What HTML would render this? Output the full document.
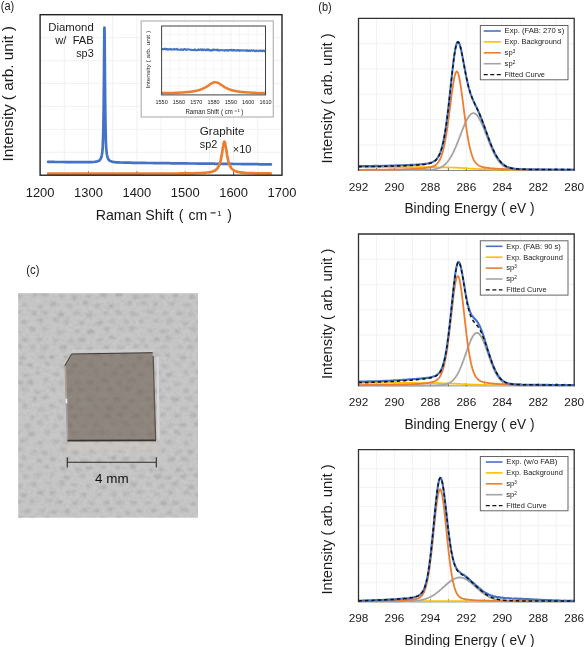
<!DOCTYPE html>
<html><head><meta charset="utf-8"><style>
html,body{margin:0;padding:0;background:#fff;}
svg{display:block;font-family:"Liberation Sans", sans-serif;will-change:transform;}
</style></head><body>
<svg width="584" height="647" viewBox="0 0 584 647">
<rect width="584" height="647" fill="#fff"/>
<defs>
<pattern id="dots" x="18" y="293" width="15" height="18" patternUnits="userSpaceOnUse">
<ellipse cx="4" cy="4" rx="3.2" ry="2.2" fill="#9c9c9c"/>
<ellipse cx="11.5" cy="13" rx="3.2" ry="2.2" fill="#9c9c9c"/>
</pattern>
<filter id="blur1" x="-5%" y="-5%" width="110%" height="110%"><feGaussianBlur stdDeviation="1.1"/></filter>
<filter id="blur2" x="-5%" y="-5%" width="110%" height="110%"><feGaussianBlur stdDeviation="1.25"/></filter>
<filter id="noise" x="0" y="0" width="100%" height="100%"><feTurbulence type="fractalNoise" baseFrequency="0.3" numOctaves="2" seed="7"/><feColorMatrix type="matrix" values="1.6 0 0 0 -0.05  1.6 0 0 0 -0.05  1.6 0 0 0 -0.05  0 0 0 0 1"/><feComposite in2="SourceGraphic" operator="in"/></filter>
<filter id="noise2" x="0" y="0" width="100%" height="100%"><feTurbulence type="fractalNoise" baseFrequency="0.09" numOctaves="2" seed="11"/><feColorMatrix type="matrix" values="0 0 0 0 0.30  0 0 0 0 0.28  0 0 0 0 0.26  3.2 0 0 0 -1.5"/><feComposite in2="SourceGraphic" operator="in"/></filter>
<clipPath id="photoclip"><rect x="18.2" y="293.2" width="179.8" height="224.5"/></clipPath>
</defs>
<rect x="18.2" y="293.2" width="179.8" height="224.5" fill="#c3c3c3"/>
<g clip-path="url(#photoclip)"><g filter="url(#blur2)" opacity="0.45"><ellipse cx="18.6" cy="297.0" rx="3.5" ry="2.3" fill="rgb(160,160,160)"/><ellipse cx="34.6" cy="294.1" rx="3.1" ry="2.3" fill="rgb(160,160,160)"/><ellipse cx="44.8" cy="294.6" rx="2.9" ry="2.3" fill="rgb(152,152,152)"/><ellipse cx="61.7" cy="296.3" rx="2.4" ry="1.7" fill="rgb(148,148,148)"/><ellipse cx="74.4" cy="297.5" rx="2.9" ry="2.2" fill="rgb(142,142,142)"/><ellipse cx="88.7" cy="296.5" rx="2.6" ry="1.5" fill="rgb(140,140,140)"/><ellipse cx="103.5" cy="294.9" rx="3.8" ry="2.3" fill="rgb(149,149,149)"/><ellipse cx="118.6" cy="294.8" rx="3.6" ry="2.1" fill="rgb(145,145,145)"/><ellipse cx="136.2" cy="296.8" rx="3.8" ry="2.3" fill="rgb(149,149,149)"/><ellipse cx="146.1" cy="295.7" rx="3.7" ry="1.7" fill="rgb(150,150,150)"/><ellipse cx="162.0" cy="296.4" rx="2.4" ry="2.1" fill="rgb(150,150,150)"/><ellipse cx="175.3" cy="295.4" rx="2.8" ry="2.1" fill="rgb(145,145,145)"/><ellipse cx="191.9" cy="296.8" rx="2.5" ry="2.4" fill="rgb(140,140,140)"/><ellipse cx="208.7" cy="295.4" rx="3.0" ry="2.0" fill="rgb(153,153,153)"/><ellipse cx="24.5" cy="304.9" rx="2.4" ry="1.5" fill="rgb(145,145,145)"/><ellipse cx="40.3" cy="306.4" rx="2.6" ry="1.7" fill="rgb(154,154,154)"/><ellipse cx="53.4" cy="304.0" rx="3.1" ry="2.2" fill="rgb(143,143,143)"/><ellipse cx="69.1" cy="305.7" rx="2.9" ry="1.8" fill="rgb(153,153,153)"/><ellipse cx="85.4" cy="303.0" rx="2.9" ry="2.0" fill="rgb(144,144,144)"/><ellipse cx="96.9" cy="306.3" rx="3.2" ry="1.8" fill="rgb(150,150,150)"/><ellipse cx="111.2" cy="305.8" rx="3.3" ry="2.1" fill="rgb(149,149,149)"/><ellipse cx="129.2" cy="303.2" rx="2.5" ry="2.4" fill="rgb(157,157,157)"/><ellipse cx="143.3" cy="302.7" rx="3.4" ry="1.8" fill="rgb(148,148,148)"/><ellipse cx="155.5" cy="304.3" rx="2.5" ry="2.3" fill="rgb(141,141,141)"/><ellipse cx="171.7" cy="303.9" rx="2.7" ry="2.4" fill="rgb(158,158,158)"/><ellipse cx="186.9" cy="305.1" rx="3.5" ry="1.6" fill="rgb(153,153,153)"/><ellipse cx="198.6" cy="302.8" rx="3.0" ry="1.6" fill="rgb(159,159,159)"/><ellipse cx="215.5" cy="306.5" rx="3.0" ry="1.9" fill="rgb(150,150,150)"/><ellipse cx="17.9" cy="312.4" rx="3.0" ry="1.6" fill="rgb(152,152,152)"/><ellipse cx="34.1" cy="313.3" rx="2.7" ry="2.3" fill="rgb(150,150,150)"/><ellipse cx="45.4" cy="313.2" rx="3.1" ry="2.0" fill="rgb(156,156,156)"/><ellipse cx="60.8" cy="314.3" rx="3.5" ry="2.1" fill="rgb(141,141,141)"/><ellipse cx="77.3" cy="312.7" rx="3.4" ry="1.8" fill="rgb(155,155,155)"/><ellipse cx="89.3" cy="315.1" rx="3.4" ry="2.4" fill="rgb(150,150,150)"/><ellipse cx="105.7" cy="313.5" rx="2.4" ry="2.0" fill="rgb(148,148,148)"/><ellipse cx="118.6" cy="312.3" rx="2.8" ry="2.0" fill="rgb(151,151,151)"/><ellipse cx="133.2" cy="313.8" rx="3.4" ry="2.2" fill="rgb(151,151,151)"/><ellipse cx="150.6" cy="311.9" rx="3.6" ry="1.9" fill="rgb(151,151,151)"/><ellipse cx="165.3" cy="313.3" rx="3.1" ry="1.6" fill="rgb(151,151,151)"/><ellipse cx="179.7" cy="313.1" rx="3.4" ry="2.1" fill="rgb(153,153,153)"/><ellipse cx="190.4" cy="314.3" rx="3.2" ry="2.1" fill="rgb(153,153,153)"/><ellipse cx="205.5" cy="313.4" rx="3.6" ry="1.7" fill="rgb(140,140,140)"/><ellipse cx="23.7" cy="322.1" rx="3.3" ry="1.7" fill="rgb(145,145,145)"/><ellipse cx="40.4" cy="320.0" rx="3.1" ry="1.7" fill="rgb(141,141,141)"/><ellipse cx="56.2" cy="320.2" rx="3.8" ry="1.9" fill="rgb(157,157,157)"/><ellipse cx="66.4" cy="321.7" rx="2.9" ry="2.1" fill="rgb(158,158,158)"/><ellipse cx="81.7" cy="322.7" rx="2.9" ry="1.8" fill="rgb(148,148,148)"/><ellipse cx="99.5" cy="323.3" rx="3.4" ry="2.0" fill="rgb(141,141,141)"/><ellipse cx="112.4" cy="321.0" rx="2.8" ry="2.0" fill="rgb(158,158,158)"/><ellipse cx="125.7" cy="321.2" rx="2.6" ry="1.9" fill="rgb(158,158,158)"/><ellipse cx="141.9" cy="321.3" rx="2.6" ry="2.0" fill="rgb(158,158,158)"/><ellipse cx="155.6" cy="320.6" rx="2.6" ry="1.6" fill="rgb(140,140,140)"/><ellipse cx="169.6" cy="321.1" rx="3.7" ry="2.0" fill="rgb(150,150,150)"/><ellipse cx="185.3" cy="323.4" rx="2.9" ry="1.9" fill="rgb(147,147,147)"/><ellipse cx="199.2" cy="321.7" rx="3.4" ry="1.8" fill="rgb(145,145,145)"/><ellipse cx="214.2" cy="320.8" rx="3.8" ry="1.9" fill="rgb(153,153,153)"/><ellipse cx="15.6" cy="332.2" rx="2.8" ry="2.3" fill="rgb(144,144,144)"/><ellipse cx="32.4" cy="328.9" rx="3.3" ry="1.9" fill="rgb(149,149,149)"/><ellipse cx="44.7" cy="328.9" rx="2.9" ry="1.9" fill="rgb(157,157,157)"/><ellipse cx="60.4" cy="332.1" rx="3.5" ry="1.7" fill="rgb(148,148,148)"/><ellipse cx="77.7" cy="331.3" rx="2.8" ry="1.9" fill="rgb(155,155,155)"/><ellipse cx="90.6" cy="331.9" rx="3.6" ry="2.3" fill="rgb(140,140,140)"/><ellipse cx="106.3" cy="329.6" rx="3.1" ry="1.8" fill="rgb(149,149,149)"/><ellipse cx="120.7" cy="328.5" rx="2.9" ry="2.1" fill="rgb(158,158,158)"/><ellipse cx="132.2" cy="328.4" rx="3.2" ry="2.1" fill="rgb(143,143,143)"/><ellipse cx="150.4" cy="330.6" rx="2.4" ry="2.2" fill="rgb(153,153,153)"/><ellipse cx="163.5" cy="331.2" rx="3.7" ry="2.1" fill="rgb(152,152,152)"/><ellipse cx="177.4" cy="331.1" rx="3.4" ry="2.3" fill="rgb(154,154,154)"/><ellipse cx="193.7" cy="328.7" rx="3.6" ry="2.1" fill="rgb(153,153,153)"/><ellipse cx="206.9" cy="331.0" rx="3.1" ry="1.8" fill="rgb(145,145,145)"/><ellipse cx="25.1" cy="339.2" rx="3.1" ry="1.8" fill="rgb(144,144,144)"/><ellipse cx="39.3" cy="339.2" rx="2.5" ry="2.2" fill="rgb(148,148,148)"/><ellipse cx="55.8" cy="340.2" rx="3.3" ry="1.5" fill="rgb(153,153,153)"/><ellipse cx="71.1" cy="341.0" rx="3.4" ry="1.5" fill="rgb(143,143,143)"/><ellipse cx="81.8" cy="339.6" rx="3.7" ry="2.1" fill="rgb(144,144,144)"/><ellipse cx="100.2" cy="339.8" rx="3.0" ry="1.7" fill="rgb(145,145,145)"/><ellipse cx="111.8" cy="337.6" rx="3.3" ry="1.5" fill="rgb(143,143,143)"/><ellipse cx="127.5" cy="340.0" rx="2.8" ry="2.0" fill="rgb(143,143,143)"/><ellipse cx="142.4" cy="340.5" rx="2.6" ry="1.9" fill="rgb(150,150,150)"/><ellipse cx="156.6" cy="339.0" rx="2.9" ry="2.1" fill="rgb(141,141,141)"/><ellipse cx="168.4" cy="338.2" rx="3.2" ry="2.1" fill="rgb(149,149,149)"/><ellipse cx="186.8" cy="339.2" rx="3.3" ry="1.7" fill="rgb(157,157,157)"/><ellipse cx="197.9" cy="340.3" rx="2.8" ry="2.4" fill="rgb(147,147,147)"/><ellipse cx="215.5" cy="338.8" rx="2.9" ry="1.6" fill="rgb(140,140,140)"/><ellipse cx="18.8" cy="345.9" rx="3.3" ry="1.6" fill="rgb(143,143,143)"/><ellipse cx="32.5" cy="347.4" rx="2.9" ry="1.9" fill="rgb(150,150,150)"/><ellipse cx="45.0" cy="347.7" rx="3.2" ry="1.8" fill="rgb(144,144,144)"/><ellipse cx="63.7" cy="347.3" rx="3.5" ry="2.2" fill="rgb(142,142,142)"/><ellipse cx="78.4" cy="348.3" rx="3.5" ry="1.6" fill="rgb(159,159,159)"/><ellipse cx="89.9" cy="348.9" rx="2.8" ry="2.3" fill="rgb(151,151,151)"/><ellipse cx="106.5" cy="347.1" rx="3.4" ry="1.8" fill="rgb(149,149,149)"/><ellipse cx="121.0" cy="347.3" rx="3.6" ry="2.0" fill="rgb(158,158,158)"/><ellipse cx="136.5" cy="346.5" rx="2.7" ry="1.6" fill="rgb(141,141,141)"/><ellipse cx="146.2" cy="346.4" rx="2.5" ry="2.3" fill="rgb(155,155,155)"/><ellipse cx="163.8" cy="347.0" rx="3.0" ry="1.8" fill="rgb(159,159,159)"/><ellipse cx="179.6" cy="346.9" rx="3.0" ry="1.7" fill="rgb(160,160,160)"/><ellipse cx="190.3" cy="347.1" rx="2.9" ry="2.3" fill="rgb(144,144,144)"/><ellipse cx="206.8" cy="346.0" rx="3.5" ry="2.2" fill="rgb(147,147,147)"/><ellipse cx="22.9" cy="357.8" rx="2.9" ry="2.2" fill="rgb(150,150,150)"/><ellipse cx="41.9" cy="357.0" rx="3.3" ry="1.9" fill="rgb(144,144,144)"/><ellipse cx="52.3" cy="356.9" rx="2.8" ry="2.1" fill="rgb(145,145,145)"/><ellipse cx="66.4" cy="357.1" rx="3.2" ry="2.1" fill="rgb(159,159,159)"/><ellipse cx="82.7" cy="358.1" rx="2.9" ry="1.8" fill="rgb(154,154,154)"/><ellipse cx="97.0" cy="354.5" rx="3.8" ry="1.9" fill="rgb(147,147,147)"/><ellipse cx="110.6" cy="355.0" rx="2.5" ry="2.0" fill="rgb(148,148,148)"/><ellipse cx="124.2" cy="354.4" rx="3.5" ry="1.9" fill="rgb(141,141,141)"/><ellipse cx="138.9" cy="357.5" rx="3.6" ry="2.0" fill="rgb(143,143,143)"/><ellipse cx="156.8" cy="355.1" rx="3.5" ry="1.6" fill="rgb(155,155,155)"/><ellipse cx="168.0" cy="355.2" rx="2.5" ry="1.9" fill="rgb(141,141,141)"/><ellipse cx="182.4" cy="357.5" rx="3.0" ry="2.1" fill="rgb(141,141,141)"/><ellipse cx="201.5" cy="355.0" rx="3.4" ry="2.1" fill="rgb(146,146,146)"/><ellipse cx="213.9" cy="354.5" rx="2.8" ry="1.6" fill="rgb(157,157,157)"/><ellipse cx="20.4" cy="363.4" rx="2.5" ry="2.2" fill="rgb(159,159,159)"/><ellipse cx="30.1" cy="365.0" rx="3.1" ry="2.0" fill="rgb(152,152,152)"/><ellipse cx="47.1" cy="363.3" rx="2.4" ry="2.2" fill="rgb(154,154,154)"/><ellipse cx="63.5" cy="366.8" rx="3.2" ry="1.6" fill="rgb(155,155,155)"/><ellipse cx="73.9" cy="365.9" rx="3.5" ry="1.8" fill="rgb(144,144,144)"/><ellipse cx="90.7" cy="364.7" rx="3.4" ry="2.2" fill="rgb(158,158,158)"/><ellipse cx="105.8" cy="363.9" rx="3.1" ry="1.7" fill="rgb(146,146,146)"/><ellipse cx="121.0" cy="366.3" rx="3.6" ry="1.6" fill="rgb(150,150,150)"/><ellipse cx="133.4" cy="365.9" rx="2.4" ry="1.8" fill="rgb(144,144,144)"/><ellipse cx="148.9" cy="364.6" rx="3.5" ry="2.1" fill="rgb(140,140,140)"/><ellipse cx="164.1" cy="365.6" rx="2.8" ry="2.2" fill="rgb(152,152,152)"/><ellipse cx="177.8" cy="364.1" rx="2.8" ry="1.6" fill="rgb(155,155,155)"/><ellipse cx="192.9" cy="363.9" rx="2.5" ry="2.2" fill="rgb(157,157,157)"/><ellipse cx="204.1" cy="363.3" rx="3.8" ry="2.2" fill="rgb(153,153,153)"/><ellipse cx="27.0" cy="375.2" rx="3.3" ry="1.7" fill="rgb(153,153,153)"/><ellipse cx="37.8" cy="372.2" rx="2.9" ry="1.6" fill="rgb(159,159,159)"/><ellipse cx="55.8" cy="374.3" rx="2.5" ry="2.0" fill="rgb(145,145,145)"/><ellipse cx="69.4" cy="372.0" rx="3.5" ry="1.9" fill="rgb(153,153,153)"/><ellipse cx="81.3" cy="372.7" rx="3.7" ry="1.9" fill="rgb(153,153,153)"/><ellipse cx="96.1" cy="371.6" rx="3.3" ry="1.6" fill="rgb(155,155,155)"/><ellipse cx="114.5" cy="373.8" rx="2.5" ry="2.2" fill="rgb(153,153,153)"/><ellipse cx="127.6" cy="372.2" rx="2.4" ry="2.3" fill="rgb(147,147,147)"/><ellipse cx="141.1" cy="374.9" rx="2.9" ry="1.7" fill="rgb(148,148,148)"/><ellipse cx="157.3" cy="372.6" rx="3.1" ry="2.2" fill="rgb(147,147,147)"/><ellipse cx="169.5" cy="374.6" rx="3.5" ry="2.1" fill="rgb(141,141,141)"/><ellipse cx="185.3" cy="373.0" rx="2.6" ry="2.2" fill="rgb(155,155,155)"/><ellipse cx="198.6" cy="371.8" rx="3.0" ry="2.2" fill="rgb(149,149,149)"/><ellipse cx="215.7" cy="372.2" rx="3.5" ry="1.8" fill="rgb(155,155,155)"/><ellipse cx="19.8" cy="382.5" rx="3.5" ry="1.8" fill="rgb(140,140,140)"/><ellipse cx="30.5" cy="382.4" rx="3.3" ry="2.2" fill="rgb(140,140,140)"/><ellipse cx="46.1" cy="380.1" rx="2.8" ry="1.8" fill="rgb(155,155,155)"/><ellipse cx="61.7" cy="382.8" rx="3.0" ry="2.2" fill="rgb(158,158,158)"/><ellipse cx="78.1" cy="382.8" rx="3.3" ry="2.0" fill="rgb(153,153,153)"/><ellipse cx="89.8" cy="382.4" rx="3.4" ry="2.0" fill="rgb(149,149,149)"/><ellipse cx="103.9" cy="380.1" rx="3.5" ry="2.0" fill="rgb(153,153,153)"/><ellipse cx="118.5" cy="383.7" rx="2.8" ry="2.1" fill="rgb(142,142,142)"/><ellipse cx="131.7" cy="380.4" rx="3.7" ry="1.8" fill="rgb(151,151,151)"/><ellipse cx="149.4" cy="383.4" rx="3.4" ry="2.0" fill="rgb(146,146,146)"/><ellipse cx="162.9" cy="380.4" rx="2.6" ry="1.8" fill="rgb(157,157,157)"/><ellipse cx="177.1" cy="383.9" rx="3.3" ry="1.8" fill="rgb(160,160,160)"/><ellipse cx="192.1" cy="380.8" rx="3.3" ry="1.8" fill="rgb(150,150,150)"/><ellipse cx="204.5" cy="382.8" rx="3.2" ry="2.1" fill="rgb(151,151,151)"/><ellipse cx="23.9" cy="389.0" rx="2.8" ry="2.2" fill="rgb(159,159,159)"/><ellipse cx="37.6" cy="392.4" rx="2.5" ry="1.9" fill="rgb(145,145,145)"/><ellipse cx="52.8" cy="388.9" rx="3.2" ry="2.2" fill="rgb(157,157,157)"/><ellipse cx="69.8" cy="390.3" rx="3.0" ry="2.0" fill="rgb(147,147,147)"/><ellipse cx="82.2" cy="389.7" rx="3.2" ry="2.4" fill="rgb(145,145,145)"/><ellipse cx="97.3" cy="389.2" rx="2.8" ry="2.0" fill="rgb(158,158,158)"/><ellipse cx="110.6" cy="389.4" rx="3.2" ry="2.1" fill="rgb(150,150,150)"/><ellipse cx="127.8" cy="388.8" rx="3.1" ry="2.3" fill="rgb(142,142,142)"/><ellipse cx="140.3" cy="392.0" rx="3.3" ry="2.3" fill="rgb(147,147,147)"/><ellipse cx="157.7" cy="391.1" rx="3.5" ry="2.3" fill="rgb(140,140,140)"/><ellipse cx="168.7" cy="389.2" rx="2.5" ry="1.6" fill="rgb(159,159,159)"/><ellipse cx="186.0" cy="390.9" rx="3.0" ry="1.8" fill="rgb(145,145,145)"/><ellipse cx="200.3" cy="392.3" rx="3.7" ry="2.1" fill="rgb(143,143,143)"/><ellipse cx="213.0" cy="391.9" rx="2.7" ry="1.8" fill="rgb(145,145,145)"/><ellipse cx="17.8" cy="399.9" rx="3.4" ry="1.6" fill="rgb(152,152,152)"/><ellipse cx="34.7" cy="399.1" rx="2.4" ry="2.4" fill="rgb(151,151,151)"/><ellipse cx="45.2" cy="397.2" rx="2.9" ry="1.8" fill="rgb(142,142,142)"/><ellipse cx="61.5" cy="401.0" rx="3.4" ry="1.5" fill="rgb(155,155,155)"/><ellipse cx="78.5" cy="400.2" rx="2.7" ry="1.8" fill="rgb(144,144,144)"/><ellipse cx="89.5" cy="399.2" rx="3.4" ry="2.2" fill="rgb(158,158,158)"/><ellipse cx="103.0" cy="398.8" rx="3.7" ry="1.6" fill="rgb(153,153,153)"/><ellipse cx="117.3" cy="398.9" rx="2.7" ry="2.1" fill="rgb(142,142,142)"/><ellipse cx="132.2" cy="401.1" rx="3.2" ry="1.9" fill="rgb(145,145,145)"/><ellipse cx="148.7" cy="398.7" rx="3.7" ry="1.6" fill="rgb(151,151,151)"/><ellipse cx="161.1" cy="397.5" rx="3.5" ry="1.6" fill="rgb(140,140,140)"/><ellipse cx="175.1" cy="399.4" rx="3.7" ry="2.3" fill="rgb(142,142,142)"/><ellipse cx="189.8" cy="398.1" rx="3.8" ry="1.9" fill="rgb(155,155,155)"/><ellipse cx="206.6" cy="401.0" rx="3.2" ry="2.3" fill="rgb(155,155,155)"/><ellipse cx="25.2" cy="406.0" rx="2.9" ry="2.2" fill="rgb(153,153,153)"/><ellipse cx="41.5" cy="409.6" rx="3.3" ry="2.1" fill="rgb(158,158,158)"/><ellipse cx="51.9" cy="405.9" rx="3.5" ry="1.9" fill="rgb(153,153,153)"/><ellipse cx="70.8" cy="407.3" rx="3.8" ry="2.2" fill="rgb(150,150,150)"/><ellipse cx="81.4" cy="408.9" rx="3.0" ry="2.4" fill="rgb(151,151,151)"/><ellipse cx="96.3" cy="407.5" rx="2.8" ry="1.9" fill="rgb(149,149,149)"/><ellipse cx="109.7" cy="408.3" rx="3.5" ry="2.2" fill="rgb(142,142,142)"/><ellipse cx="124.6" cy="407.3" rx="3.7" ry="2.3" fill="rgb(146,146,146)"/><ellipse cx="141.9" cy="408.8" rx="3.1" ry="1.8" fill="rgb(154,154,154)"/><ellipse cx="153.9" cy="406.7" rx="3.7" ry="2.3" fill="rgb(140,140,140)"/><ellipse cx="167.8" cy="409.0" rx="2.5" ry="1.6" fill="rgb(160,160,160)"/><ellipse cx="184.1" cy="408.9" rx="2.6" ry="2.0" fill="rgb(157,157,157)"/><ellipse cx="197.2" cy="406.2" rx="3.3" ry="1.8" fill="rgb(151,151,151)"/><ellipse cx="215.7" cy="408.0" rx="3.0" ry="2.3" fill="rgb(158,158,158)"/><ellipse cx="16.2" cy="414.5" rx="2.4" ry="1.8" fill="rgb(147,147,147)"/><ellipse cx="32.4" cy="417.2" rx="2.4" ry="2.2" fill="rgb(153,153,153)"/><ellipse cx="45.7" cy="417.3" rx="2.7" ry="1.8" fill="rgb(156,156,156)"/><ellipse cx="60.2" cy="417.2" rx="3.6" ry="2.2" fill="rgb(157,157,157)"/><ellipse cx="75.0" cy="416.2" rx="3.3" ry="2.3" fill="rgb(151,151,151)"/><ellipse cx="90.8" cy="415.5" rx="3.2" ry="2.0" fill="rgb(152,152,152)"/><ellipse cx="107.4" cy="415.6" rx="2.6" ry="2.3" fill="rgb(142,142,142)"/><ellipse cx="120.2" cy="414.6" rx="2.7" ry="2.1" fill="rgb(143,143,143)"/><ellipse cx="136.1" cy="415.6" rx="3.2" ry="2.2" fill="rgb(144,144,144)"/><ellipse cx="148.3" cy="414.7" rx="2.4" ry="2.0" fill="rgb(158,158,158)"/><ellipse cx="162.8" cy="414.6" rx="2.5" ry="1.8" fill="rgb(144,144,144)"/><ellipse cx="176.9" cy="415.8" rx="3.5" ry="1.9" fill="rgb(144,144,144)"/><ellipse cx="193.2" cy="415.4" rx="3.6" ry="2.1" fill="rgb(152,152,152)"/><ellipse cx="204.8" cy="417.6" rx="3.4" ry="2.0" fill="rgb(154,154,154)"/><ellipse cx="27.3" cy="426.3" rx="3.2" ry="2.0" fill="rgb(151,151,151)"/><ellipse cx="40.0" cy="423.0" rx="2.5" ry="2.2" fill="rgb(155,155,155)"/><ellipse cx="55.1" cy="425.6" rx="2.4" ry="1.9" fill="rgb(153,153,153)"/><ellipse cx="69.8" cy="425.4" rx="3.3" ry="1.7" fill="rgb(143,143,143)"/><ellipse cx="84.2" cy="425.9" rx="3.2" ry="1.5" fill="rgb(154,154,154)"/><ellipse cx="96.7" cy="425.1" rx="3.2" ry="2.3" fill="rgb(160,160,160)"/><ellipse cx="113.1" cy="424.1" rx="3.0" ry="1.8" fill="rgb(154,154,154)"/><ellipse cx="125.7" cy="423.0" rx="3.5" ry="2.0" fill="rgb(155,155,155)"/><ellipse cx="141.0" cy="423.6" rx="2.7" ry="1.7" fill="rgb(159,159,159)"/><ellipse cx="154.2" cy="423.4" rx="2.9" ry="1.6" fill="rgb(153,153,153)"/><ellipse cx="169.9" cy="425.1" rx="3.0" ry="1.7" fill="rgb(155,155,155)"/><ellipse cx="183.0" cy="425.0" rx="3.7" ry="1.8" fill="rgb(140,140,140)"/><ellipse cx="197.4" cy="424.1" rx="3.1" ry="2.0" fill="rgb(146,146,146)"/><ellipse cx="214.0" cy="425.6" rx="3.0" ry="2.2" fill="rgb(150,150,150)"/><ellipse cx="17.0" cy="432.0" rx="2.8" ry="1.8" fill="rgb(156,156,156)"/><ellipse cx="31.3" cy="434.1" rx="3.3" ry="2.4" fill="rgb(143,143,143)"/><ellipse cx="47.9" cy="432.0" rx="2.5" ry="2.3" fill="rgb(149,149,149)"/><ellipse cx="63.2" cy="433.9" rx="2.5" ry="2.4" fill="rgb(152,152,152)"/><ellipse cx="74.4" cy="432.9" rx="3.5" ry="1.6" fill="rgb(150,150,150)"/><ellipse cx="92.4" cy="432.8" rx="2.8" ry="1.8" fill="rgb(153,153,153)"/><ellipse cx="102.8" cy="432.8" rx="2.7" ry="2.3" fill="rgb(156,156,156)"/><ellipse cx="119.0" cy="433.4" rx="2.5" ry="1.9" fill="rgb(158,158,158)"/><ellipse cx="134.2" cy="434.2" rx="3.4" ry="1.8" fill="rgb(151,151,151)"/><ellipse cx="150.7" cy="433.5" rx="2.5" ry="2.2" fill="rgb(143,143,143)"/><ellipse cx="163.6" cy="432.0" rx="3.3" ry="2.1" fill="rgb(152,152,152)"/><ellipse cx="177.2" cy="432.7" rx="3.2" ry="2.4" fill="rgb(153,153,153)"/><ellipse cx="189.7" cy="435.1" rx="3.8" ry="1.6" fill="rgb(160,160,160)"/><ellipse cx="204.9" cy="432.4" rx="3.6" ry="2.1" fill="rgb(142,142,142)"/><ellipse cx="23.4" cy="440.4" rx="3.7" ry="1.9" fill="rgb(154,154,154)"/><ellipse cx="40.0" cy="443.4" rx="3.3" ry="1.7" fill="rgb(145,145,145)"/><ellipse cx="55.4" cy="441.2" rx="3.1" ry="2.2" fill="rgb(159,159,159)"/><ellipse cx="66.7" cy="442.6" rx="3.0" ry="2.4" fill="rgb(143,143,143)"/><ellipse cx="82.9" cy="441.1" rx="2.7" ry="2.1" fill="rgb(154,154,154)"/><ellipse cx="96.5" cy="442.1" rx="3.3" ry="2.2" fill="rgb(155,155,155)"/><ellipse cx="110.2" cy="442.5" rx="2.8" ry="1.8" fill="rgb(141,141,141)"/><ellipse cx="126.9" cy="442.4" rx="2.7" ry="1.5" fill="rgb(158,158,158)"/><ellipse cx="141.7" cy="442.8" rx="3.1" ry="2.3" fill="rgb(159,159,159)"/><ellipse cx="154.6" cy="441.5" rx="3.6" ry="1.6" fill="rgb(153,153,153)"/><ellipse cx="169.2" cy="441.7" rx="3.5" ry="1.8" fill="rgb(146,146,146)"/><ellipse cx="186.0" cy="443.1" rx="2.4" ry="2.3" fill="rgb(149,149,149)"/><ellipse cx="201.5" cy="441.9" rx="2.8" ry="2.2" fill="rgb(158,158,158)"/><ellipse cx="214.6" cy="441.6" rx="3.4" ry="2.0" fill="rgb(159,159,159)"/><ellipse cx="19.4" cy="448.9" rx="3.2" ry="2.1" fill="rgb(157,157,157)"/><ellipse cx="34.0" cy="451.9" rx="3.6" ry="1.5" fill="rgb(157,157,157)"/><ellipse cx="44.5" cy="452.7" rx="3.4" ry="1.7" fill="rgb(145,145,145)"/><ellipse cx="63.3" cy="449.8" rx="3.6" ry="2.1" fill="rgb(152,152,152)"/><ellipse cx="75.6" cy="452.3" rx="3.3" ry="2.3" fill="rgb(146,146,146)"/><ellipse cx="91.3" cy="451.1" rx="3.4" ry="2.0" fill="rgb(153,153,153)"/><ellipse cx="105.4" cy="449.7" rx="2.5" ry="2.0" fill="rgb(157,157,157)"/><ellipse cx="120.8" cy="450.6" rx="3.4" ry="1.6" fill="rgb(148,148,148)"/><ellipse cx="134.2" cy="448.8" rx="3.0" ry="1.9" fill="rgb(146,146,146)"/><ellipse cx="149.8" cy="449.2" rx="3.0" ry="1.9" fill="rgb(155,155,155)"/><ellipse cx="162.9" cy="450.9" rx="2.4" ry="2.2" fill="rgb(159,159,159)"/><ellipse cx="178.1" cy="452.1" rx="3.3" ry="2.1" fill="rgb(159,159,159)"/><ellipse cx="190.5" cy="451.4" rx="3.0" ry="2.0" fill="rgb(142,142,142)"/><ellipse cx="207.5" cy="449.6" rx="3.1" ry="2.3" fill="rgb(145,145,145)"/><ellipse cx="23.8" cy="457.4" rx="3.0" ry="1.8" fill="rgb(152,152,152)"/><ellipse cx="39.2" cy="460.5" rx="2.6" ry="1.8" fill="rgb(146,146,146)"/><ellipse cx="52.8" cy="459.0" rx="3.0" ry="1.9" fill="rgb(140,140,140)"/><ellipse cx="67.6" cy="459.5" rx="2.7" ry="2.1" fill="rgb(148,148,148)"/><ellipse cx="84.5" cy="460.9" rx="3.7" ry="2.2" fill="rgb(153,153,153)"/><ellipse cx="99.3" cy="461.0" rx="3.2" ry="2.2" fill="rgb(154,154,154)"/><ellipse cx="113.4" cy="458.2" rx="3.2" ry="2.1" fill="rgb(141,141,141)"/><ellipse cx="125.2" cy="459.5" rx="3.6" ry="1.8" fill="rgb(143,143,143)"/><ellipse cx="142.2" cy="459.1" rx="3.5" ry="2.1" fill="rgb(145,145,145)"/><ellipse cx="153.2" cy="458.0" rx="3.0" ry="1.6" fill="rgb(140,140,140)"/><ellipse cx="171.2" cy="459.3" rx="3.6" ry="2.3" fill="rgb(142,142,142)"/><ellipse cx="184.6" cy="458.9" rx="3.8" ry="2.2" fill="rgb(151,151,151)"/><ellipse cx="200.5" cy="459.3" rx="3.5" ry="1.9" fill="rgb(150,150,150)"/><ellipse cx="214.2" cy="459.5" rx="2.6" ry="1.9" fill="rgb(154,154,154)"/><ellipse cx="20.4" cy="466.1" rx="3.1" ry="1.6" fill="rgb(156,156,156)"/><ellipse cx="30.4" cy="468.1" rx="2.7" ry="2.1" fill="rgb(159,159,159)"/><ellipse cx="46.1" cy="466.3" rx="2.9" ry="1.7" fill="rgb(151,151,151)"/><ellipse cx="63.3" cy="469.1" rx="2.8" ry="2.1" fill="rgb(143,143,143)"/><ellipse cx="78.1" cy="469.6" rx="3.5" ry="2.3" fill="rgb(160,160,160)"/><ellipse cx="88.4" cy="467.9" rx="3.6" ry="1.7" fill="rgb(149,149,149)"/><ellipse cx="103.3" cy="467.1" rx="3.0" ry="1.6" fill="rgb(156,156,156)"/><ellipse cx="118.2" cy="467.2" rx="2.5" ry="1.8" fill="rgb(152,152,152)"/><ellipse cx="133.0" cy="466.4" rx="2.9" ry="2.4" fill="rgb(142,142,142)"/><ellipse cx="150.9" cy="469.5" rx="2.9" ry="1.6" fill="rgb(150,150,150)"/><ellipse cx="161.0" cy="469.4" rx="2.9" ry="2.1" fill="rgb(154,154,154)"/><ellipse cx="178.5" cy="469.7" rx="3.2" ry="2.3" fill="rgb(149,149,149)"/><ellipse cx="190.8" cy="469.3" rx="3.1" ry="1.8" fill="rgb(156,156,156)"/><ellipse cx="204.5" cy="468.0" rx="3.6" ry="1.9" fill="rgb(146,146,146)"/><ellipse cx="25.8" cy="476.2" rx="3.0" ry="1.6" fill="rgb(154,154,154)"/><ellipse cx="38.8" cy="474.8" rx="3.5" ry="1.9" fill="rgb(158,158,158)"/><ellipse cx="52.2" cy="474.6" rx="2.6" ry="1.8" fill="rgb(158,158,158)"/><ellipse cx="66.7" cy="477.6" rx="3.7" ry="1.6" fill="rgb(142,142,142)"/><ellipse cx="82.2" cy="475.8" rx="3.0" ry="1.7" fill="rgb(153,153,153)"/><ellipse cx="97.5" cy="475.2" rx="2.9" ry="2.1" fill="rgb(156,156,156)"/><ellipse cx="112.5" cy="476.2" rx="3.1" ry="1.9" fill="rgb(141,141,141)"/><ellipse cx="125.1" cy="476.5" rx="2.8" ry="2.1" fill="rgb(143,143,143)"/><ellipse cx="140.9" cy="475.7" rx="3.7" ry="1.8" fill="rgb(160,160,160)"/><ellipse cx="157.9" cy="476.2" rx="3.6" ry="2.4" fill="rgb(144,144,144)"/><ellipse cx="168.4" cy="477.8" rx="3.2" ry="1.8" fill="rgb(145,145,145)"/><ellipse cx="183.1" cy="476.2" rx="3.7" ry="1.9" fill="rgb(148,148,148)"/><ellipse cx="197.7" cy="475.2" rx="3.7" ry="2.0" fill="rgb(143,143,143)"/><ellipse cx="212.6" cy="474.7" rx="3.5" ry="2.1" fill="rgb(147,147,147)"/><ellipse cx="19.0" cy="486.7" rx="3.3" ry="1.5" fill="rgb(143,143,143)"/><ellipse cx="33.9" cy="484.4" rx="2.9" ry="2.1" fill="rgb(145,145,145)"/><ellipse cx="48.7" cy="483.3" rx="2.7" ry="1.5" fill="rgb(155,155,155)"/><ellipse cx="61.6" cy="483.4" rx="2.7" ry="2.4" fill="rgb(150,150,150)"/><ellipse cx="74.6" cy="485.0" rx="2.4" ry="1.6" fill="rgb(146,146,146)"/><ellipse cx="88.5" cy="486.0" rx="2.6" ry="2.3" fill="rgb(160,160,160)"/><ellipse cx="103.0" cy="487.2" rx="3.4" ry="2.3" fill="rgb(151,151,151)"/><ellipse cx="120.9" cy="484.2" rx="2.6" ry="1.7" fill="rgb(142,142,142)"/><ellipse cx="133.5" cy="484.2" rx="3.7" ry="2.3" fill="rgb(149,149,149)"/><ellipse cx="148.3" cy="484.1" rx="2.5" ry="2.2" fill="rgb(157,157,157)"/><ellipse cx="161.6" cy="485.9" rx="2.5" ry="1.9" fill="rgb(148,148,148)"/><ellipse cx="175.0" cy="483.8" rx="3.4" ry="2.3" fill="rgb(150,150,150)"/><ellipse cx="191.3" cy="487.0" rx="3.1" ry="2.3" fill="rgb(140,140,140)"/><ellipse cx="207.0" cy="484.5" rx="2.9" ry="1.8" fill="rgb(160,160,160)"/><ellipse cx="23.8" cy="495.2" rx="3.2" ry="1.9" fill="rgb(140,140,140)"/><ellipse cx="40.2" cy="492.6" rx="3.7" ry="2.0" fill="rgb(142,142,142)"/><ellipse cx="52.8" cy="492.6" rx="3.3" ry="2.0" fill="rgb(149,149,149)"/><ellipse cx="70.4" cy="492.4" rx="3.5" ry="1.7" fill="rgb(159,159,159)"/><ellipse cx="83.7" cy="494.6" rx="3.4" ry="1.9" fill="rgb(154,154,154)"/><ellipse cx="98.3" cy="494.6" rx="2.5" ry="1.7" fill="rgb(154,154,154)"/><ellipse cx="113.7" cy="494.4" rx="3.3" ry="2.1" fill="rgb(158,158,158)"/><ellipse cx="126.6" cy="493.9" rx="3.6" ry="1.8" fill="rgb(157,157,157)"/><ellipse cx="139.5" cy="492.4" rx="3.5" ry="1.8" fill="rgb(155,155,155)"/><ellipse cx="157.5" cy="494.2" rx="2.9" ry="1.7" fill="rgb(157,157,157)"/><ellipse cx="170.5" cy="492.6" rx="2.5" ry="2.3" fill="rgb(140,140,140)"/><ellipse cx="186.8" cy="492.5" rx="3.2" ry="1.7" fill="rgb(145,145,145)"/><ellipse cx="198.1" cy="495.1" rx="2.8" ry="2.1" fill="rgb(149,149,149)"/><ellipse cx="214.7" cy="494.3" rx="2.4" ry="1.7" fill="rgb(148,148,148)"/><ellipse cx="19.5" cy="501.9" rx="3.5" ry="1.6" fill="rgb(152,152,152)"/><ellipse cx="32.4" cy="501.0" rx="3.3" ry="2.1" fill="rgb(155,155,155)"/><ellipse cx="49.2" cy="500.6" rx="3.8" ry="1.9" fill="rgb(159,159,159)"/><ellipse cx="59.2" cy="502.4" rx="3.3" ry="1.8" fill="rgb(145,145,145)"/><ellipse cx="75.3" cy="502.9" rx="3.3" ry="2.1" fill="rgb(152,152,152)"/><ellipse cx="91.5" cy="503.2" rx="3.4" ry="1.7" fill="rgb(159,159,159)"/><ellipse cx="106.4" cy="503.0" rx="2.8" ry="2.4" fill="rgb(153,153,153)"/><ellipse cx="119.5" cy="502.5" rx="3.4" ry="2.2" fill="rgb(154,154,154)"/><ellipse cx="133.9" cy="502.4" rx="3.3" ry="1.7" fill="rgb(147,147,147)"/><ellipse cx="147.6" cy="503.3" rx="3.7" ry="1.6" fill="rgb(154,154,154)"/><ellipse cx="163.8" cy="502.6" rx="3.5" ry="2.3" fill="rgb(144,144,144)"/><ellipse cx="175.1" cy="503.2" rx="3.4" ry="1.6" fill="rgb(143,143,143)"/><ellipse cx="193.5" cy="503.7" rx="2.5" ry="1.9" fill="rgb(145,145,145)"/><ellipse cx="208.7" cy="503.4" rx="2.9" ry="2.2" fill="rgb(157,157,157)"/><ellipse cx="27.6" cy="511.1" rx="3.5" ry="1.8" fill="rgb(147,147,147)"/><ellipse cx="42.1" cy="511.0" rx="3.1" ry="2.1" fill="rgb(157,157,157)"/><ellipse cx="53.3" cy="512.1" rx="3.2" ry="1.5" fill="rgb(141,141,141)"/><ellipse cx="67.2" cy="511.2" rx="2.8" ry="2.4" fill="rgb(147,147,147)"/><ellipse cx="84.8" cy="510.0" rx="3.3" ry="2.0" fill="rgb(155,155,155)"/><ellipse cx="96.4" cy="510.7" rx="2.7" ry="1.9" fill="rgb(150,150,150)"/><ellipse cx="110.3" cy="509.6" rx="2.8" ry="2.2" fill="rgb(151,151,151)"/><ellipse cx="128.0" cy="513.0" rx="2.5" ry="2.0" fill="rgb(148,148,148)"/><ellipse cx="139.3" cy="511.1" rx="2.8" ry="1.6" fill="rgb(143,143,143)"/><ellipse cx="153.7" cy="510.2" rx="2.6" ry="2.3" fill="rgb(147,147,147)"/><ellipse cx="169.3" cy="512.8" rx="2.5" ry="2.3" fill="rgb(153,153,153)"/><ellipse cx="184.1" cy="509.5" rx="3.6" ry="2.0" fill="rgb(152,152,152)"/><ellipse cx="200.4" cy="512.2" rx="2.4" ry="1.8" fill="rgb(154,154,154)"/><ellipse cx="211.9" cy="511.9" rx="3.3" ry="1.8" fill="rgb(157,157,157)"/><ellipse cx="19.8" cy="518.7" rx="3.0" ry="2.4" fill="rgb(140,140,140)"/><ellipse cx="32.3" cy="518.8" rx="3.7" ry="1.9" fill="rgb(149,149,149)"/><ellipse cx="47.1" cy="517.9" rx="3.8" ry="1.6" fill="rgb(158,158,158)"/><ellipse cx="60.2" cy="521.6" rx="3.3" ry="2.0" fill="rgb(155,155,155)"/><ellipse cx="76.1" cy="519.1" rx="2.6" ry="1.5" fill="rgb(143,143,143)"/><ellipse cx="91.1" cy="519.3" rx="3.7" ry="1.9" fill="rgb(157,157,157)"/><ellipse cx="103.7" cy="518.9" rx="3.1" ry="1.7" fill="rgb(155,155,155)"/><ellipse cx="119.4" cy="517.9" rx="2.5" ry="2.3" fill="rgb(158,158,158)"/><ellipse cx="134.2" cy="521.6" rx="3.0" ry="2.1" fill="rgb(154,154,154)"/><ellipse cx="150.7" cy="520.3" rx="2.5" ry="1.9" fill="rgb(158,158,158)"/><ellipse cx="161.3" cy="519.0" rx="3.4" ry="2.2" fill="rgb(153,153,153)"/><ellipse cx="175.9" cy="519.4" rx="3.7" ry="2.3" fill="rgb(155,155,155)"/><ellipse cx="192.4" cy="521.1" rx="3.0" ry="1.6" fill="rgb(151,151,151)"/><ellipse cx="206.4" cy="521.1" rx="2.8" ry="2.4" fill="rgb(150,150,150)"/></g></g>
<rect x="18.2" y="293.2" width="179.8" height="224.5" fill="#000" filter="url(#noise)" opacity="0.09"/>
<rect x="66" y="442" width="91" height="9" fill="#cfc8c2" opacity="0.55" filter="url(#blur1)"/>
<rect x="72" y="349.5" width="81" height="3" fill="#d8d8d8" opacity="0.45"/>
<path d="M64.8,365.7 L71.6,354 L152.7,352.7 L155.8,440.6 L67.5,441.1 Z" fill="rgb(92,78,62)" fill-opacity="0.53"/>
<clipPath id="chipclip"><path d="M64.8,365.7 L71.6,354 L152.7,352.7 L155.8,440.6 L67.5,441.1 Z"/></clipPath>
<rect x="64" y="352" width="94" height="90" fill="#000" filter="url(#noise2)" opacity="0.25" clip-path="url(#chipclip)"/>
<path d="M65.3,366 L67.6,440.5" stroke="#a8a098" stroke-width="1.6" fill="none"/>
<path d="M64.8,365.7 L71.6,354 L152.7,352.7" stroke="#3e3934" stroke-width="1.0" fill="none"/>
<path d="M67.5,440.6 L156,440.3" stroke="#3a3430" stroke-width="1.8" fill="none"/>
<path d="M153.2,356 L155.6,440" stroke="#5a534c" stroke-width="1.3" fill="none"/>
<path d="M157.6,356.5 L158.6,439.5" stroke="#d6d6d6" stroke-width="2.2" fill="none"/>
<path d="M66.4,398.8 L66.5,403.2" stroke="#f2f2f2" stroke-width="1.6" fill="none"/>
<path d="M67.3,462.3 H156.3 M67.3,457.2 V467.5 M156.3,457.2 V467.5" stroke="#2a2a2a" stroke-width="1.1" fill="none"/>
<text x="0.80" y="10.40" font-size="12" text-anchor="start" fill="#1a1a1a" textLength="13.40" lengthAdjust="spacingAndGlyphs" >(a)</text>
<line x1="40.10" y1="37.63" x2="282.00" y2="37.63" stroke="#ededed" stroke-width="0.8" />
<line x1="40.10" y1="60.56" x2="282.00" y2="60.56" stroke="#ededed" stroke-width="0.8" />
<line x1="40.10" y1="83.49" x2="282.00" y2="83.49" stroke="#ededed" stroke-width="0.8" />
<line x1="40.10" y1="106.41" x2="282.00" y2="106.41" stroke="#ededed" stroke-width="0.8" />
<line x1="40.10" y1="129.34" x2="282.00" y2="129.34" stroke="#ededed" stroke-width="0.8" />
<line x1="40.10" y1="152.27" x2="282.00" y2="152.27" stroke="#ededed" stroke-width="0.8" />
<line x1="64.29" y1="14.70" x2="64.29" y2="175.20" stroke="#ededed" stroke-width="0.8" />
<line x1="88.48" y1="14.70" x2="88.48" y2="175.20" stroke="#ededed" stroke-width="0.8" />
<line x1="112.67" y1="14.70" x2="112.67" y2="175.20" stroke="#ededed" stroke-width="0.8" />
<line x1="136.86" y1="14.70" x2="136.86" y2="175.20" stroke="#ededed" stroke-width="0.8" />
<line x1="161.05" y1="14.70" x2="161.05" y2="175.20" stroke="#ededed" stroke-width="0.8" />
<line x1="185.24" y1="14.70" x2="185.24" y2="175.20" stroke="#ededed" stroke-width="0.8" />
<line x1="209.43" y1="14.70" x2="209.43" y2="175.20" stroke="#ededed" stroke-width="0.8" />
<line x1="233.62" y1="14.70" x2="233.62" y2="175.20" stroke="#ededed" stroke-width="0.8" />
<line x1="257.81" y1="14.70" x2="257.81" y2="175.20" stroke="#ededed" stroke-width="0.8" />
<line x1="88.48" y1="171.40" x2="88.48" y2="175.20" stroke="#444" stroke-width="0.9" />
<line x1="136.86" y1="171.40" x2="136.86" y2="175.20" stroke="#444" stroke-width="0.9" />
<line x1="185.24" y1="171.40" x2="185.24" y2="175.20" stroke="#444" stroke-width="0.9" />
<line x1="233.62" y1="171.40" x2="233.62" y2="175.20" stroke="#444" stroke-width="0.9" />
<path d="M48.1,161.9 49.5,161.9 51.0,161.9 52.4,161.9 53.9,161.9 55.3,162.0 56.8,162.0 58.2,162.0 59.7,162.0 61.1,162.0 62.6,162.0 64.0,162.0 65.5,162.1 67.0,162.1 68.4,162.1 69.9,162.1 71.3,162.1 72.8,162.1 74.2,162.1 75.7,162.1 77.1,162.1 78.6,162.2 80.0,162.2 81.5,162.2 82.9,162.2 84.4,162.2 85.8,162.2 87.3,162.1 88.7,162.1 90.2,162.1 91.6,162.1 93.1,162.0 94.5,161.9 96.0,161.7 97.4,161.4 98.9,160.7 99.0,160.7 99.1,160.6 99.2,160.6 99.3,160.5 99.4,160.4 99.5,160.3 99.6,160.3 99.7,160.2 99.8,160.1 99.8,160.0 99.9,159.9 100.0,159.8 100.1,159.6 100.2,159.5 100.3,159.4 100.4,159.2 100.5,159.1 100.6,158.9 100.7,158.7 100.8,158.5 100.9,158.3 101.0,158.1 101.1,157.8 101.2,157.6 101.3,157.3 101.4,157.0 101.5,156.6 101.6,156.2 101.7,155.8 101.8,155.3 101.9,154.8 102.0,154.2 102.1,153.6 102.2,152.9 102.3,152.1 102.4,151.1 102.5,150.1 102.6,148.9 102.7,147.6 102.8,146.1 102.8,144.3 102.9,142.2 103.0,139.8 103.1,137.0 103.2,133.6 103.3,129.7 103.4,124.9 103.5,119.3 103.6,112.5 103.7,104.4 103.8,94.7 103.9,83.5 104.0,70.9 104.1,57.4 104.2,44.4 104.3,33.8 104.4,27.7 104.5,27.7 104.6,33.8 104.7,44.4 104.8,57.4 104.9,70.9 105.0,83.5 105.1,94.7 105.2,104.4 105.3,112.5 105.4,119.3 105.5,125.0 105.6,129.7 105.7,133.7 105.8,137.0 105.8,139.8 105.9,142.3 106.0,144.3 106.1,146.1 106.2,147.6 106.3,149.0 106.4,150.2 106.5,151.2 106.6,152.1 106.7,152.9 106.8,153.6 106.9,154.3 107.0,154.9 107.1,155.4 107.2,155.8 107.3,156.3 107.4,156.7 107.5,157.0 107.6,157.3 107.7,157.6 107.8,157.9 107.9,158.2 108.0,158.4 108.1,158.6 108.2,158.8 108.3,159.0 108.4,159.2 108.5,159.3 108.6,159.5 108.7,159.6 108.8,159.7 108.8,159.9 108.9,160.0 109.0,160.1 109.1,160.2 109.2,160.3 109.3,160.4 109.4,160.5 109.5,160.5 109.6,160.6 109.7,160.7 109.8,160.7 109.9,160.8 110.0,160.9 110.1,160.9 110.2,161.0 110.3,161.0 111.8,161.6 113.2,161.9 114.7,162.1 116.1,162.3 117.6,162.4 119.0,162.4 120.5,162.5 121.9,162.5 123.4,162.6 124.8,162.6 126.3,162.7 127.7,162.7 129.2,162.7 130.6,162.7 132.1,162.8 133.5,162.8 135.0,162.8 136.4,162.8 137.9,162.8 139.3,162.9 140.8,162.9 142.2,162.9 143.7,162.9 145.1,162.9 146.6,163.0 148.0,163.0 149.5,163.0 150.9,163.0 152.4,163.0 153.8,163.1 155.3,163.1 156.7,163.1 158.2,163.1 159.6,163.1 161.1,163.1 162.5,163.2 164.0,163.2 165.5,163.2 166.9,163.2 168.4,163.2 169.8,163.2 171.3,163.3 172.7,163.3 174.2,163.3 175.6,163.3 177.1,163.3 178.5,163.3 180.0,163.4 181.4,163.4 182.9,163.4 184.3,163.4 185.8,163.4 187.2,163.4 188.7,163.5 190.1,163.5 191.6,163.5 193.0,163.5 194.5,163.5 195.9,163.5 197.4,163.6 198.8,163.6 200.3,163.6 201.7,163.6 203.2,163.6 204.6,163.6 206.1,163.7 207.5,163.7 209.0,163.7 210.4,163.7 210.7,163.7 210.9,163.7 211.2,163.7 211.4,163.7 211.7,163.7 211.9,163.7 212.1,163.7 212.4,163.7 212.6,163.7 212.9,163.7 213.1,163.7 213.3,163.7 213.6,163.7 213.8,163.7 214.1,163.7 214.3,163.7 214.6,163.7 214.8,163.8 215.0,163.8 215.3,163.8 215.5,163.8 215.8,163.8 216.0,163.8 216.3,163.8 216.5,163.8 216.7,163.8 217.0,163.8 217.2,163.8 217.5,163.8 217.7,163.8 217.9,163.8 218.2,163.8 218.4,163.8 218.7,163.8 218.9,163.8 219.2,163.8 219.4,163.8 219.6,163.8 219.9,163.8 220.1,163.8 220.4,163.8 220.6,163.8 220.8,163.8 221.1,163.8 221.3,163.8 221.6,163.8 221.8,163.8 222.1,163.8 222.3,163.8 222.5,163.8 222.8,163.8 223.0,163.8 223.3,163.8 223.5,163.9 223.8,163.9 224.0,163.9 224.2,163.9 224.5,163.9 224.7,163.9 225.0,163.9 225.2,163.9 225.4,163.9 225.7,163.9 225.9,163.9 226.2,163.9 226.4,163.9 226.7,163.9 226.9,163.9 227.1,163.9 227.4,163.9 227.6,163.9 227.9,163.9 228.1,163.9 228.3,163.9 228.6,163.9 228.8,163.9 229.1,163.9 229.3,163.9 229.6,163.9 229.8,163.9 230.0,163.9 230.3,163.9 230.5,163.9 230.8,163.9 231.0,163.9 231.2,163.9 231.5,163.9 231.7,163.9 232.0,163.9 232.2,163.9 232.5,164.0 232.7,164.0 232.9,164.0 233.2,164.0 233.4,164.0 233.7,164.0 233.9,164.0 234.2,164.0 234.4,164.0 234.6,164.0 234.9,164.0 235.1,164.0 235.4,164.0 235.6,164.0 235.8,164.0 236.1,164.0 236.3,164.0 236.6,164.0 236.8,164.0 237.1,164.0 237.3,164.0 237.5,164.0 237.8,164.0 238.0,164.0 238.3,164.0 238.5,164.0 238.7,164.0 239.0,164.0 240.4,164.0 241.9,164.1 243.3,164.1 244.8,164.1 246.2,164.1 247.7,164.1 249.1,164.1 250.6,164.2 252.1,164.2 253.5,164.2 255.0,164.2 256.4,164.2 257.9,164.2 259.3,164.3 260.8,164.3 262.2,164.3 263.7,164.3 265.1,164.3 266.6,164.3 268.0,164.3 269.5,164.4 270.9,164.4" fill="none" stroke="#4472C4" stroke-width="2.7" stroke-linejoin="round" stroke-linecap="round"/>
<path d="M48.1,173.6 49.5,173.6 51.0,173.6 52.4,173.6 53.9,173.6 55.3,173.6 56.8,173.6 58.2,173.6 59.7,173.6 61.1,173.6 62.6,173.6 64.0,173.6 65.5,173.6 67.0,173.6 68.4,173.6 69.9,173.6 71.3,173.6 72.8,173.6 74.2,173.6 75.7,173.6 77.1,173.6 78.6,173.6 80.0,173.6 81.5,173.6 82.9,173.6 84.4,173.6 85.8,173.6 87.3,173.6 88.7,173.6 90.2,173.6 91.6,173.6 93.1,173.6 94.5,173.6 96.0,173.6 97.4,173.6 98.9,173.6 99.0,173.6 99.1,173.6 99.2,173.6 99.3,173.6 99.4,173.6 99.5,173.6 99.6,173.6 99.7,173.6 99.8,173.6 99.8,173.6 99.9,173.6 100.0,173.6 100.1,173.6 100.2,173.6 100.3,173.6 100.4,173.6 100.5,173.6 100.6,173.6 100.7,173.6 100.8,173.6 100.9,173.6 101.0,173.6 101.1,173.6 101.2,173.6 101.3,173.6 101.4,173.6 101.5,173.6 101.6,173.6 101.7,173.6 101.8,173.6 101.9,173.6 102.0,173.6 102.1,173.6 102.2,173.6 102.3,173.6 102.4,173.6 102.5,173.6 102.6,173.6 102.7,173.6 102.8,173.6 102.8,173.6 102.9,173.6 103.0,173.6 103.1,173.6 103.2,173.6 103.3,173.6 103.4,173.6 103.5,173.6 103.6,173.6 103.7,173.6 103.8,173.6 103.9,173.6 104.0,173.6 104.1,173.6 104.2,173.6 104.3,173.6 104.4,173.6 104.5,173.6 104.6,173.6 104.7,173.6 104.8,173.6 104.9,173.6 105.0,173.6 105.1,173.6 105.2,173.6 105.3,173.6 105.4,173.6 105.5,173.6 105.6,173.6 105.7,173.6 105.8,173.6 105.8,173.6 105.9,173.6 106.0,173.6 106.1,173.6 106.2,173.6 106.3,173.6 106.4,173.6 106.5,173.6 106.6,173.6 106.7,173.6 106.8,173.6 106.9,173.6 107.0,173.6 107.1,173.6 107.2,173.6 107.3,173.6 107.4,173.6 107.5,173.6 107.6,173.6 107.7,173.6 107.8,173.6 107.9,173.6 108.0,173.6 108.1,173.6 108.2,173.6 108.3,173.6 108.4,173.6 108.5,173.6 108.6,173.6 108.7,173.6 108.8,173.6 108.8,173.6 108.9,173.6 109.0,173.6 109.1,173.6 109.2,173.6 109.3,173.6 109.4,173.6 109.5,173.6 109.6,173.6 109.7,173.6 109.8,173.6 109.9,173.6 110.0,173.6 110.1,173.6 110.2,173.6 110.3,173.6 111.8,173.6 113.2,173.6 114.7,173.6 116.1,173.6 117.6,173.6 119.0,173.6 120.5,173.6 121.9,173.6 123.4,173.6 124.8,173.6 126.3,173.6 127.7,173.6 129.2,173.6 130.6,173.6 132.1,173.6 133.5,173.6 135.0,173.6 136.4,173.6 137.9,173.6 139.3,173.6 140.8,173.6 142.2,173.6 143.7,173.6 145.1,173.5 146.6,173.5 148.0,173.5 149.5,173.5 150.9,173.5 152.4,173.5 153.8,173.5 155.3,173.5 156.7,173.5 158.2,173.5 159.6,173.5 161.1,173.5 162.5,173.5 164.0,173.5 165.5,173.5 166.9,173.5 168.4,173.5 169.8,173.5 171.3,173.5 172.7,173.5 174.2,173.5 175.6,173.5 177.1,173.5 178.5,173.5 180.0,173.4 181.4,173.4 182.9,173.4 184.3,173.4 185.8,173.4 187.2,173.4 188.7,173.4 190.1,173.3 191.6,173.3 193.0,173.3 194.5,173.3 195.9,173.2 197.4,173.2 198.8,173.1 200.3,173.1 201.7,173.0 203.2,172.9 204.6,172.8 206.1,172.7 207.5,172.5 209.0,172.3 210.4,172.1 210.7,172.0 210.9,172.0 211.2,171.9 211.4,171.8 211.7,171.8 211.9,171.7 212.1,171.6 212.4,171.6 212.6,171.5 212.9,171.4 213.1,171.3 213.3,171.2 213.6,171.1 213.8,171.0 214.1,170.9 214.3,170.8 214.6,170.7 214.8,170.5 215.0,170.4 215.3,170.2 215.5,170.1 215.8,169.9 216.0,169.7 216.3,169.5 216.5,169.3 216.7,169.0 217.0,168.8 217.2,168.5 217.5,168.2 217.7,167.9 217.9,167.5 218.2,167.1 218.4,166.7 218.7,166.3 218.9,165.8 219.2,165.2 219.4,164.6 219.6,164.0 219.9,163.3 220.1,162.5 220.4,161.7 220.6,160.7 220.8,159.7 221.1,158.6 221.3,157.4 221.6,156.1 221.8,154.7 222.1,153.3 222.3,151.7 222.5,150.1 222.8,148.6 223.0,147.0 223.3,145.5 223.5,144.2 223.8,143.1 224.0,142.3 224.2,141.8 224.5,141.7 224.7,142.0 225.0,142.6 225.2,143.5 225.4,144.7 225.7,146.1 225.9,147.6 226.2,149.2 226.4,150.8 226.7,152.3 226.9,153.9 227.1,155.3 227.4,156.6 227.6,157.9 227.9,159.1 228.1,160.1 228.3,161.1 228.6,162.0 228.8,162.8 229.1,163.6 229.3,164.3 229.6,164.9 229.8,165.5 230.0,166.0 230.3,166.5 230.5,166.9 230.8,167.3 231.0,167.7 231.2,168.0 231.5,168.3 231.7,168.6 232.0,168.9 232.2,169.1 232.5,169.4 232.7,169.6 232.9,169.8 233.2,170.0 233.4,170.1 233.7,170.3 233.9,170.4 234.2,170.6 234.4,170.7 234.6,170.8 234.9,171.0 235.1,171.1 235.4,171.2 235.6,171.3 235.8,171.4 236.1,171.4 236.3,171.5 236.6,171.6 236.8,171.7 237.1,171.7 237.3,171.8 237.5,171.9 237.8,171.9 238.0,172.0 238.3,172.0 238.5,172.1 238.7,172.1 239.0,172.2 240.4,172.4 241.9,172.6 243.3,172.7 244.8,172.9 246.2,173.0 247.7,173.0 249.1,173.1 250.6,173.1 252.1,173.2 253.5,173.2 255.0,173.3 256.4,173.3 257.9,173.3 259.3,173.3 260.8,173.4 262.2,173.4 263.7,173.4 265.1,173.4 266.6,173.4 268.0,173.4 269.5,173.4 270.9,173.5" fill="none" stroke="#ED7D31" stroke-width="2.7" stroke-linejoin="round" stroke-linecap="round"/>
<rect x="40.1" y="14.7" width="241.9" height="160.5" fill="none" stroke="#1c1c1c" stroke-width="1.35"/>
<text x="40.10" y="196.90" font-size="12.6" text-anchor="middle" fill="#1a1a1a" textLength="28.80" lengthAdjust="spacingAndGlyphs" >1200</text>
<text x="88.48" y="196.90" font-size="12.6" text-anchor="middle" fill="#1a1a1a" textLength="28.80" lengthAdjust="spacingAndGlyphs" >1300</text>
<text x="136.86" y="196.90" font-size="12.6" text-anchor="middle" fill="#1a1a1a" textLength="28.80" lengthAdjust="spacingAndGlyphs" >1400</text>
<text x="185.24" y="196.90" font-size="12.6" text-anchor="middle" fill="#1a1a1a" textLength="28.80" lengthAdjust="spacingAndGlyphs" >1500</text>
<text x="233.62" y="196.90" font-size="12.6" text-anchor="middle" fill="#1a1a1a" textLength="28.80" lengthAdjust="spacingAndGlyphs" >1600</text>
<text x="282.00" y="196.90" font-size="12.6" text-anchor="middle" fill="#1a1a1a" textLength="28.80" lengthAdjust="spacingAndGlyphs" >1700</text>
<text x="95.70" y="219.90" font-size="14.5" text-anchor="start" fill="#1a1a1a" textLength="78.00" lengthAdjust="spacingAndGlyphs" >Raman Shift</text>
<text x="178.70" y="219.90" font-size="14" text-anchor="start" fill="#1a1a1a" >(</text>
<text x="188.50" y="219.90" font-size="14.5" text-anchor="start" fill="#1a1a1a" textLength="18.70" lengthAdjust="spacingAndGlyphs" >cm</text>
<line x1="210.60" y1="212.90" x2="215.60" y2="212.90" stroke="#1a1a1a" stroke-width="1.1" />
<text x="217.30" y="215.90" font-size="7.8" text-anchor="start" fill="#1a1a1a" >1</text>
<text x="227.20" y="219.90" font-size="14" text-anchor="start" fill="#1a1a1a" >)</text>
<text transform="translate(12.7,161.5) rotate(-90)" x="0" y="0" font-size="14.8" fill="#1a1a1a" textLength="135.4" lengthAdjust="spacingAndGlyphs">Intensity ( arb. unit )</text>
<text x="93.70" y="31.00" font-size="10.2" text-anchor="end" fill="#1a1a1a" textLength="45.40" lengthAdjust="spacingAndGlyphs" >Diamond</text>
<text x="93.70" y="43.70" font-size="10.2" text-anchor="end" fill="#1a1a1a" textLength="38.40" lengthAdjust="spacingAndGlyphs" xml:space="preserve">w/  FAB</text>
<text x="93.70" y="56.50" font-size="10.2" text-anchor="end" fill="#1a1a1a" textLength="17.50" lengthAdjust="spacingAndGlyphs" >sp3</text>
<text x="199.80" y="134.60" font-size="10.2" text-anchor="start" fill="#1a1a1a" textLength="44.70" lengthAdjust="spacingAndGlyphs" >Graphite</text>
<text x="199.80" y="147.50" font-size="10.2" text-anchor="start" fill="#1a1a1a" textLength="17.60" lengthAdjust="spacingAndGlyphs" >sp2</text>
<text x="232.80" y="152.80" font-size="10.8" text-anchor="start" fill="#1a1a1a" textLength="18.60" lengthAdjust="spacingAndGlyphs" >×10</text>
<rect x="141.2" y="21" width="132.1" height="96" fill="#fff" stroke="#b4b4b4" stroke-width="1.2"/>
<line x1="170.26" y1="26.00" x2="170.26" y2="94.90" stroke="#efefef" stroke-width="0.6" />
<line x1="178.92" y1="26.00" x2="178.92" y2="94.90" stroke="#efefef" stroke-width="0.6" />
<line x1="187.57" y1="26.00" x2="187.57" y2="94.90" stroke="#efefef" stroke-width="0.6" />
<line x1="196.23" y1="26.00" x2="196.23" y2="94.90" stroke="#efefef" stroke-width="0.6" />
<line x1="204.89" y1="26.00" x2="204.89" y2="94.90" stroke="#efefef" stroke-width="0.6" />
<line x1="213.55" y1="26.00" x2="213.55" y2="94.90" stroke="#efefef" stroke-width="0.6" />
<line x1="222.21" y1="26.00" x2="222.21" y2="94.90" stroke="#efefef" stroke-width="0.6" />
<line x1="230.87" y1="26.00" x2="230.87" y2="94.90" stroke="#efefef" stroke-width="0.6" />
<line x1="239.52" y1="26.00" x2="239.52" y2="94.90" stroke="#efefef" stroke-width="0.6" />
<line x1="248.18" y1="26.00" x2="248.18" y2="94.90" stroke="#efefef" stroke-width="0.6" />
<line x1="256.84" y1="26.00" x2="256.84" y2="94.90" stroke="#efefef" stroke-width="0.6" />
<line x1="161.60" y1="34.61" x2="265.50" y2="34.61" stroke="#efefef" stroke-width="0.6" />
<line x1="161.60" y1="43.23" x2="265.50" y2="43.23" stroke="#efefef" stroke-width="0.6" />
<line x1="161.60" y1="51.84" x2="265.50" y2="51.84" stroke="#efefef" stroke-width="0.6" />
<line x1="161.60" y1="60.45" x2="265.50" y2="60.45" stroke="#efefef" stroke-width="0.6" />
<line x1="161.60" y1="69.06" x2="265.50" y2="69.06" stroke="#efefef" stroke-width="0.6" />
<line x1="161.60" y1="77.68" x2="265.50" y2="77.68" stroke="#efefef" stroke-width="0.6" />
<line x1="161.60" y1="86.29" x2="265.50" y2="86.29" stroke="#efefef" stroke-width="0.6" />
<path d="M161.6,93.2 162.2,93.1 162.8,93.1 163.4,93.1 164.0,93.1 164.6,93.1 165.2,93.1 165.8,93.1 166.4,93.1 167.1,93.1 167.7,93.0 168.3,93.0 168.9,93.0 169.5,93.0 170.1,93.0 170.7,93.0 171.3,92.9 171.9,92.9 172.5,92.9 173.1,92.9 173.7,92.9 174.3,92.9 174.9,92.8 175.5,92.8 176.1,92.8 176.8,92.8 177.4,92.7 178.0,92.7 178.6,92.7 179.2,92.7 179.8,92.6 180.4,92.6 181.0,92.6 181.6,92.5 182.2,92.5 182.8,92.5 183.4,92.4 184.0,92.4 184.6,92.3 185.2,92.3 185.8,92.2 186.4,92.2 187.1,92.1 187.7,92.1 188.3,92.0 188.9,92.0 189.5,91.9 190.1,91.8 190.7,91.7 191.3,91.7 191.9,91.6 192.5,91.5 193.1,91.4 193.7,91.3 194.3,91.2 194.9,91.1 195.5,91.0 196.1,90.8 196.8,90.7 197.4,90.6 198.0,90.4 198.6,90.2 199.2,90.1 199.8,89.9 200.4,89.7 201.0,89.4 201.6,89.2 202.2,89.0 202.8,88.7 203.4,88.4 204.0,88.1 204.6,87.8 205.2,87.5 205.8,87.1 206.5,86.8 207.1,86.4 207.7,86.0 208.3,85.6 208.9,85.2 209.5,84.7 210.1,84.3 210.7,83.9 211.3,83.6 211.9,83.2 212.5,82.9 213.1,82.6 213.7,82.4 214.3,82.3 214.9,82.2 215.5,82.2 216.1,82.3 216.8,82.4 217.4,82.6 218.0,82.9 218.6,83.2 219.2,83.5 219.8,83.9 220.4,84.3 221.0,84.7 221.6,85.1 222.2,85.5 222.8,85.9 223.4,86.3 224.0,86.7 224.6,87.1 225.2,87.4 225.8,87.8 226.5,88.1 227.1,88.4 227.7,88.7 228.3,88.9 228.9,89.2 229.5,89.4 230.1,89.6 230.7,89.8 231.3,90.0 231.9,90.2 232.5,90.4 233.1,90.5 233.7,90.7 234.3,90.8 234.9,90.9 235.5,91.1 236.1,91.2 236.8,91.3 237.4,91.4 238.0,91.5 238.6,91.6 239.2,91.7 239.8,91.7 240.4,91.8 241.0,91.9 241.6,92.0 242.2,92.0 242.8,92.1 243.4,92.1 244.0,92.2 244.6,92.2 245.2,92.3 245.8,92.3 246.5,92.4 247.1,92.4 247.7,92.5 248.3,92.5 248.9,92.5 249.5,92.6 250.1,92.6 250.7,92.6 251.3,92.7 251.9,92.7 252.5,92.7 253.1,92.7 253.7,92.8 254.3,92.8 254.9,92.8 255.5,92.8 256.1,92.9 256.8,92.9 257.4,92.9 258.0,92.9 258.6,92.9 259.2,92.9 259.8,93.0 260.4,93.0 261.0,93.0 261.6,93.0 262.2,93.0 262.8,93.0 263.4,93.1 264.0,93.1 264.6,93.1 265.2,93.1" fill="none" stroke="#ED7D31" stroke-width="2.5" stroke-linejoin="round" />
<path d="M161.6,48.8 162.2,49.2 162.8,49.0 163.4,49.2 164.0,49.3 164.6,48.7 165.2,48.6 165.8,49.5 166.4,48.9 167.1,48.9 167.7,49.8 168.3,49.2 168.9,49.6 169.5,49.2 170.1,49.4 170.7,48.9 171.3,49.4 171.9,49.7 172.5,49.3 173.1,49.6 173.7,49.5 174.3,48.8 174.9,49.6 175.5,49.4 176.1,49.1 176.8,48.8 177.4,49.8 178.0,49.4 178.6,49.6 179.2,49.8 179.8,49.7 180.4,49.9 181.0,49.3 181.6,49.8 182.2,49.4 182.8,49.9 183.4,49.9 184.0,49.0 184.6,49.1 185.2,49.2 185.8,50.0 186.4,49.5 187.1,49.7 187.7,49.3 188.3,49.6 188.9,49.4 189.5,49.4 190.1,49.7 190.7,49.7 191.3,50.1 191.9,49.8 192.5,50.1 193.1,50.0 193.7,50.2 194.3,49.9 194.9,49.3 195.5,50.1 196.1,50.2 196.8,50.2 197.4,49.8 198.0,50.0 198.6,49.4 199.2,50.1 199.8,49.8 200.4,49.5 201.0,49.3 201.6,50.2 202.2,50.3 202.8,49.4 203.4,50.2 204.0,49.7 204.6,49.5 205.2,49.6 205.8,50.2 206.5,50.3 207.1,49.4 207.7,50.0 208.3,49.4 208.9,50.2 209.5,49.7 210.1,50.4 210.7,50.5 211.3,50.0 211.9,50.5 212.5,49.8 213.1,49.5 213.7,50.1 214.3,49.5 214.9,49.7 215.5,49.9 216.1,50.2 216.8,49.7 217.4,49.6 218.0,50.5 218.6,49.9 219.2,50.6 219.8,50.5 220.4,50.0 221.0,50.1 221.6,50.2 222.2,50.3 222.8,50.3 223.4,50.2 224.0,50.3 224.6,50.7 225.2,50.2 225.8,50.1 226.5,50.5 227.1,49.9 227.7,50.0 228.3,50.8 228.9,50.3 229.5,50.3 230.1,49.7 230.7,50.2 231.3,50.4 231.9,49.8 232.5,50.5 233.1,50.5 233.7,49.9 234.3,50.5 234.9,50.3 235.5,50.6 236.1,50.2 236.8,50.6 237.4,50.7 238.0,49.9 238.6,50.0 239.2,50.6 239.8,51.0 240.4,50.2 241.0,50.4 241.6,50.6 242.2,50.3 242.8,50.4 243.4,50.3 244.0,50.4 244.6,50.6 245.2,50.3 245.8,50.4 246.5,50.9 247.1,50.1 247.7,50.7 248.3,50.9 248.9,50.4 249.5,50.3 250.1,51.0 250.7,50.4 251.3,50.3 251.9,50.6 252.5,50.9 253.1,50.2 253.7,50.5 254.3,50.5 254.9,51.1 255.5,50.7 256.1,51.1 256.8,50.4 257.4,50.6 258.0,50.9 258.6,51.2 259.2,50.7 259.8,50.5 260.4,50.4 261.0,50.9 261.6,50.5 262.2,51.2 262.8,51.2 263.4,50.5 264.0,50.6 264.6,51.2 265.2,51.1" fill="none" stroke="#4472C4" stroke-width="2.0" stroke-linejoin="round" />
<rect x="161.6" y="26" width="103.9" height="68.9" fill="none" stroke="#404040" stroke-width="1"/>
<text x="161.60" y="103.80" font-size="5.6" text-anchor="middle" fill="#1a1a1a" textLength="12.20" lengthAdjust="spacingAndGlyphs" >1550</text>
<text x="178.92" y="103.80" font-size="5.6" text-anchor="middle" fill="#1a1a1a" textLength="12.20" lengthAdjust="spacingAndGlyphs" >1560</text>
<text x="196.23" y="103.80" font-size="5.6" text-anchor="middle" fill="#1a1a1a" textLength="12.20" lengthAdjust="spacingAndGlyphs" >1570</text>
<text x="213.55" y="103.80" font-size="5.6" text-anchor="middle" fill="#1a1a1a" textLength="12.20" lengthAdjust="spacingAndGlyphs" >1580</text>
<text x="230.87" y="103.80" font-size="5.6" text-anchor="middle" fill="#1a1a1a" textLength="12.20" lengthAdjust="spacingAndGlyphs" >1590</text>
<text x="248.18" y="103.80" font-size="5.6" text-anchor="middle" fill="#1a1a1a" textLength="12.20" lengthAdjust="spacingAndGlyphs" >1600</text>
<text x="265.50" y="103.80" font-size="5.6" text-anchor="middle" fill="#1a1a1a" textLength="12.20" lengthAdjust="spacingAndGlyphs" >1610</text>
<text x="185.40" y="114.00" font-size="6.3" text-anchor="start" fill="#1a1a1a" textLength="33.60" lengthAdjust="spacingAndGlyphs" >Raman Shift</text>
<text x="221.00" y="114.00" font-size="6.3" text-anchor="start" fill="#1a1a1a" >(</text>
<text x="224.80" y="114.00" font-size="6.3" text-anchor="start" fill="#1a1a1a" textLength="8.00" lengthAdjust="spacingAndGlyphs" >cm</text>
<line x1="234.60" y1="111.00" x2="236.90" y2="111.00" stroke="#1a1a1a" stroke-width="0.6" />
<text x="237.60" y="112.20" font-size="4.4" text-anchor="start" fill="#1a1a1a" >1</text>
<text x="241.30" y="114.00" font-size="6.3" text-anchor="start" fill="#1a1a1a" >)</text>
<text transform="translate(150.4,88.5) rotate(-90)" font-size="6.2" fill="#1a1a1a" textLength="57.6" lengthAdjust="spacingAndGlyphs">Intensity ( arb. unit )</text>
<text x="318.30" y="11.00" font-size="12" text-anchor="start" fill="#1a1a1a" textLength="13.40" lengthAdjust="spacingAndGlyphs" >(b)</text>
<line x1="376.48" y1="18.40" x2="376.48" y2="170.30" stroke="#ededed" stroke-width="0.7" />
<line x1="394.45" y1="18.40" x2="394.45" y2="170.30" stroke="#ededed" stroke-width="0.7" />
<line x1="412.43" y1="18.40" x2="412.43" y2="170.30" stroke="#ededed" stroke-width="0.7" />
<line x1="430.40" y1="18.40" x2="430.40" y2="170.30" stroke="#ededed" stroke-width="0.7" />
<line x1="448.38" y1="18.40" x2="448.38" y2="170.30" stroke="#ededed" stroke-width="0.7" />
<line x1="466.35" y1="18.40" x2="466.35" y2="170.30" stroke="#ededed" stroke-width="0.7" />
<line x1="484.33" y1="18.40" x2="484.33" y2="170.30" stroke="#ededed" stroke-width="0.7" />
<line x1="502.30" y1="18.40" x2="502.30" y2="170.30" stroke="#ededed" stroke-width="0.7" />
<line x1="520.28" y1="18.40" x2="520.28" y2="170.30" stroke="#ededed" stroke-width="0.7" />
<line x1="538.25" y1="18.40" x2="538.25" y2="170.30" stroke="#ededed" stroke-width="0.7" />
<line x1="556.23" y1="18.40" x2="556.23" y2="170.30" stroke="#ededed" stroke-width="0.7" />
<line x1="358.50" y1="43.72" x2="574.20" y2="43.72" stroke="#ededed" stroke-width="0.7" />
<line x1="358.50" y1="69.03" x2="574.20" y2="69.03" stroke="#ededed" stroke-width="0.7" />
<line x1="358.50" y1="94.35" x2="574.20" y2="94.35" stroke="#ededed" stroke-width="0.7" />
<line x1="358.50" y1="119.67" x2="574.20" y2="119.67" stroke="#ededed" stroke-width="0.7" />
<line x1="358.50" y1="144.98" x2="574.20" y2="144.98" stroke="#ededed" stroke-width="0.7" />
<line x1="358.50" y1="170.50" x2="574.20" y2="170.50" stroke="#8a8a8a" stroke-width="1" />
<line x1="376.48" y1="167.90" x2="376.48" y2="170.80" stroke="#555" stroke-width="0.9" />
<line x1="394.45" y1="167.90" x2="394.45" y2="170.80" stroke="#555" stroke-width="0.9" />
<line x1="412.43" y1="167.90" x2="412.43" y2="170.80" stroke="#555" stroke-width="0.9" />
<line x1="430.40" y1="167.90" x2="430.40" y2="170.80" stroke="#555" stroke-width="0.9" />
<line x1="448.38" y1="167.90" x2="448.38" y2="170.80" stroke="#555" stroke-width="0.9" />
<line x1="466.35" y1="167.90" x2="466.35" y2="170.80" stroke="#555" stroke-width="0.9" />
<line x1="484.33" y1="167.90" x2="484.33" y2="170.80" stroke="#555" stroke-width="0.9" />
<line x1="502.30" y1="167.90" x2="502.30" y2="170.80" stroke="#555" stroke-width="0.9" />
<line x1="520.28" y1="167.90" x2="520.28" y2="170.80" stroke="#555" stroke-width="0.9" />
<line x1="538.25" y1="167.90" x2="538.25" y2="170.80" stroke="#555" stroke-width="0.9" />
<line x1="556.23" y1="167.90" x2="556.23" y2="170.80" stroke="#555" stroke-width="0.9" />
<path d="M358.5,167.0 359.1,167.0 359.7,167.0 360.3,167.0 360.9,167.0 361.5,167.0 362.1,167.0 362.7,167.0 363.3,167.0 363.9,167.0 364.5,167.0 365.1,167.0 365.7,167.0 366.3,167.0 366.9,167.0 367.5,167.0 368.1,167.0 368.7,167.0 369.3,167.0 369.9,167.0 370.5,167.0 371.1,167.0 371.7,167.1 372.3,167.1 372.9,167.1 373.5,167.1 374.1,167.1 374.7,167.1 375.3,167.1 375.9,167.1 376.5,167.1 377.1,167.1 377.7,167.1 378.3,167.1 378.9,167.1 379.5,167.1 380.1,167.1 380.7,167.1 381.3,167.1 381.9,167.1 382.5,167.1 383.1,167.1 383.7,167.1 384.3,167.1 384.9,167.1 385.5,167.1 386.1,167.1 386.7,167.1 387.3,167.1 387.9,167.1 388.5,167.1 389.1,167.1 389.7,167.1 390.3,167.1 390.9,167.1 391.5,167.1 392.1,167.1 392.7,167.1 393.3,167.1 393.9,167.1 394.5,167.1 395.1,167.1 395.7,167.1 396.3,167.1 396.9,167.1 397.5,167.1 398.1,167.1 398.7,167.1 399.3,167.1 399.9,167.1 400.5,167.1 401.1,167.1 401.7,167.1 402.3,167.1 402.9,167.1 403.5,167.1 404.1,167.1 404.7,167.1 405.3,167.1 405.9,167.1 406.5,167.1 407.1,167.1 407.7,167.1 408.3,167.1 408.9,167.1 409.5,167.1 410.1,167.1 410.7,167.1 411.3,167.1 411.9,167.1 412.5,167.1 413.1,167.1 413.7,167.1 414.3,167.1 414.9,167.1 415.5,167.1 416.1,167.1 416.7,167.1 417.3,167.2 417.9,167.2 418.5,167.2 419.1,167.2 419.7,167.2 420.3,167.2 420.9,167.2 421.5,167.2 422.1,167.2 422.7,167.2 423.3,167.2 423.9,167.2 424.5,167.2 425.1,167.2 425.7,167.2 426.3,167.2 426.9,167.2 427.5,167.2 428.1,167.2 428.7,167.2 429.3,167.2 429.9,167.2 430.5,167.2 431.1,167.2 431.7,167.2 432.3,167.2 432.9,167.2 433.5,167.2 434.1,167.2 434.7,167.2 435.3,167.2 435.9,167.2 436.5,167.2 437.1,167.3 437.7,167.3 438.3,167.3 438.9,167.3 439.5,167.3 440.1,167.3 440.7,167.3 441.3,167.3 441.9,167.3 442.5,167.3 443.1,167.3 443.7,167.3 444.3,167.3 444.9,167.4 445.5,167.4 446.1,167.4 446.7,167.4 447.3,167.4 447.9,167.4 448.5,167.4 449.1,167.4 449.7,167.5 450.3,167.5 450.9,167.5 451.5,167.5 452.1,167.5 452.7,167.5 453.3,167.6 453.9,167.6 454.5,167.6 455.1,167.6 455.7,167.7 456.3,167.7 456.9,167.7 457.5,167.7 458.1,167.8 458.7,167.8 459.3,167.8 459.9,167.9 460.5,167.9 461.1,167.9 461.7,168.0 462.3,168.0 462.9,168.0 463.5,168.1 464.1,168.1 464.7,168.1 465.3,168.2 465.9,168.2 466.5,168.3 467.1,168.3 467.7,168.3 468.3,168.4 468.9,168.4 469.5,168.5 470.1,168.5 470.7,168.6 471.3,168.6 471.9,168.6 472.5,168.7 473.1,168.7 473.7,168.8 474.3,168.8 474.9,168.8 475.5,168.9 476.1,168.9 476.7,169.0 477.3,169.0 477.9,169.0 478.5,169.1 479.1,169.1 479.7,169.1 480.3,169.2 480.9,169.2 481.5,169.2 482.1,169.2 482.7,169.3 483.3,169.3 483.9,169.3 484.5,169.4 485.1,169.4 485.7,169.4 486.3,169.4 486.9,169.4 487.5,169.5 488.1,169.5 488.7,169.5 489.3,169.5 489.9,169.5 490.5,169.5 491.1,169.6 491.7,169.6 492.3,169.6 492.9,169.6 493.5,169.6 494.1,169.6 494.7,169.6 495.3,169.6 495.9,169.6 496.5,169.7 497.1,169.7 497.7,169.7 498.3,169.7 498.9,169.7 499.5,169.7 500.1,169.7 500.7,169.7 501.3,169.7 501.9,169.7 502.5,169.7 503.1,169.7 503.7,169.7 504.3,169.7 504.9,169.7 505.5,169.7 506.1,169.7 506.7,169.7 507.3,169.7 507.9,169.7 508.5,169.8 509.1,169.8 509.7,169.8 510.3,169.8 510.9,169.8 511.5,169.8 512.1,169.8 512.7,169.8 513.3,169.8 513.9,169.8 514.5,169.8 515.1,169.8 515.7,169.8 516.3,169.8 516.9,169.8 517.5,169.8 518.1,169.8 518.7,169.8 519.3,169.8 519.9,169.8 520.5,169.8 521.1,169.8 521.7,169.8 522.3,169.8 522.9,169.8 523.5,169.8 524.1,169.8 524.7,169.8 525.3,169.8 525.9,169.8 526.5,169.8 527.1,169.8 527.7,169.8 528.3,169.8 528.9,169.8 529.5,169.8 530.1,169.8 530.7,169.8 531.3,169.8 531.9,169.8 532.5,169.8 533.1,169.8 533.7,169.8 534.3,169.8 534.9,169.8 535.5,169.8 536.1,169.8 536.7,169.8 537.3,169.8 537.9,169.8 538.5,169.8 539.1,169.8 539.7,169.8 540.3,169.8 540.9,169.8 541.5,169.8 542.1,169.8 542.7,169.8 543.3,169.8 543.9,169.8 544.5,169.8 545.1,169.8 545.7,169.8 546.3,169.8 546.9,169.8 547.5,169.8 548.1,169.8 548.7,169.8 549.3,169.8 549.9,169.8 550.5,169.8 551.1,169.8 551.7,169.8 552.3,169.8 552.9,169.8 553.5,169.8 554.1,169.8 554.7,169.8 555.3,169.8 555.9,169.8 556.5,169.8 557.1,169.8 557.7,169.8 558.3,169.8 558.9,169.8 559.5,169.8 560.1,169.8 560.7,169.8 561.3,169.8 561.9,169.8 562.5,169.8 563.1,169.8 563.7,169.8 564.3,169.8 564.9,169.8 565.5,169.8 566.1,169.8 566.7,169.8 567.3,169.8 567.9,169.8 568.5,169.8 569.1,169.8 569.7,169.8 570.3,169.8 570.9,169.8 571.5,169.8 572.1,169.8 572.7,169.8 573.3,169.8 573.9,169.8 574.2,169.8" fill="none" stroke="#FFC000" stroke-width="1.7" stroke-linejoin="round" />
<path d="M358.5,170.0 359.1,170.0 359.7,170.0 360.3,170.0 360.9,170.0 361.5,170.0 362.1,170.0 362.7,170.0 363.3,170.0 363.9,170.0 364.5,170.0 365.1,170.0 365.7,170.0 366.3,170.0 366.9,170.0 367.5,170.0 368.1,170.0 368.7,170.0 369.3,170.0 369.9,170.0 370.5,170.0 371.1,170.0 371.7,170.0 372.3,170.0 372.9,170.0 373.5,170.0 374.1,170.0 374.7,170.0 375.3,170.0 375.9,170.0 376.5,170.0 377.1,170.0 377.7,170.0 378.3,170.0 378.9,170.0 379.5,170.0 380.1,170.0 380.7,170.0 381.3,170.0 381.9,170.0 382.5,170.0 383.1,170.0 383.7,170.0 384.3,170.0 384.9,170.0 385.5,170.0 386.1,170.0 386.7,170.0 387.3,170.0 387.9,170.0 388.5,170.0 389.1,170.0 389.7,170.0 390.3,170.0 390.9,170.0 391.5,170.0 392.1,170.0 392.7,170.0 393.3,170.0 393.9,170.0 394.5,170.0 395.1,170.0 395.7,170.0 396.3,170.0 396.9,170.0 397.5,170.0 398.1,170.0 398.7,170.0 399.3,170.0 399.9,170.0 400.5,170.0 401.1,170.0 401.7,170.0 402.3,170.0 402.9,170.0 403.5,170.0 404.1,170.0 404.7,170.0 405.3,170.0 405.9,170.0 406.5,170.0 407.1,170.0 407.7,170.0 408.3,170.0 408.9,170.0 409.5,170.0 410.1,170.0 410.7,170.0 411.3,170.0 411.9,170.0 412.5,170.0 413.1,170.0 413.7,170.0 414.3,170.0 414.9,170.0 415.5,170.0 416.1,170.0 416.7,170.0 417.3,170.0 417.9,170.0 418.5,170.0 419.1,170.0 419.7,170.0 420.3,170.0 420.9,170.0 421.5,170.0 422.1,170.0 422.7,170.0 423.3,170.0 423.9,170.0 424.5,169.9 425.1,169.9 425.7,169.9 426.3,169.9 426.9,169.9 427.5,169.9 428.1,169.8 428.7,169.8 429.3,169.8 429.9,169.8 430.5,169.7 431.1,169.7 431.7,169.6 432.3,169.6 432.9,169.5 433.5,169.4 434.1,169.3 434.7,169.2 435.3,169.1 435.9,169.0 436.5,168.9 437.1,168.7 437.7,168.6 438.3,168.4 438.9,168.2 439.5,167.9 440.1,167.7 440.7,167.4 441.3,167.1 441.9,166.8 442.5,166.4 443.1,166.0 443.7,165.5 444.3,165.1 444.9,164.5 445.5,164.0 446.1,163.4 446.7,162.7 447.3,162.0 447.9,161.3 448.5,160.5 449.1,159.7 449.7,158.8 450.3,157.8 450.9,156.8 451.5,155.8 452.1,154.7 452.7,153.5 453.3,152.3 453.9,151.0 454.5,149.7 455.1,148.4 455.7,147.0 456.3,145.6 456.9,144.1 457.5,142.6 458.1,141.1 458.7,139.5 459.3,138.0 459.9,136.4 460.5,134.9 461.1,133.3 461.7,131.7 462.3,130.2 462.9,128.7 463.5,127.2 464.1,125.7 464.7,124.3 465.3,123.0 465.9,121.7 466.5,120.5 467.1,119.3 467.7,118.3 468.3,117.3 468.9,116.4 469.5,115.6 470.1,115.0 470.7,114.4 471.3,113.9 471.9,113.6 472.5,113.3 473.1,113.2 473.7,113.2 474.3,113.3 474.9,113.6 475.5,113.9 476.1,114.4 476.7,115.0 477.3,115.6 477.9,116.4 478.5,117.3 479.1,118.3 479.7,119.3 480.3,120.5 480.9,121.7 481.5,123.0 482.1,124.3 482.7,125.7 483.3,127.2 483.9,128.7 484.5,130.2 485.1,131.7 485.7,133.3 486.3,134.9 486.9,136.4 487.5,138.0 488.1,139.5 488.7,141.1 489.3,142.6 489.9,144.1 490.5,145.6 491.1,147.0 491.7,148.4 492.3,149.7 492.9,151.0 493.5,152.3 494.1,153.5 494.7,154.7 495.3,155.8 495.9,156.8 496.5,157.8 497.1,158.8 497.7,159.7 498.3,160.5 498.9,161.3 499.5,162.0 500.1,162.7 500.7,163.4 501.3,164.0 501.9,164.5 502.5,165.1 503.1,165.5 503.7,166.0 504.3,166.4 504.9,166.8 505.5,167.1 506.1,167.4 506.7,167.7 507.3,167.9 507.9,168.2 508.5,168.4 509.1,168.6 509.7,168.7 510.3,168.9 510.9,169.0 511.5,169.1 512.1,169.2 512.7,169.3 513.3,169.4 513.9,169.5 514.5,169.6 515.1,169.6 515.7,169.7 516.3,169.7 516.9,169.8 517.5,169.8 518.1,169.8 518.7,169.8 519.3,169.9 519.9,169.9 520.5,169.9 521.1,169.9 521.7,169.9 522.3,169.9 522.9,170.0 523.5,170.0 524.1,170.0 524.7,170.0 525.3,170.0 525.9,170.0 526.5,170.0 527.1,170.0 527.7,170.0 528.3,170.0 528.9,170.0 529.5,170.0 530.1,170.0 530.7,170.0 531.3,170.0 531.9,170.0 532.5,170.0 533.1,170.0 533.7,170.0 534.3,170.0 534.9,170.0 535.5,170.0 536.1,170.0 536.7,170.0 537.3,170.0 537.9,170.0 538.5,170.0 539.1,170.0 539.7,170.0 540.3,170.0 540.9,170.0 541.5,170.0 542.1,170.0 542.7,170.0 543.3,170.0 543.9,170.0 544.5,170.0 545.1,170.0 545.7,170.0 546.3,170.0 546.9,170.0 547.5,170.0 548.1,170.0 548.7,170.0 549.3,170.0 549.9,170.0 550.5,170.0 551.1,170.0 551.7,170.0 552.3,170.0 552.9,170.0 553.5,170.0 554.1,170.0 554.7,170.0 555.3,170.0 555.9,170.0 556.5,170.0 557.1,170.0 557.7,170.0 558.3,170.0 558.9,170.0 559.5,170.0 560.1,170.0 560.7,170.0 561.3,170.0 561.9,170.0 562.5,170.0 563.1,170.0 563.7,170.0 564.3,170.0 564.9,170.0 565.5,170.0 566.1,170.0 566.7,170.0 567.3,170.0 567.9,170.0 568.5,170.0 569.1,170.0 569.7,170.0 570.3,170.0 570.9,170.0 571.5,170.0 572.1,170.0 572.7,170.0 573.3,170.0 573.9,170.0 574.2,170.0" fill="none" stroke="#A5A5A5" stroke-width="1.8" stroke-linejoin="round" />
<path d="M358.5,169.8 359.1,169.8 359.7,169.8 360.3,169.8 360.9,169.8 361.5,169.8 362.1,169.8 362.7,169.8 363.3,169.8 363.9,169.8 364.5,169.8 365.1,169.7 365.7,169.7 366.3,169.7 366.9,169.7 367.5,169.7 368.1,169.7 368.7,169.7 369.3,169.7 369.9,169.7 370.5,169.7 371.1,169.7 371.7,169.7 372.3,169.7 372.9,169.7 373.5,169.7 374.1,169.7 374.7,169.7 375.3,169.7 375.9,169.7 376.5,169.7 377.1,169.7 377.7,169.7 378.3,169.7 378.9,169.7 379.5,169.6 380.1,169.6 380.7,169.6 381.3,169.6 381.9,169.6 382.5,169.6 383.1,169.6 383.7,169.6 384.3,169.6 384.9,169.6 385.5,169.6 386.1,169.6 386.7,169.6 387.3,169.6 387.9,169.6 388.5,169.5 389.1,169.5 389.7,169.5 390.3,169.5 390.9,169.5 391.5,169.5 392.1,169.5 392.7,169.5 393.3,169.5 393.9,169.5 394.5,169.5 395.1,169.4 395.7,169.4 396.3,169.4 396.9,169.4 397.5,169.4 398.1,169.4 398.7,169.4 399.3,169.4 399.9,169.4 400.5,169.3 401.1,169.3 401.7,169.3 402.3,169.3 402.9,169.3 403.5,169.3 404.1,169.2 404.7,169.2 405.3,169.2 405.9,169.2 406.5,169.2 407.1,169.2 407.7,169.1 408.3,169.1 408.9,169.1 409.5,169.1 410.1,169.1 410.7,169.0 411.3,169.0 411.9,169.0 412.5,168.9 413.1,168.9 413.7,168.9 414.3,168.9 414.9,168.8 415.5,168.8 416.1,168.8 416.7,168.7 417.3,168.7 417.9,168.7 418.5,168.6 419.1,168.6 419.7,168.5 420.3,168.5 420.9,168.4 421.5,168.4 422.1,168.3 422.7,168.3 423.3,168.2 423.9,168.1 424.5,168.1 425.1,168.0 425.7,167.9 426.3,167.9 426.9,167.8 427.5,167.7 428.1,167.6 428.7,167.5 429.3,167.4 429.9,167.2 430.5,167.1 431.1,167.0 431.7,166.8 432.3,166.6 432.9,166.4 433.5,166.1 434.1,165.9 434.7,165.6 435.3,165.2 435.9,164.8 436.5,164.3 437.1,163.7 437.7,163.0 438.3,162.3 438.9,161.4 439.5,160.3 440.1,159.2 440.7,157.8 441.3,156.3 441.9,154.5 442.5,152.6 443.1,150.4 443.7,147.9 444.3,145.2 444.9,142.3 445.5,139.0 446.1,135.5 446.7,131.8 447.3,127.8 447.9,123.6 448.5,119.2 449.1,114.7 449.7,110.0 450.3,105.3 450.9,100.6 451.5,96.0 452.1,91.5 452.7,87.3 453.3,83.3 453.9,79.8 454.5,76.8 455.1,74.4 455.7,72.7 456.3,71.7 456.9,71.4 457.5,71.9 458.1,73.2 458.7,75.2 459.3,77.8 459.9,81.0 460.5,84.6 461.1,88.6 461.7,93.0 462.3,97.5 462.9,102.2 463.5,106.9 464.1,111.6 464.7,116.2 465.3,120.7 465.9,125.0 466.5,129.2 467.1,133.1 467.7,136.7 468.3,140.1 468.9,143.3 469.5,146.2 470.1,148.8 470.7,151.1 471.3,153.3 471.9,155.1 472.5,156.8 473.1,158.3 473.7,159.6 474.3,160.7 474.9,161.7 475.5,162.5 476.1,163.3 476.7,163.9 477.3,164.4 477.9,164.9 478.5,165.3 479.1,165.7 479.7,166.0 480.3,166.2 480.9,166.5 481.5,166.7 482.1,166.9 482.7,167.0 483.3,167.2 483.9,167.3 484.5,167.4 485.1,167.5 485.7,167.6 486.3,167.7 486.9,167.8 487.5,167.9 488.1,168.0 488.7,168.0 489.3,168.1 489.9,168.2 490.5,168.2 491.1,168.3 491.7,168.3 492.3,168.4 492.9,168.4 493.5,168.5 494.1,168.5 494.7,168.6 495.3,168.6 495.9,168.7 496.5,168.7 497.1,168.7 497.7,168.8 498.3,168.8 498.9,168.8 499.5,168.9 500.1,168.9 500.7,168.9 501.3,169.0 501.9,169.0 502.5,169.0 503.1,169.0 503.7,169.1 504.3,169.1 504.9,169.1 505.5,169.1 506.1,169.1 506.7,169.2 507.3,169.2 507.9,169.2 508.5,169.2 509.1,169.2 509.7,169.3 510.3,169.3 510.9,169.3 511.5,169.3 512.1,169.3 512.7,169.3 513.3,169.3 513.9,169.4 514.5,169.4 515.1,169.4 515.7,169.4 516.3,169.4 516.9,169.4 517.5,169.4 518.1,169.4 518.7,169.5 519.3,169.5 519.9,169.5 520.5,169.5 521.1,169.5 521.7,169.5 522.3,169.5 522.9,169.5 523.5,169.5 524.1,169.5 524.7,169.5 525.3,169.6 525.9,169.6 526.5,169.6 527.1,169.6 527.7,169.6 528.3,169.6 528.9,169.6 529.5,169.6 530.1,169.6 530.7,169.6 531.3,169.6 531.9,169.6 532.5,169.6 533.1,169.6 533.7,169.6 534.3,169.6 534.9,169.7 535.5,169.7 536.1,169.7 536.7,169.7 537.3,169.7 537.9,169.7 538.5,169.7 539.1,169.7 539.7,169.7 540.3,169.7 540.9,169.7 541.5,169.7 542.1,169.7 542.7,169.7 543.3,169.7 543.9,169.7 544.5,169.7 545.1,169.7 545.7,169.7 546.3,169.7 546.9,169.7 547.5,169.7 548.1,169.7 548.7,169.7 549.3,169.8 549.9,169.8 550.5,169.8 551.1,169.8 551.7,169.8 552.3,169.8 552.9,169.8 553.5,169.8 554.1,169.8 554.7,169.8 555.3,169.8 555.9,169.8 556.5,169.8 557.1,169.8 557.7,169.8 558.3,169.8 558.9,169.8 559.5,169.8 560.1,169.8 560.7,169.8 561.3,169.8 561.9,169.8 562.5,169.8 563.1,169.8 563.7,169.8 564.3,169.8 564.9,169.8 565.5,169.8 566.1,169.8 566.7,169.8 567.3,169.8 567.9,169.8 568.5,169.8 569.1,169.8 569.7,169.8 570.3,169.8 570.9,169.8 571.5,169.8 572.1,169.8 572.7,169.8 573.3,169.8 573.9,169.8 574.2,169.8" fill="none" stroke="#ED7D31" stroke-width="1.8" stroke-linejoin="round" />
<path d="M358.5,166.2 359.1,166.1 359.7,166.1 360.3,166.1 360.9,166.2 361.5,166.1 362.1,166.1 362.7,166.1 363.3,166.1 363.9,166.1 364.5,166.2 365.1,166.0 365.7,166.0 366.3,166.2 366.9,166.2 367.5,166.2 368.1,166.0 368.7,166.1 369.3,166.1 369.9,166.0 370.5,166.1 371.1,166.1 371.7,166.0 372.3,166.0 372.9,166.0 373.5,166.0 374.1,165.9 374.7,165.9 375.3,166.0 375.9,165.9 376.5,166.0 377.1,165.8 377.7,166.0 378.3,165.9 378.9,166.0 379.5,166.0 380.1,166.0 380.7,165.9 381.3,165.8 381.9,165.9 382.5,165.8 383.1,165.8 383.7,165.8 384.3,165.8 384.9,165.8 385.5,165.9 386.1,165.8 386.7,165.7 387.3,165.7 387.9,165.8 388.5,165.7 389.1,165.7 389.7,165.6 390.3,165.6 390.9,165.6 391.5,165.7 392.1,165.5 392.7,165.7 393.3,165.7 393.9,165.6 394.5,165.6 395.1,165.4 395.7,165.5 396.3,165.6 396.9,165.4 397.5,165.4 398.1,165.4 398.7,165.4 399.3,165.4 399.9,165.4 400.5,165.4 401.1,165.3 401.7,165.2 402.3,165.2 402.9,165.2 403.5,165.2 404.1,165.3 404.7,165.3 405.3,165.1 405.9,165.2 406.5,165.1 407.1,165.1 407.7,165.1 408.3,165.1 408.9,165.1 409.5,165.0 410.1,164.9 410.7,164.9 411.3,164.9 411.9,164.9 412.5,164.9 413.1,164.8 413.7,164.7 414.3,164.7 414.9,164.7 415.5,164.7 416.1,164.7 416.7,164.6 417.3,164.7 417.9,164.6 418.5,164.5 419.1,164.4 419.7,164.4 420.3,164.4 420.9,164.3 421.5,164.3 422.1,164.2 422.7,164.1 423.3,164.1 423.9,164.1 424.5,163.9 425.1,163.9 425.7,163.8 426.3,163.8 426.9,163.7 427.5,163.5 428.1,163.5 428.7,163.3 429.3,163.1 429.9,163.0 430.5,162.7 431.1,162.7 431.7,162.4 432.3,162.2 432.9,161.9 433.5,161.6 434.1,161.3 434.7,160.8 435.3,160.3 435.9,159.8 436.5,159.1 437.1,158.4 437.7,157.7 438.3,156.6 438.9,155.6 439.5,154.3 440.1,153.1 440.7,151.3 441.3,149.5 441.9,147.6 442.5,145.1 443.1,142.7 443.7,139.9 444.3,136.8 444.9,133.4 445.5,129.6 446.1,125.6 446.7,121.1 447.3,116.6 447.9,111.7 448.5,106.6 449.1,101.2 449.7,95.8 450.3,90.2 450.9,84.4 451.5,78.9 452.1,73.4 452.7,68.1 453.3,62.9 453.9,58.2 454.5,53.9 455.1,50.3 455.7,47.2 456.3,44.7 456.9,43.1 457.5,42.1 458.1,41.9 458.7,42.4 459.3,43.4 459.9,45.2 460.5,47.4 461.1,49.8 461.7,52.7 462.3,55.6 462.9,58.9 463.5,62.1 464.1,65.4 464.7,68.6 465.3,71.8 465.9,75.0 466.5,78.0 467.1,80.6 467.7,83.2 468.3,85.9 468.9,88.2 469.5,90.2 470.1,92.2 470.7,94.1 471.3,95.7 471.9,97.3 472.5,98.7 473.1,100.2 473.7,101.5 474.3,102.8 474.9,104.1 475.5,105.4 476.1,106.5 476.7,107.8 477.3,109.0 477.9,110.4 478.5,111.7 479.1,113.0 479.7,114.4 480.3,115.8 480.9,117.4 481.5,118.9 482.1,120.4 482.7,122.0 483.3,123.6 483.9,125.3 484.5,126.9 485.1,128.7 485.7,130.3 486.3,132.0 486.9,133.7 487.5,135.4 488.1,137.0 488.7,138.6 489.3,140.2 489.9,141.8 490.5,143.4 491.1,144.8 491.7,146.3 492.3,147.8 492.9,149.1 493.5,150.3 494.1,151.6 494.7,152.9 495.3,154.1 495.9,155.2 496.5,156.2 497.1,157.1 497.7,158.0 498.3,158.9 498.9,159.8 499.5,160.6 500.1,161.4 500.7,162.1 501.3,162.6 501.9,163.3 502.5,163.8 503.1,164.3 503.7,164.8 504.3,165.1 504.9,165.5 505.5,166.0 506.1,166.2 506.7,166.6 507.3,166.9 507.9,167.2 508.5,167.2 509.1,167.5 509.7,167.7 510.3,167.9 510.9,168.0 511.5,168.2 512.1,168.4 512.7,168.4 513.3,168.5 513.9,168.6 514.5,168.7 515.1,168.8 515.7,168.8 516.3,169.0 516.9,169.0 517.5,168.9 518.1,169.1 518.7,169.1 519.3,169.2 519.9,169.2 520.5,169.1 521.1,169.2 521.7,169.2 522.3,169.3 522.9,169.2 523.5,169.3 524.1,169.4 524.7,169.3 525.3,169.3 525.9,169.2 526.5,169.3 527.1,169.3 527.7,169.4 528.3,169.4 528.9,169.4 529.5,169.3 530.1,169.4 530.7,169.4 531.3,169.3 531.9,169.5 532.5,169.5 533.1,169.4 533.7,169.5 534.3,169.4 534.9,169.4 535.5,169.5 536.1,169.5 536.7,169.5 537.3,169.5 537.9,169.5 538.5,169.4 539.1,169.4 539.7,169.4 540.3,169.5 540.9,169.5 541.5,169.5 542.1,169.6 542.7,169.5 543.3,169.5 543.9,169.5 544.5,169.6 545.1,169.4 545.7,169.5 546.3,169.5 546.9,169.6 547.5,169.5 548.1,169.5 548.7,169.5 549.3,169.6 549.9,169.6 550.5,169.5 551.1,169.6 551.7,169.5 552.3,169.5 552.9,169.5 553.5,169.5 554.1,169.6 554.7,169.6 555.3,169.5 555.9,169.5 556.5,169.6 557.1,169.6 557.7,169.7 558.3,169.6 558.9,169.6 559.5,169.5 560.1,169.6 560.7,169.5 561.3,169.6 561.9,169.6 562.5,169.5 563.1,169.6 563.7,169.7 564.3,169.5 564.9,169.7 565.5,169.7 566.1,169.7 566.7,169.6 567.3,169.6 567.9,169.6 568.5,169.7 569.1,169.7 569.7,169.7 570.3,169.6 570.9,169.7 571.5,169.6 572.1,169.7 572.7,169.7 573.3,169.5 573.9,169.7 574.2,169.7" fill="none" stroke="#4472C4" stroke-width="2.1" stroke-linejoin="round" />
<path d="M358.5,166.7 359.1,166.7 359.7,166.7 360.3,166.7 360.9,166.6 361.5,166.6 362.1,166.6 362.7,166.6 363.3,166.6 363.9,166.6 364.5,166.6 365.1,166.6 365.7,166.6 366.3,166.6 366.9,166.6 367.5,166.6 368.1,166.6 368.7,166.6 369.3,166.5 369.9,166.5 370.5,166.5 371.1,166.5 371.7,166.5 372.3,166.5 372.9,166.5 373.5,166.5 374.1,166.5 374.7,166.5 375.3,166.5 375.9,166.4 376.5,166.4 377.1,166.4 377.7,166.4 378.3,166.4 378.9,166.4 379.5,166.4 380.1,166.4 380.7,166.4 381.3,166.3 381.9,166.3 382.5,166.3 383.1,166.3 383.7,166.3 384.3,166.3 384.9,166.3 385.5,166.3 386.1,166.3 386.7,166.2 387.3,166.2 387.9,166.2 388.5,166.2 389.1,166.2 389.7,166.2 390.3,166.2 390.9,166.1 391.5,166.1 392.1,166.1 392.7,166.1 393.3,166.1 393.9,166.1 394.5,166.0 395.1,166.0 395.7,166.0 396.3,166.0 396.9,166.0 397.5,166.0 398.1,165.9 398.7,165.9 399.3,165.9 399.9,165.9 400.5,165.9 401.1,165.8 401.7,165.8 402.3,165.8 402.9,165.8 403.5,165.8 404.1,165.7 404.7,165.7 405.3,165.7 405.9,165.7 406.5,165.6 407.1,165.6 407.7,165.6 408.3,165.6 408.9,165.5 409.5,165.5 410.1,165.5 410.7,165.4 411.3,165.4 411.9,165.4 412.5,165.4 413.1,165.3 413.7,165.3 414.3,165.3 414.9,165.2 415.5,165.2 416.1,165.1 416.7,165.1 417.3,165.1 417.9,165.0 418.5,165.0 419.1,164.9 419.7,164.9 420.3,164.8 420.9,164.8 421.5,164.7 422.1,164.6 422.7,164.6 423.3,164.5 423.9,164.4 424.5,164.4 425.1,164.3 425.7,164.2 426.3,164.1 426.9,164.0 427.5,163.9 428.1,163.8 428.7,163.6 429.3,163.5 429.9,163.3 430.5,163.2 431.1,163.0 431.7,162.7 432.3,162.5 432.9,162.2 433.5,161.9 434.1,161.5 434.7,161.1 435.3,160.7 435.9,160.1 436.5,159.5 437.1,158.8 437.7,158.0 438.3,157.0 438.9,155.9 439.5,154.7 440.1,153.2 440.7,151.6 441.3,149.8 441.9,147.7 442.5,145.4 443.1,142.9 443.7,140.0 444.3,136.9 444.9,133.5 445.5,129.7 446.1,125.7 446.7,121.3 447.3,116.7 447.9,111.8 448.5,106.7 449.1,101.4 449.7,95.9 450.3,90.3 450.9,84.6 451.5,79.0 452.1,73.5 452.7,68.1 453.3,63.0 453.9,58.3 454.5,54.1 455.1,50.3 455.7,47.3 456.3,44.9 456.9,43.2 457.5,42.2 458.1,42.0 458.7,42.5 459.3,43.6 459.9,45.2 460.5,47.3 461.1,49.8 461.7,52.7 462.3,55.7 462.9,58.9 463.5,62.1 464.1,65.4 464.7,68.7 465.3,71.9 465.9,75.0 466.5,77.9 467.1,80.7 467.7,83.4 468.3,85.8 468.9,88.1 469.5,90.3 470.1,92.2 470.7,94.1 471.3,95.8 471.9,97.3 472.5,98.8 473.1,100.2 473.7,101.5 474.3,102.8 474.9,104.1 475.5,105.3 476.1,106.6 476.7,107.8 477.3,109.1 477.9,110.4 478.5,111.7 479.1,113.0 479.7,114.4 480.3,115.9 480.9,117.4 481.5,118.9 482.1,120.4 482.7,122.0 483.3,123.7 483.9,125.3 484.5,127.0 485.1,128.6 485.7,130.3 486.3,132.0 486.9,133.7 487.5,135.3 488.1,137.0 488.7,138.6 489.3,140.2 489.9,141.8 490.5,143.3 491.1,144.8 491.7,146.3 492.3,147.7 492.9,149.1 493.5,150.4 494.1,151.7 494.7,152.9 495.3,154.0 495.9,155.1 496.5,156.2 497.1,157.2 497.7,158.1 498.3,159.0 498.9,159.8 499.5,160.6 500.1,161.3 500.7,162.0 501.3,162.7 501.9,163.2 502.5,163.8 503.1,164.3 503.7,164.8 504.3,165.2 504.9,165.6 505.5,166.0 506.1,166.3 506.7,166.6 507.3,166.9 507.9,167.1 508.5,167.3 509.1,167.6 509.7,167.7 510.3,167.9 510.9,168.1 511.5,168.2 512.1,168.3 512.7,168.4 513.3,168.5 513.9,168.6 514.5,168.7 515.1,168.8 515.7,168.8 516.3,168.9 516.9,169.0 517.5,169.0 518.1,169.0 518.7,169.1 519.3,169.1 519.9,169.1 520.5,169.2 521.1,169.2 521.7,169.2 522.3,169.2 522.9,169.3 523.5,169.3 524.1,169.3 524.7,169.3 525.3,169.3 525.9,169.3 526.5,169.3 527.1,169.3 527.7,169.4 528.3,169.4 528.9,169.4 529.5,169.4 530.1,169.4 530.7,169.4 531.3,169.4 531.9,169.4 532.5,169.4 533.1,169.4 533.7,169.4 534.3,169.4 534.9,169.4 535.5,169.5 536.1,169.5 536.7,169.5 537.3,169.5 537.9,169.5 538.5,169.5 539.1,169.5 539.7,169.5 540.3,169.5 540.9,169.5 541.5,169.5 542.1,169.5 542.7,169.5 543.3,169.5 543.9,169.5 544.5,169.5 545.1,169.5 545.7,169.5 546.3,169.5 546.9,169.5 547.5,169.5 548.1,169.5 548.7,169.5 549.3,169.5 549.9,169.6 550.5,169.6 551.1,169.6 551.7,169.6 552.3,169.6 552.9,169.6 553.5,169.6 554.1,169.6 554.7,169.6 555.3,169.6 555.9,169.6 556.5,169.6 557.1,169.6 557.7,169.6 558.3,169.6 558.9,169.6 559.5,169.6 560.1,169.6 560.7,169.6 561.3,169.6 561.9,169.6 562.5,169.6 563.1,169.6 563.7,169.6 564.3,169.6 564.9,169.6 565.5,169.6 566.1,169.6 566.7,169.6 567.3,169.6 567.9,169.6 568.5,169.6 569.1,169.6 569.7,169.6 570.3,169.6 570.9,169.6 571.5,169.6 572.1,169.6 572.7,169.6 573.3,169.6 573.9,169.6 574.2,169.6" fill="none" stroke="#111" stroke-width="1.5" stroke-linejoin="round" stroke-dasharray="3.5,2.9"/>
<path d="M358.5,170.8 L358.5,18.4 L574.2,18.4 L574.2,170.8" fill="none" stroke="#303030" stroke-width="1.3"/>
<rect x="480.3" y="25.50" width="87.7" height="54.30" fill="#fff" stroke="#555" stroke-width="0.9"/>
<line x1="483.70" y1="31.00" x2="500.80" y2="31.00" stroke="#4472C4" stroke-width="1.6" />
<line x1="483.70" y1="41.90" x2="500.80" y2="41.90" stroke="#FFC000" stroke-width="1.6" />
<line x1="483.70" y1="52.80" x2="500.80" y2="52.80" stroke="#ED7D31" stroke-width="1.6" />
<line x1="483.70" y1="63.70" x2="500.80" y2="63.70" stroke="#A5A5A5" stroke-width="1.6" />
<line x1="483.70" y1="74.60" x2="500.80" y2="74.60" stroke="#111" stroke-width="1.4" stroke-dasharray="4,2.55"/>
<text x="504.6" y="33.30" font-size="7.6" fill="#1a1a1a" textLength="59.6" lengthAdjust="spacingAndGlyphs">Exp. (FAB: 270 s)</text>
<text x="504.6" y="44.20" font-size="7.6" fill="#1a1a1a" textLength="56.5" lengthAdjust="spacingAndGlyphs">Exp. Background</text>
<text x="504.6" y="55.10" font-size="7.6" fill="#1a1a1a">sp<tspan font-size="4.6" dy="-2.4">3</tspan></text>
<text x="504.6" y="66.00" font-size="7.6" fill="#1a1a1a">sp<tspan font-size="4.6" dy="-2.4">2</tspan></text>
<text x="504.6" y="76.90" font-size="7.6" fill="#1a1a1a" textLength="40.4" lengthAdjust="spacingAndGlyphs">Fitted Curve</text>
<text x="358.50" y="190.90" font-size="11.8" text-anchor="middle" fill="#1a1a1a" textLength="19.70" lengthAdjust="spacingAndGlyphs" >292</text>
<text x="394.45" y="190.90" font-size="11.8" text-anchor="middle" fill="#1a1a1a" textLength="19.70" lengthAdjust="spacingAndGlyphs" >290</text>
<text x="430.40" y="190.90" font-size="11.8" text-anchor="middle" fill="#1a1a1a" textLength="19.70" lengthAdjust="spacingAndGlyphs" >288</text>
<text x="466.35" y="190.90" font-size="11.8" text-anchor="middle" fill="#1a1a1a" textLength="19.70" lengthAdjust="spacingAndGlyphs" >286</text>
<text x="502.30" y="190.90" font-size="11.8" text-anchor="middle" fill="#1a1a1a" textLength="19.70" lengthAdjust="spacingAndGlyphs" >284</text>
<text x="538.25" y="190.90" font-size="11.8" text-anchor="middle" fill="#1a1a1a" textLength="19.70" lengthAdjust="spacingAndGlyphs" >282</text>
<text x="574.20" y="190.90" font-size="11.8" text-anchor="middle" fill="#1a1a1a" textLength="19.70" lengthAdjust="spacingAndGlyphs" >280</text>
<text x="404.50" y="213.10" font-size="14.0" text-anchor="start" fill="#1a1a1a" textLength="130.00" lengthAdjust="spacingAndGlyphs" >Binding Energy ( eV )</text>
<text transform="translate(331.8,163.39999999999998) rotate(-90)" font-size="13.9" fill="#1a1a1a" textLength="130.1" lengthAdjust="spacingAndGlyphs">Intensity ( arb. unit )</text>
<line x1="376.48" y1="234.00" x2="376.48" y2="385.70" stroke="#ededed" stroke-width="0.7" />
<line x1="394.45" y1="234.00" x2="394.45" y2="385.70" stroke="#ededed" stroke-width="0.7" />
<line x1="412.43" y1="234.00" x2="412.43" y2="385.70" stroke="#ededed" stroke-width="0.7" />
<line x1="430.40" y1="234.00" x2="430.40" y2="385.70" stroke="#ededed" stroke-width="0.7" />
<line x1="448.38" y1="234.00" x2="448.38" y2="385.70" stroke="#ededed" stroke-width="0.7" />
<line x1="466.35" y1="234.00" x2="466.35" y2="385.70" stroke="#ededed" stroke-width="0.7" />
<line x1="484.33" y1="234.00" x2="484.33" y2="385.70" stroke="#ededed" stroke-width="0.7" />
<line x1="502.30" y1="234.00" x2="502.30" y2="385.70" stroke="#ededed" stroke-width="0.7" />
<line x1="520.28" y1="234.00" x2="520.28" y2="385.70" stroke="#ededed" stroke-width="0.7" />
<line x1="538.25" y1="234.00" x2="538.25" y2="385.70" stroke="#ededed" stroke-width="0.7" />
<line x1="556.23" y1="234.00" x2="556.23" y2="385.70" stroke="#ededed" stroke-width="0.7" />
<line x1="358.50" y1="259.28" x2="574.20" y2="259.28" stroke="#ededed" stroke-width="0.7" />
<line x1="358.50" y1="284.57" x2="574.20" y2="284.57" stroke="#ededed" stroke-width="0.7" />
<line x1="358.50" y1="309.85" x2="574.20" y2="309.85" stroke="#ededed" stroke-width="0.7" />
<line x1="358.50" y1="335.13" x2="574.20" y2="335.13" stroke="#ededed" stroke-width="0.7" />
<line x1="358.50" y1="360.42" x2="574.20" y2="360.42" stroke="#ededed" stroke-width="0.7" />
<line x1="358.50" y1="385.90" x2="574.20" y2="385.90" stroke="#8a8a8a" stroke-width="1" />
<line x1="376.48" y1="383.30" x2="376.48" y2="386.20" stroke="#555" stroke-width="0.9" />
<line x1="394.45" y1="383.30" x2="394.45" y2="386.20" stroke="#555" stroke-width="0.9" />
<line x1="412.43" y1="383.30" x2="412.43" y2="386.20" stroke="#555" stroke-width="0.9" />
<line x1="430.40" y1="383.30" x2="430.40" y2="386.20" stroke="#555" stroke-width="0.9" />
<line x1="448.38" y1="383.30" x2="448.38" y2="386.20" stroke="#555" stroke-width="0.9" />
<line x1="466.35" y1="383.30" x2="466.35" y2="386.20" stroke="#555" stroke-width="0.9" />
<line x1="484.33" y1="383.30" x2="484.33" y2="386.20" stroke="#555" stroke-width="0.9" />
<line x1="502.30" y1="383.30" x2="502.30" y2="386.20" stroke="#555" stroke-width="0.9" />
<line x1="520.28" y1="383.30" x2="520.28" y2="386.20" stroke="#555" stroke-width="0.9" />
<line x1="538.25" y1="383.30" x2="538.25" y2="386.20" stroke="#555" stroke-width="0.9" />
<line x1="556.23" y1="383.30" x2="556.23" y2="386.20" stroke="#555" stroke-width="0.9" />
<path d="M358.5,382.9 359.1,382.9 359.7,382.9 360.3,382.9 360.9,382.9 361.5,382.9 362.1,382.9 362.7,382.9 363.3,382.9 363.9,382.9 364.5,382.9 365.1,382.9 365.7,382.9 366.3,382.9 366.9,382.9 367.5,382.9 368.1,382.9 368.7,382.9 369.3,382.9 369.9,382.9 370.5,382.9 371.1,382.9 371.7,382.9 372.3,382.9 372.9,382.9 373.5,382.9 374.1,382.9 374.7,382.9 375.3,382.9 375.9,382.9 376.5,382.9 377.1,382.9 377.7,382.9 378.3,382.9 378.9,382.9 379.5,382.9 380.1,382.9 380.7,382.9 381.3,382.9 381.9,382.9 382.5,382.9 383.1,382.9 383.7,382.9 384.3,382.9 384.9,382.9 385.5,382.9 386.1,382.9 386.7,382.9 387.3,382.9 387.9,382.9 388.5,382.9 389.1,382.9 389.7,382.9 390.3,382.9 390.9,382.9 391.5,382.9 392.1,382.9 392.7,382.9 393.3,382.9 393.9,382.9 394.5,382.9 395.1,382.9 395.7,382.9 396.3,382.9 396.9,382.9 397.5,382.9 398.1,382.9 398.7,382.9 399.3,382.9 399.9,382.9 400.5,382.9 401.1,382.9 401.7,382.9 402.3,382.9 402.9,382.9 403.5,382.9 404.1,382.9 404.7,382.9 405.3,382.9 405.9,382.9 406.5,382.9 407.1,382.9 407.7,382.9 408.3,382.9 408.9,382.9 409.5,382.9 410.1,382.9 410.7,382.9 411.3,382.9 411.9,382.9 412.5,382.9 413.1,382.9 413.7,382.9 414.3,382.9 414.9,382.9 415.5,382.9 416.1,382.9 416.7,383.0 417.3,383.0 417.9,383.0 418.5,383.0 419.1,383.0 419.7,383.0 420.3,383.0 420.9,383.0 421.5,383.0 422.1,383.0 422.7,383.0 423.3,383.0 423.9,383.0 424.5,383.0 425.1,383.0 425.7,383.0 426.3,383.0 426.9,383.0 427.5,383.0 428.1,383.0 428.7,383.0 429.3,383.0 429.9,383.0 430.5,383.1 431.1,383.1 431.7,383.1 432.3,383.1 432.9,383.1 433.5,383.1 434.1,383.1 434.7,383.1 435.3,383.1 435.9,383.1 436.5,383.1 437.1,383.2 437.7,383.2 438.3,383.2 438.9,383.2 439.5,383.2 440.1,383.2 440.7,383.2 441.3,383.2 441.9,383.3 442.5,383.3 443.1,383.3 443.7,383.3 444.3,383.3 444.9,383.3 445.5,383.4 446.1,383.4 446.7,383.4 447.3,383.4 447.9,383.4 448.5,383.5 449.1,383.5 449.7,383.5 450.3,383.5 450.9,383.6 451.5,383.6 452.1,383.6 452.7,383.6 453.3,383.7 453.9,383.7 454.5,383.7 455.1,383.7 455.7,383.8 456.3,383.8 456.9,383.8 457.5,383.8 458.1,383.9 458.7,383.9 459.3,383.9 459.9,383.9 460.5,384.0 461.1,384.0 461.7,384.0 462.3,384.1 462.9,384.1 463.5,384.1 464.1,384.2 464.7,384.2 465.3,384.2 465.9,384.2 466.5,384.3 467.1,384.3 467.7,384.3 468.3,384.3 468.9,384.4 469.5,384.4 470.1,384.4 470.7,384.4 471.3,384.5 471.9,384.5 472.5,384.5 473.1,384.5 473.7,384.6 474.3,384.6 474.9,384.6 475.5,384.6 476.1,384.7 476.7,384.7 477.3,384.7 477.9,384.7 478.5,384.7 479.1,384.8 479.7,384.8 480.3,384.8 480.9,384.8 481.5,384.8 482.1,384.8 482.7,384.9 483.3,384.9 483.9,384.9 484.5,384.9 485.1,384.9 485.7,384.9 486.3,384.9 486.9,384.9 487.5,385.0 488.1,385.0 488.7,385.0 489.3,385.0 489.9,385.0 490.5,385.0 491.1,385.0 491.7,385.0 492.3,385.0 492.9,385.0 493.5,385.0 494.1,385.1 494.7,385.1 495.3,385.1 495.9,385.1 496.5,385.1 497.1,385.1 497.7,385.1 498.3,385.1 498.9,385.1 499.5,385.1 500.1,385.1 500.7,385.1 501.3,385.1 501.9,385.1 502.5,385.1 503.1,385.1 503.7,385.1 504.3,385.1 504.9,385.1 505.5,385.1 506.1,385.1 506.7,385.1 507.3,385.1 507.9,385.2 508.5,385.2 509.1,385.2 509.7,385.2 510.3,385.2 510.9,385.2 511.5,385.2 512.1,385.2 512.7,385.2 513.3,385.2 513.9,385.2 514.5,385.2 515.1,385.2 515.7,385.2 516.3,385.2 516.9,385.2 517.5,385.2 518.1,385.2 518.7,385.2 519.3,385.2 519.9,385.2 520.5,385.2 521.1,385.2 521.7,385.2 522.3,385.2 522.9,385.2 523.5,385.2 524.1,385.2 524.7,385.2 525.3,385.2 525.9,385.2 526.5,385.2 527.1,385.2 527.7,385.2 528.3,385.2 528.9,385.2 529.5,385.2 530.1,385.2 530.7,385.2 531.3,385.2 531.9,385.2 532.5,385.2 533.1,385.2 533.7,385.2 534.3,385.2 534.9,385.2 535.5,385.2 536.1,385.2 536.7,385.2 537.3,385.2 537.9,385.2 538.5,385.2 539.1,385.2 539.7,385.2 540.3,385.2 540.9,385.2 541.5,385.2 542.1,385.2 542.7,385.2 543.3,385.2 543.9,385.2 544.5,385.2 545.1,385.2 545.7,385.2 546.3,385.2 546.9,385.2 547.5,385.2 548.1,385.2 548.7,385.2 549.3,385.2 549.9,385.2 550.5,385.2 551.1,385.2 551.7,385.2 552.3,385.2 552.9,385.2 553.5,385.2 554.1,385.2 554.7,385.2 555.3,385.2 555.9,385.2 556.5,385.2 557.1,385.2 557.7,385.2 558.3,385.2 558.9,385.2 559.5,385.2 560.1,385.2 560.7,385.2 561.3,385.2 561.9,385.2 562.5,385.2 563.1,385.2 563.7,385.2 564.3,385.2 564.9,385.2 565.5,385.2 566.1,385.2 566.7,385.2 567.3,385.2 567.9,385.2 568.5,385.2 569.1,385.2 569.7,385.2 570.3,385.2 570.9,385.2 571.5,385.2 572.1,385.2 572.7,385.2 573.3,385.2 573.9,385.2 574.2,385.2" fill="none" stroke="#FFC000" stroke-width="1.7" stroke-linejoin="round" />
<path d="M358.5,385.3 359.1,385.3 359.7,385.3 360.3,385.3 360.9,385.3 361.5,385.3 362.1,385.3 362.7,385.3 363.3,385.3 363.9,385.3 364.5,385.3 365.1,385.3 365.7,385.3 366.3,385.3 366.9,385.3 367.5,385.3 368.1,385.3 368.7,385.3 369.3,385.3 369.9,385.3 370.5,385.3 371.1,385.3 371.7,385.3 372.3,385.3 372.9,385.3 373.5,385.3 374.1,385.3 374.7,385.3 375.3,385.3 375.9,385.3 376.5,385.3 377.1,385.3 377.7,385.3 378.3,385.3 378.9,385.3 379.5,385.3 380.1,385.3 380.7,385.3 381.3,385.3 381.9,385.3 382.5,385.3 383.1,385.3 383.7,385.3 384.3,385.3 384.9,385.3 385.5,385.3 386.1,385.3 386.7,385.3 387.3,385.3 387.9,385.3 388.5,385.3 389.1,385.3 389.7,385.3 390.3,385.3 390.9,385.3 391.5,385.3 392.1,385.3 392.7,385.3 393.3,385.3 393.9,385.3 394.5,385.3 395.1,385.3 395.7,385.3 396.3,385.3 396.9,385.3 397.5,385.3 398.1,385.3 398.7,385.3 399.3,385.3 399.9,385.3 400.5,385.3 401.1,385.3 401.7,385.3 402.3,385.3 402.9,385.3 403.5,385.3 404.1,385.3 404.7,385.3 405.3,385.3 405.9,385.3 406.5,385.3 407.1,385.3 407.7,385.3 408.3,385.3 408.9,385.3 409.5,385.3 410.1,385.3 410.7,385.3 411.3,385.3 411.9,385.3 412.5,385.3 413.1,385.3 413.7,385.3 414.3,385.3 414.9,385.3 415.5,385.3 416.1,385.3 416.7,385.3 417.3,385.3 417.9,385.3 418.5,385.3 419.1,385.3 419.7,385.3 420.3,385.3 420.9,385.3 421.5,385.3 422.1,385.3 422.7,385.3 423.3,385.3 423.9,385.3 424.5,385.3 425.1,385.3 425.7,385.3 426.3,385.3 426.9,385.3 427.5,385.3 428.1,385.3 428.7,385.3 429.3,385.3 429.9,385.3 430.5,385.3 431.1,385.3 431.7,385.3 432.3,385.3 432.9,385.3 433.5,385.3 434.1,385.3 434.7,385.3 435.3,385.3 435.9,385.2 436.5,385.2 437.1,385.2 437.7,385.2 438.3,385.2 438.9,385.2 439.5,385.1 440.1,385.1 440.7,385.1 441.3,385.0 441.9,385.0 442.5,384.9 443.1,384.8 443.7,384.7 444.3,384.6 444.9,384.5 445.5,384.4 446.1,384.2 446.7,384.1 447.3,383.9 447.9,383.6 448.5,383.4 449.1,383.1 449.7,382.8 450.3,382.4 450.9,382.0 451.5,381.6 452.1,381.1 452.7,380.6 453.3,380.0 453.9,379.3 454.5,378.6 455.1,377.8 455.7,377.0 456.3,376.1 456.9,375.1 457.5,374.1 458.1,373.0 458.7,371.8 459.3,370.6 459.9,369.3 460.5,367.9 461.1,366.5 461.7,365.0 462.3,363.4 462.9,361.8 463.5,360.2 464.1,358.5 464.7,356.8 465.3,355.1 465.9,353.4 466.5,351.7 467.1,350.0 467.7,348.3 468.3,346.6 468.9,345.0 469.5,343.4 470.1,342.0 470.7,340.5 471.3,339.2 471.9,338.0 472.5,336.9 473.1,335.9 473.7,335.1 474.3,334.3 474.9,333.8 475.5,333.3 476.1,333.0 476.7,332.9 477.3,332.9 477.9,333.1 478.5,333.4 479.1,333.9 479.7,334.6 480.3,335.3 480.9,336.2 481.5,337.3 482.1,338.4 482.7,339.7 483.3,341.0 483.9,342.4 484.5,344.0 485.1,345.5 485.7,347.2 486.3,348.8 486.9,350.5 487.5,352.2 488.1,354.0 488.7,355.7 489.3,357.4 489.9,359.1 490.5,360.8 491.1,362.4 491.7,364.0 492.3,365.5 492.9,367.0 493.5,368.4 494.1,369.7 494.7,371.0 495.3,372.2 495.9,373.4 496.5,374.5 497.1,375.5 497.7,376.4 498.3,377.3 498.9,378.1 499.5,378.9 500.1,379.5 500.7,380.2 501.3,380.7 501.9,381.3 502.5,381.7 503.1,382.2 503.7,382.5 504.3,382.9 504.9,383.2 505.5,383.5 506.1,383.7 506.7,383.9 507.3,384.1 507.9,384.3 508.5,384.4 509.1,384.6 509.7,384.7 510.3,384.8 510.9,384.8 511.5,384.9 512.1,385.0 512.7,385.0 513.3,385.1 513.9,385.1 514.5,385.1 515.1,385.2 515.7,385.2 516.3,385.2 516.9,385.2 517.5,385.2 518.1,385.3 518.7,385.3 519.3,385.3 519.9,385.3 520.5,385.3 521.1,385.3 521.7,385.3 522.3,385.3 522.9,385.3 523.5,385.3 524.1,385.3 524.7,385.3 525.3,385.3 525.9,385.3 526.5,385.3 527.1,385.3 527.7,385.3 528.3,385.3 528.9,385.3 529.5,385.3 530.1,385.3 530.7,385.3 531.3,385.3 531.9,385.3 532.5,385.3 533.1,385.3 533.7,385.3 534.3,385.3 534.9,385.3 535.5,385.3 536.1,385.3 536.7,385.3 537.3,385.3 537.9,385.3 538.5,385.3 539.1,385.3 539.7,385.3 540.3,385.3 540.9,385.3 541.5,385.3 542.1,385.3 542.7,385.3 543.3,385.3 543.9,385.3 544.5,385.3 545.1,385.3 545.7,385.3 546.3,385.3 546.9,385.3 547.5,385.3 548.1,385.3 548.7,385.3 549.3,385.3 549.9,385.3 550.5,385.3 551.1,385.3 551.7,385.3 552.3,385.3 552.9,385.3 553.5,385.3 554.1,385.3 554.7,385.3 555.3,385.3 555.9,385.3 556.5,385.3 557.1,385.3 557.7,385.3 558.3,385.3 558.9,385.3 559.5,385.3 560.1,385.3 560.7,385.3 561.3,385.3 561.9,385.3 562.5,385.3 563.1,385.3 563.7,385.3 564.3,385.3 564.9,385.3 565.5,385.3 566.1,385.3 566.7,385.3 567.3,385.3 567.9,385.3 568.5,385.3 569.1,385.3 569.7,385.3 570.3,385.3 570.9,385.3 571.5,385.3 572.1,385.3 572.7,385.3 573.3,385.3 573.9,385.3 574.2,385.3" fill="none" stroke="#A5A5A5" stroke-width="1.8" stroke-linejoin="round" />
<path d="M358.5,385.1 359.1,385.1 359.7,385.1 360.3,385.1 360.9,385.1 361.5,385.1 362.1,385.1 362.7,385.1 363.3,385.1 363.9,385.0 364.5,385.0 365.1,385.0 365.7,385.0 366.3,385.0 366.9,385.0 367.5,385.0 368.1,385.0 368.7,385.0 369.3,385.0 369.9,385.0 370.5,385.0 371.1,385.0 371.7,385.0 372.3,385.0 372.9,385.0 373.5,385.0 374.1,385.0 374.7,385.0 375.3,385.0 375.9,385.0 376.5,385.0 377.1,385.0 377.7,385.0 378.3,385.0 378.9,384.9 379.5,384.9 380.1,384.9 380.7,384.9 381.3,384.9 381.9,384.9 382.5,384.9 383.1,384.9 383.7,384.9 384.3,384.9 384.9,384.9 385.5,384.9 386.1,384.9 386.7,384.9 387.3,384.9 387.9,384.8 388.5,384.8 389.1,384.8 389.7,384.8 390.3,384.8 390.9,384.8 391.5,384.8 392.1,384.8 392.7,384.8 393.3,384.8 393.9,384.8 394.5,384.8 395.1,384.7 395.7,384.7 396.3,384.7 396.9,384.7 397.5,384.7 398.1,384.7 398.7,384.7 399.3,384.7 399.9,384.6 400.5,384.6 401.1,384.6 401.7,384.6 402.3,384.6 402.9,384.6 403.5,384.6 404.1,384.5 404.7,384.5 405.3,384.5 405.9,384.5 406.5,384.5 407.1,384.5 407.7,384.4 408.3,384.4 408.9,384.4 409.5,384.4 410.1,384.3 410.7,384.3 411.3,384.3 411.9,384.3 412.5,384.2 413.1,384.2 413.7,384.2 414.3,384.2 414.9,384.1 415.5,384.1 416.1,384.1 416.7,384.0 417.3,384.0 417.9,384.0 418.5,383.9 419.1,383.9 419.7,383.8 420.3,383.8 420.9,383.7 421.5,383.7 422.1,383.6 422.7,383.6 423.3,383.5 423.9,383.5 424.5,383.4 425.1,383.3 425.7,383.3 426.3,383.2 426.9,383.1 427.5,383.0 428.1,382.9 428.7,382.8 429.3,382.7 429.9,382.6 430.5,382.5 431.1,382.4 431.7,382.2 432.3,382.1 432.9,381.9 433.5,381.7 434.1,381.5 434.7,381.3 435.3,381.0 435.9,380.6 436.5,380.3 437.1,379.8 437.7,379.3 438.3,378.7 438.9,378.0 439.5,377.2 440.1,376.3 440.7,375.2 441.3,374.0 441.9,372.5 442.5,370.9 443.1,369.0 443.7,366.8 444.3,364.4 444.9,361.7 445.5,358.7 446.1,355.4 446.7,351.8 447.3,347.9 447.9,343.7 448.5,339.2 449.1,334.4 449.7,329.4 450.3,324.2 450.9,318.9 451.5,313.5 452.1,308.1 452.7,302.9 453.3,297.8 453.9,293.0 454.5,288.6 455.1,284.6 455.7,281.4 456.3,278.8 456.9,277.0 457.5,276.1 458.1,276.1 458.7,277.0 459.3,278.8 459.9,281.4 460.5,284.6 461.1,288.6 461.7,293.0 462.3,297.8 462.9,302.9 463.5,308.1 464.1,313.5 464.7,318.9 465.3,324.2 465.9,329.4 466.5,334.4 467.1,339.2 467.7,343.7 468.3,347.9 468.9,351.8 469.5,355.4 470.1,358.7 470.7,361.7 471.3,364.4 471.9,366.8 472.5,369.0 473.1,370.9 473.7,372.5 474.3,374.0 474.9,375.2 475.5,376.3 476.1,377.2 476.7,378.0 477.3,378.7 477.9,379.3 478.5,379.8 479.1,380.3 479.7,380.6 480.3,381.0 480.9,381.3 481.5,381.5 482.1,381.7 482.7,381.9 483.3,382.1 483.9,382.2 484.5,382.4 485.1,382.5 485.7,382.6 486.3,382.7 486.9,382.8 487.5,382.9 488.1,383.0 488.7,383.1 489.3,383.2 489.9,383.3 490.5,383.3 491.1,383.4 491.7,383.5 492.3,383.5 492.9,383.6 493.5,383.6 494.1,383.7 494.7,383.7 495.3,383.8 495.9,383.8 496.5,383.9 497.1,383.9 497.7,384.0 498.3,384.0 498.9,384.0 499.5,384.1 500.1,384.1 500.7,384.1 501.3,384.2 501.9,384.2 502.5,384.2 503.1,384.2 503.7,384.3 504.3,384.3 504.9,384.3 505.5,384.3 506.1,384.4 506.7,384.4 507.3,384.4 507.9,384.4 508.5,384.5 509.1,384.5 509.7,384.5 510.3,384.5 510.9,384.5 511.5,384.5 512.1,384.6 512.7,384.6 513.3,384.6 513.9,384.6 514.5,384.6 515.1,384.6 515.7,384.6 516.3,384.7 516.9,384.7 517.5,384.7 518.1,384.7 518.7,384.7 519.3,384.7 519.9,384.7 520.5,384.7 521.1,384.8 521.7,384.8 522.3,384.8 522.9,384.8 523.5,384.8 524.1,384.8 524.7,384.8 525.3,384.8 525.9,384.8 526.5,384.8 527.1,384.8 527.7,384.8 528.3,384.9 528.9,384.9 529.5,384.9 530.1,384.9 530.7,384.9 531.3,384.9 531.9,384.9 532.5,384.9 533.1,384.9 533.7,384.9 534.3,384.9 534.9,384.9 535.5,384.9 536.1,384.9 536.7,384.9 537.3,385.0 537.9,385.0 538.5,385.0 539.1,385.0 539.7,385.0 540.3,385.0 540.9,385.0 541.5,385.0 542.1,385.0 542.7,385.0 543.3,385.0 543.9,385.0 544.5,385.0 545.1,385.0 545.7,385.0 546.3,385.0 546.9,385.0 547.5,385.0 548.1,385.0 548.7,385.0 549.3,385.0 549.9,385.0 550.5,385.0 551.1,385.0 551.7,385.0 552.3,385.1 552.9,385.1 553.5,385.1 554.1,385.1 554.7,385.1 555.3,385.1 555.9,385.1 556.5,385.1 557.1,385.1 557.7,385.1 558.3,385.1 558.9,385.1 559.5,385.1 560.1,385.1 560.7,385.1 561.3,385.1 561.9,385.1 562.5,385.1 563.1,385.1 563.7,385.1 564.3,385.1 564.9,385.1 565.5,385.1 566.1,385.1 566.7,385.1 567.3,385.1 567.9,385.1 568.5,385.1 569.1,385.1 569.7,385.1 570.3,385.1 570.9,385.1 571.5,385.1 572.1,385.1 572.7,385.1 573.3,385.1 573.9,385.1 574.2,385.1" fill="none" stroke="#ED7D31" stroke-width="1.8" stroke-linejoin="round" />
<path d="M358.5,381.7 359.1,381.6 359.7,381.6 360.3,381.6 360.9,381.6 361.5,381.5 362.1,381.6 362.7,381.6 363.3,381.6 363.9,381.6 364.5,381.6 365.1,381.6 365.7,381.5 366.3,381.6 366.9,381.5 367.5,381.4 368.1,381.5 368.7,381.4 369.3,381.4 369.9,381.4 370.5,381.5 371.1,381.4 371.7,381.5 372.3,381.4 372.9,381.3 373.5,381.4 374.1,381.3 374.7,381.4 375.3,381.3 375.9,381.3 376.5,381.2 377.1,381.3 377.7,381.3 378.3,381.3 378.9,381.2 379.5,381.2 380.1,381.1 380.7,381.0 381.3,381.0 381.9,381.0 382.5,381.0 383.1,380.9 383.7,381.0 384.3,381.0 384.9,380.9 385.5,380.9 386.1,380.9 386.7,380.8 387.3,380.8 387.9,380.9 388.5,380.8 389.1,380.7 389.7,380.8 390.3,380.7 390.9,380.6 391.5,380.6 392.1,380.6 392.7,380.6 393.3,380.5 393.9,380.4 394.5,380.4 395.1,380.5 395.7,380.3 396.3,380.3 396.9,380.3 397.5,380.2 398.1,380.2 398.7,380.2 399.3,380.1 399.9,380.0 400.5,380.0 401.1,380.0 401.7,380.0 402.3,379.9 402.9,379.8 403.5,379.9 404.1,379.8 404.7,379.9 405.3,379.7 405.9,379.7 406.5,379.7 407.1,379.5 407.7,379.7 408.3,379.5 408.9,379.4 409.5,379.5 410.1,379.4 410.7,379.4 411.3,379.3 411.9,379.2 412.5,379.1 413.1,379.2 413.7,379.1 414.3,379.2 414.9,379.0 415.5,379.1 416.1,378.9 416.7,378.8 417.3,378.8 417.9,378.9 418.5,378.8 419.1,378.7 419.7,378.6 420.3,378.6 420.9,378.6 421.5,378.5 422.1,378.3 422.7,378.2 423.3,378.2 423.9,378.1 424.5,378.1 425.1,378.0 425.7,378.0 426.3,378.0 426.9,377.8 427.5,377.9 428.1,377.7 428.7,377.7 429.3,377.6 429.9,377.5 430.5,377.2 431.1,377.1 431.7,377.0 432.3,377.0 432.9,376.6 433.5,376.5 434.1,376.4 434.7,376.0 435.3,375.8 435.9,375.5 436.5,375.2 437.1,374.8 437.7,374.2 438.3,373.8 438.9,373.2 439.5,372.5 440.1,371.6 440.7,370.7 441.3,369.5 441.9,368.1 442.5,366.5 443.1,364.9 443.7,362.7 444.3,360.3 444.9,357.7 445.5,354.8 446.1,351.4 446.7,347.8 447.3,343.7 447.9,339.4 448.5,334.7 449.1,329.8 449.7,324.5 450.3,319.1 450.9,313.5 451.5,307.7 452.1,301.8 452.7,296.1 453.3,290.6 453.9,285.1 454.5,280.1 455.1,275.4 455.7,271.3 456.3,267.9 456.9,265.2 457.5,263.2 458.1,262.1 458.7,261.8 459.3,262.4 459.9,263.8 460.5,265.5 461.1,268.1 461.7,270.9 462.3,274.1 462.9,277.6 463.5,281.1 464.1,284.7 464.7,288.3 465.3,291.9 465.9,295.2 466.5,298.2 467.1,301.2 467.7,304.0 468.3,306.2 468.9,308.4 469.5,310.2 470.1,311.9 470.7,313.3 471.3,314.5 471.9,315.4 472.5,316.2 473.1,317.0 473.7,317.7 474.3,318.4 474.9,318.9 475.5,319.5 476.1,320.4 476.7,320.9 477.3,321.9 477.9,322.6 478.5,323.7 479.1,324.7 479.7,326.0 480.3,327.3 480.9,328.7 481.5,330.3 482.1,331.9 482.7,333.5 483.3,335.3 483.9,337.1 484.5,338.9 485.1,341.0 485.7,342.9 486.3,344.9 486.9,346.7 487.5,348.8 488.1,350.7 488.7,352.7 489.3,354.4 489.9,356.3 490.5,358.2 491.1,359.9 491.7,361.7 492.3,363.3 492.9,364.8 493.5,366.4 494.1,367.8 494.7,369.1 495.3,370.4 495.9,371.7 496.5,372.7 497.1,373.8 497.7,374.8 498.3,375.7 498.9,376.6 499.5,377.5 500.1,378.2 500.7,378.9 501.3,379.5 501.9,380.0 502.5,380.6 503.1,380.9 503.7,381.3 504.3,381.8 504.9,382.1 505.5,382.4 506.1,382.6 506.7,382.9 507.3,383.1 507.9,383.4 508.5,383.5 509.1,383.5 509.7,383.8 510.3,383.8 510.9,383.8 511.5,384.1 512.1,384.1 512.7,384.2 513.3,384.3 513.9,384.2 514.5,384.4 515.1,384.3 515.7,384.4 516.3,384.4 516.9,384.5 517.5,384.6 518.1,384.5 518.7,384.5 519.3,384.5 519.9,384.6 520.5,384.5 521.1,384.5 521.7,384.7 522.3,384.7 522.9,384.8 523.5,384.8 524.1,384.8 524.7,384.7 525.3,384.6 525.9,384.7 526.5,384.7 527.1,384.7 527.7,384.7 528.3,384.7 528.9,384.8 529.5,384.7 530.1,384.8 530.7,384.9 531.3,384.8 531.9,384.8 532.5,384.7 533.1,384.9 533.7,384.7 534.3,384.7 534.9,384.8 535.5,384.8 536.1,384.8 536.7,384.8 537.3,384.8 537.9,384.9 538.5,384.8 539.1,385.0 539.7,384.9 540.3,385.0 540.9,384.8 541.5,384.8 542.1,384.8 542.7,384.9 543.3,384.9 543.9,384.8 544.5,384.9 545.1,384.8 545.7,384.9 546.3,384.9 546.9,385.0 547.5,384.9 548.1,384.9 548.7,384.8 549.3,384.9 549.9,385.0 550.5,385.0 551.1,385.0 551.7,385.0 552.3,384.9 552.9,384.9 553.5,385.0 554.1,385.0 554.7,385.0 555.3,385.0 555.9,385.0 556.5,384.9 557.1,384.9 557.7,384.9 558.3,385.0 558.9,385.1 559.5,385.1 560.1,385.0 560.7,385.0 561.3,385.1 561.9,385.1 562.5,385.0 563.1,385.0 563.7,385.0 564.3,384.9 564.9,384.9 565.5,385.0 566.1,385.1 566.7,385.0 567.3,385.0 567.9,385.0 568.5,385.0 569.1,385.1 569.7,385.0 570.3,385.1 570.9,385.0 571.5,385.0 572.1,385.0 572.7,385.0 573.3,385.1 573.9,385.1 574.2,385.1" fill="none" stroke="#4472C4" stroke-width="2.1" stroke-linejoin="round" />
<path d="M358.5,382.6 359.1,382.5 359.7,382.5 360.3,382.5 360.9,382.5 361.5,382.5 362.1,382.5 362.7,382.5 363.3,382.5 363.9,382.5 364.5,382.5 365.1,382.4 365.7,382.4 366.3,382.4 366.9,382.4 367.5,382.4 368.1,382.4 368.7,382.4 369.3,382.4 369.9,382.3 370.5,382.3 371.1,382.3 371.7,382.3 372.3,382.3 372.9,382.3 373.5,382.2 374.1,382.2 374.7,382.2 375.3,382.2 375.9,382.2 376.5,382.1 377.1,382.1 377.7,382.1 378.3,382.1 378.9,382.1 379.5,382.0 380.1,382.0 380.7,382.0 381.3,382.0 381.9,382.0 382.5,381.9 383.1,381.9 383.7,381.9 384.3,381.9 384.9,381.8 385.5,381.8 386.1,381.8 386.7,381.7 387.3,381.7 387.9,381.7 388.5,381.7 389.1,381.6 389.7,381.6 390.3,381.6 390.9,381.5 391.5,381.5 392.1,381.5 392.7,381.4 393.3,381.4 393.9,381.4 394.5,381.3 395.1,381.3 395.7,381.3 396.3,381.2 396.9,381.2 397.5,381.2 398.1,381.1 398.7,381.1 399.3,381.0 399.9,381.0 400.5,381.0 401.1,380.9 401.7,380.9 402.3,380.8 402.9,380.8 403.5,380.8 404.1,380.7 404.7,380.7 405.3,380.6 405.9,380.6 406.5,380.5 407.1,380.5 407.7,380.4 408.3,380.4 408.9,380.3 409.5,380.3 410.1,380.3 410.7,380.2 411.3,380.2 411.9,380.1 412.5,380.1 413.1,380.0 413.7,380.0 414.3,379.9 414.9,379.8 415.5,379.8 416.1,379.7 416.7,379.7 417.3,379.6 417.9,379.6 418.5,379.5 419.1,379.5 419.7,379.4 420.3,379.3 420.9,379.3 421.5,379.2 422.1,379.1 422.7,379.1 423.3,379.0 423.9,378.9 424.5,378.9 425.1,378.8 425.7,378.7 426.3,378.6 426.9,378.5 427.5,378.4 428.1,378.3 428.7,378.2 429.3,378.1 429.9,378.0 430.5,377.9 431.1,377.8 431.7,377.6 432.3,377.5 432.9,377.3 433.5,377.1 434.1,376.9 434.7,376.6 435.3,376.4 435.9,376.0 436.5,375.7 437.1,375.2 437.7,374.8 438.3,374.2 438.9,373.6 439.5,372.9 440.1,372.1 440.7,371.1 441.3,369.9 441.9,368.6 442.5,367.0 443.1,365.2 443.7,363.1 444.3,360.8 444.9,358.1 445.5,355.1 446.1,351.8 446.7,348.1 447.3,344.1 447.9,339.7 448.5,335.0 449.1,330.1 449.7,324.8 450.3,319.4 450.9,313.7 451.5,308.0 452.1,302.1 452.7,296.4 453.3,290.7 453.9,285.3 454.5,280.2 455.1,275.6 455.7,271.5 456.3,268.1 456.9,265.4 457.5,263.4 458.1,262.4 458.7,262.1 459.3,262.7 459.9,264.0 460.5,265.9 461.1,268.4 461.7,271.4 462.3,274.7 462.9,278.2 463.5,281.9 464.1,285.6 464.7,289.3 465.3,292.9 465.9,296.4 466.5,299.7 467.1,302.8 467.7,305.6 468.3,308.2 468.9,310.6 469.5,312.7 470.1,314.5 470.7,316.1 471.3,317.5 471.9,318.7 472.5,319.8 473.1,320.7 473.7,321.5 474.3,322.3 474.9,323.0 475.5,323.7 476.1,324.3 476.7,325.0 477.3,325.8 477.9,326.6 478.5,327.4 479.1,328.4 479.7,329.4 480.3,330.5 480.9,331.7 481.5,333.0 482.1,334.4 482.7,335.8 483.3,337.4 483.9,339.0 484.5,340.6 485.1,342.4 485.7,344.1 486.3,345.9 486.9,347.7 487.5,349.5 488.1,351.4 488.7,353.2 489.3,355.0 489.9,356.8 490.5,358.5 491.1,360.2 491.7,361.8 492.3,363.4 492.9,365.0 493.5,366.5 494.1,367.9 494.7,369.2 495.3,370.5 495.9,371.7 496.5,372.8 497.1,373.9 497.7,374.9 498.3,375.8 498.9,376.6 499.5,377.4 500.1,378.1 500.7,378.8 501.3,379.4 501.9,380.0 502.5,380.5 503.1,380.9 503.7,381.4 504.3,381.7 504.9,382.1 505.5,382.4 506.1,382.6 506.7,382.9 507.3,383.1 507.9,383.3 508.5,383.4 509.1,383.6 509.7,383.7 510.3,383.8 510.9,383.9 511.5,384.0 512.1,384.1 512.7,384.2 513.3,384.2 513.9,384.3 514.5,384.3 515.1,384.4 515.7,384.4 516.3,384.4 516.9,384.5 517.5,384.5 518.1,384.5 518.7,384.5 519.3,384.6 519.9,384.6 520.5,384.6 521.1,384.6 521.7,384.6 522.3,384.6 522.9,384.7 523.5,384.7 524.1,384.7 524.7,384.7 525.3,384.7 525.9,384.7 526.5,384.7 527.1,384.7 527.7,384.7 528.3,384.7 528.9,384.8 529.5,384.8 530.1,384.8 530.7,384.8 531.3,384.8 531.9,384.8 532.5,384.8 533.1,384.8 533.7,384.8 534.3,384.8 534.9,384.8 535.5,384.8 536.1,384.8 536.7,384.8 537.3,384.8 537.9,384.9 538.5,384.9 539.1,384.9 539.7,384.9 540.3,384.9 540.9,384.9 541.5,384.9 542.1,384.9 542.7,384.9 543.3,384.9 543.9,384.9 544.5,384.9 545.1,384.9 545.7,384.9 546.3,384.9 546.9,384.9 547.5,384.9 548.1,384.9 548.7,384.9 549.3,384.9 549.9,384.9 550.5,384.9 551.1,384.9 551.7,384.9 552.3,385.0 552.9,385.0 553.5,385.0 554.1,385.0 554.7,385.0 555.3,385.0 555.9,385.0 556.5,385.0 557.1,385.0 557.7,385.0 558.3,385.0 558.9,385.0 559.5,385.0 560.1,385.0 560.7,385.0 561.3,385.0 561.9,385.0 562.5,385.0 563.1,385.0 563.7,385.0 564.3,385.0 564.9,385.0 565.5,385.0 566.1,385.0 566.7,385.0 567.3,385.0 567.9,385.0 568.5,385.0 569.1,385.0 569.7,385.0 570.3,385.0 570.9,385.0 571.5,385.0 572.1,385.0 572.7,385.0 573.3,385.0 573.9,385.0 574.2,385.0" fill="none" stroke="#111" stroke-width="1.5" stroke-linejoin="round" stroke-dasharray="3.5,2.9"/>
<path d="M358.5,386.2 L358.5,234.0 L574.2,234.0 L574.2,386.2" fill="none" stroke="#303030" stroke-width="1.3"/>
<rect x="480.3" y="240.80" width="87.7" height="54.30" fill="#fff" stroke="#555" stroke-width="0.9"/>
<line x1="485.80" y1="246.30" x2="502.50" y2="246.30" stroke="#4472C4" stroke-width="1.6" />
<line x1="485.80" y1="257.20" x2="502.50" y2="257.20" stroke="#FFC000" stroke-width="1.6" />
<line x1="485.80" y1="268.10" x2="502.50" y2="268.10" stroke="#ED7D31" stroke-width="1.6" />
<line x1="485.80" y1="279.00" x2="502.50" y2="279.00" stroke="#A5A5A5" stroke-width="1.6" />
<line x1="485.80" y1="289.90" x2="502.50" y2="289.90" stroke="#111" stroke-width="1.4" stroke-dasharray="4,2.55"/>
<text x="506.3" y="248.60" font-size="7.6" fill="#1a1a1a" textLength="54.5" lengthAdjust="spacingAndGlyphs">Exp. (FAB: 90 s)</text>
<text x="506.3" y="259.50" font-size="7.6" fill="#1a1a1a" textLength="56.5" lengthAdjust="spacingAndGlyphs">Exp. Background</text>
<text x="506.3" y="270.40" font-size="7.6" fill="#1a1a1a">sp<tspan font-size="4.6" dy="-2.4">3</tspan></text>
<text x="506.3" y="281.30" font-size="7.6" fill="#1a1a1a">sp<tspan font-size="4.6" dy="-2.4">2</tspan></text>
<text x="506.3" y="292.20" font-size="7.6" fill="#1a1a1a" textLength="40.4" lengthAdjust="spacingAndGlyphs">Fitted Curve</text>
<text x="358.50" y="406.30" font-size="11.8" text-anchor="middle" fill="#1a1a1a" textLength="19.70" lengthAdjust="spacingAndGlyphs" >292</text>
<text x="394.45" y="406.30" font-size="11.8" text-anchor="middle" fill="#1a1a1a" textLength="19.70" lengthAdjust="spacingAndGlyphs" >290</text>
<text x="430.40" y="406.30" font-size="11.8" text-anchor="middle" fill="#1a1a1a" textLength="19.70" lengthAdjust="spacingAndGlyphs" >288</text>
<text x="466.35" y="406.30" font-size="11.8" text-anchor="middle" fill="#1a1a1a" textLength="19.70" lengthAdjust="spacingAndGlyphs" >286</text>
<text x="502.30" y="406.30" font-size="11.8" text-anchor="middle" fill="#1a1a1a" textLength="19.70" lengthAdjust="spacingAndGlyphs" >284</text>
<text x="538.25" y="406.30" font-size="11.8" text-anchor="middle" fill="#1a1a1a" textLength="19.70" lengthAdjust="spacingAndGlyphs" >282</text>
<text x="574.20" y="406.30" font-size="11.8" text-anchor="middle" fill="#1a1a1a" textLength="19.70" lengthAdjust="spacingAndGlyphs" >280</text>
<text x="404.50" y="428.50" font-size="14.0" text-anchor="start" fill="#1a1a1a" textLength="130.00" lengthAdjust="spacingAndGlyphs" >Binding Energy ( eV )</text>
<text transform="translate(331.8,379.0) rotate(-90)" font-size="13.9" fill="#1a1a1a" textLength="130.4" lengthAdjust="spacingAndGlyphs">Intensity ( arb. unit )</text>
<line x1="376.48" y1="449.60" x2="376.48" y2="601.70" stroke="#ededed" stroke-width="0.7" />
<line x1="394.45" y1="449.60" x2="394.45" y2="601.70" stroke="#ededed" stroke-width="0.7" />
<line x1="412.43" y1="449.60" x2="412.43" y2="601.70" stroke="#ededed" stroke-width="0.7" />
<line x1="430.40" y1="449.60" x2="430.40" y2="601.70" stroke="#ededed" stroke-width="0.7" />
<line x1="448.38" y1="449.60" x2="448.38" y2="601.70" stroke="#ededed" stroke-width="0.7" />
<line x1="466.35" y1="449.60" x2="466.35" y2="601.70" stroke="#ededed" stroke-width="0.7" />
<line x1="484.33" y1="449.60" x2="484.33" y2="601.70" stroke="#ededed" stroke-width="0.7" />
<line x1="502.30" y1="449.60" x2="502.30" y2="601.70" stroke="#ededed" stroke-width="0.7" />
<line x1="520.28" y1="449.60" x2="520.28" y2="601.70" stroke="#ededed" stroke-width="0.7" />
<line x1="538.25" y1="449.60" x2="538.25" y2="601.70" stroke="#ededed" stroke-width="0.7" />
<line x1="556.23" y1="449.60" x2="556.23" y2="601.70" stroke="#ededed" stroke-width="0.7" />
<line x1="358.50" y1="468.61" x2="574.20" y2="468.61" stroke="#ededed" stroke-width="0.7" />
<line x1="358.50" y1="487.62" x2="574.20" y2="487.62" stroke="#ededed" stroke-width="0.7" />
<line x1="358.50" y1="506.64" x2="574.20" y2="506.64" stroke="#ededed" stroke-width="0.7" />
<line x1="358.50" y1="525.65" x2="574.20" y2="525.65" stroke="#ededed" stroke-width="0.7" />
<line x1="358.50" y1="544.66" x2="574.20" y2="544.66" stroke="#ededed" stroke-width="0.7" />
<line x1="358.50" y1="563.68" x2="574.20" y2="563.68" stroke="#ededed" stroke-width="0.7" />
<line x1="358.50" y1="582.69" x2="574.20" y2="582.69" stroke="#ededed" stroke-width="0.7" />
<line x1="358.50" y1="601.90" x2="574.20" y2="601.90" stroke="#8a8a8a" stroke-width="1" />
<line x1="376.48" y1="599.30" x2="376.48" y2="602.20" stroke="#555" stroke-width="0.9" />
<line x1="394.45" y1="599.30" x2="394.45" y2="602.20" stroke="#555" stroke-width="0.9" />
<line x1="412.43" y1="599.30" x2="412.43" y2="602.20" stroke="#555" stroke-width="0.9" />
<line x1="430.40" y1="599.30" x2="430.40" y2="602.20" stroke="#555" stroke-width="0.9" />
<line x1="448.38" y1="599.30" x2="448.38" y2="602.20" stroke="#555" stroke-width="0.9" />
<line x1="466.35" y1="599.30" x2="466.35" y2="602.20" stroke="#555" stroke-width="0.9" />
<line x1="484.33" y1="599.30" x2="484.33" y2="602.20" stroke="#555" stroke-width="0.9" />
<line x1="502.30" y1="599.30" x2="502.30" y2="602.20" stroke="#555" stroke-width="0.9" />
<line x1="520.28" y1="599.30" x2="520.28" y2="602.20" stroke="#555" stroke-width="0.9" />
<line x1="538.25" y1="599.30" x2="538.25" y2="602.20" stroke="#555" stroke-width="0.9" />
<line x1="556.23" y1="599.30" x2="556.23" y2="602.20" stroke="#555" stroke-width="0.9" />
<path d="M358.5,601.1 359.1,601.1 359.7,601.1 360.3,601.1 360.9,601.1 361.5,601.1 362.1,601.1 362.7,601.1 363.3,601.1 363.9,601.1 364.5,601.1 365.1,601.1 365.7,601.1 366.3,601.1 366.9,601.1 367.5,601.1 368.1,601.1 368.7,601.1 369.3,601.1 369.9,601.1 370.5,601.1 371.1,601.1 371.7,601.1 372.3,601.1 372.9,601.1 373.5,601.1 374.1,601.1 374.7,601.1 375.3,601.1 375.9,601.1 376.5,601.1 377.1,601.1 377.7,601.1 378.3,601.1 378.9,601.1 379.5,601.1 380.1,601.1 380.7,601.1 381.3,601.1 381.9,601.1 382.5,601.1 383.1,601.1 383.7,601.1 384.3,601.1 384.9,601.1 385.5,601.1 386.1,601.1 386.7,601.1 387.3,601.1 387.9,601.1 388.5,601.1 389.1,601.1 389.7,601.1 390.3,601.1 390.9,601.1 391.5,601.1 392.1,601.1 392.7,601.1 393.3,601.1 393.9,601.1 394.5,601.1 395.1,601.1 395.7,601.1 396.3,601.1 396.9,601.1 397.5,601.1 398.1,601.1 398.7,601.1 399.3,601.1 399.9,601.1 400.5,601.1 401.1,601.1 401.7,601.1 402.3,601.1 402.9,601.1 403.5,601.1 404.1,601.1 404.7,601.1 405.3,601.1 405.9,601.1 406.5,601.1 407.1,601.1 407.7,601.1 408.3,601.1 408.9,601.1 409.5,601.1 410.1,601.1 410.7,601.1 411.3,601.1 411.9,601.1 412.5,601.1 413.1,601.1 413.7,601.1 414.3,601.1 414.9,601.1 415.5,601.1 416.1,601.1 416.7,601.1 417.3,601.1 417.9,601.1 418.5,601.1 419.1,601.1 419.7,601.1 420.3,601.1 420.9,601.1 421.5,601.1 422.1,601.1 422.7,601.1 423.3,601.1 423.9,601.1 424.5,601.1 425.1,601.1 425.7,601.1 426.3,601.1 426.9,601.1 427.5,601.1 428.1,601.1 428.7,601.1 429.3,601.1 429.9,601.1 430.5,601.1 431.1,601.1 431.7,601.1 432.3,601.1 432.9,601.1 433.5,601.1 434.1,601.1 434.7,601.1 435.3,601.1 435.9,601.1 436.5,601.1 437.1,601.1 437.7,601.1 438.3,601.1 438.9,601.1 439.5,601.1 440.1,601.1 440.7,601.1 441.3,601.1 441.9,601.1 442.5,601.1 443.1,601.1 443.7,601.1 444.3,601.1 444.9,601.1 445.5,601.1 446.1,601.1 446.7,601.1 447.3,601.1 447.9,601.1 448.5,601.1 449.1,601.1 449.7,601.1 450.3,601.1 450.9,601.1 451.5,601.1 452.1,601.1 452.7,601.1 453.3,601.1 453.9,601.1 454.5,601.1 455.1,601.1 455.7,601.1 456.3,601.1 456.9,601.1 457.5,601.1 458.1,601.1 458.7,601.1 459.3,601.1 459.9,601.1 460.5,601.1 461.1,601.1 461.7,601.1 462.3,601.1 462.9,601.1 463.5,601.1 464.1,601.1 464.7,601.1 465.3,601.1 465.9,601.1 466.5,601.1 467.1,601.1 467.7,601.1 468.3,601.1 468.9,601.1 469.5,601.1 470.1,601.1 470.7,601.1 471.3,601.1 471.9,601.1 472.5,601.1 473.1,601.1 473.7,601.1 474.3,601.1 474.9,601.1 475.5,601.1 476.1,601.1 476.7,601.1 477.3,601.1 477.9,601.1 478.5,601.1 479.1,601.1 479.7,601.1 480.3,601.1 480.9,601.1 481.5,601.1 482.1,601.1 482.7,601.1 483.3,601.1 483.9,601.1 484.5,601.1 485.1,601.1 485.7,601.1 486.3,601.1 486.9,601.1 487.5,601.1 488.1,601.1 488.7,601.1 489.3,601.1 489.9,601.1 490.5,601.1 491.1,601.1 491.7,601.1 492.3,601.1 492.9,601.1 493.5,601.1 494.1,601.1 494.7,601.1 495.3,601.1 495.9,601.1 496.5,601.1 497.1,601.1 497.7,601.1 498.3,601.1 498.9,601.1 499.5,601.1 500.1,601.1 500.7,601.1 501.3,601.1 501.9,601.1 502.5,601.1 503.1,601.1 503.7,601.1 504.3,601.1 504.9,601.1 505.5,601.1 506.1,601.1 506.7,601.1 507.3,601.1 507.9,601.1 508.5,601.1 509.1,601.1 509.7,601.1 510.3,601.1 510.9,601.1 511.5,601.1 512.1,601.1 512.7,601.1 513.3,601.1 513.9,601.1 514.5,601.1 515.1,601.1 515.7,601.1 516.3,601.1 516.9,601.1 517.5,601.1 518.1,601.1 518.7,601.1 519.3,601.1 519.9,601.1 520.5,601.1 521.1,601.1 521.7,601.1 522.3,601.1 522.9,601.1 523.5,601.1 524.1,601.1 524.7,601.1 525.3,601.1 525.9,601.1 526.5,601.1 527.1,601.1 527.7,601.1 528.3,601.1 528.9,601.1 529.5,601.1 530.1,601.1 530.7,601.1 531.3,601.1 531.9,601.1 532.5,601.1 533.1,601.1 533.7,601.1 534.3,601.1 534.9,601.1 535.5,601.1 536.1,601.1 536.7,601.1 537.3,601.1 537.9,601.1 538.5,601.1 539.1,601.1 539.7,601.1 540.3,601.1 540.9,601.1 541.5,601.1 542.1,601.1 542.7,601.1 543.3,601.1 543.9,601.1 544.5,601.1 545.1,601.1 545.7,601.1 546.3,601.1 546.9,601.1 547.5,601.1 548.1,601.1 548.7,601.1 549.3,601.1 549.9,601.1 550.5,601.1 551.1,601.1 551.7,601.1 552.3,601.1 552.9,601.1 553.5,601.1 554.1,601.1 554.7,601.1 555.3,601.1 555.9,601.1 556.5,601.1 557.1,601.1 557.7,601.1 558.3,601.1 558.9,601.1 559.5,601.1 560.1,601.1 560.7,601.1 561.3,601.1 561.9,601.1 562.5,601.1 563.1,601.1 563.7,601.1 564.3,601.1 564.9,601.1 565.5,601.1 566.1,601.1 566.7,601.1 567.3,601.1 567.9,601.1 568.5,601.1 569.1,601.1 569.7,601.1 570.3,601.1 570.9,601.1 571.5,601.1 572.1,601.1 572.7,601.1 573.3,601.1 573.9,601.1 574.2,601.1" fill="none" stroke="#FFC000" stroke-width="1.7" stroke-linejoin="round" />
<path d="M358.5,601.3 359.1,601.3 359.7,601.3 360.3,601.3 360.9,601.3 361.5,601.3 362.1,601.3 362.7,601.3 363.3,601.3 363.9,601.3 364.5,601.3 365.1,601.3 365.7,601.3 366.3,601.3 366.9,601.3 367.5,601.3 368.1,601.3 368.7,601.3 369.3,601.3 369.9,601.3 370.5,601.3 371.1,601.3 371.7,601.3 372.3,601.3 372.9,601.3 373.5,601.3 374.1,601.3 374.7,601.3 375.3,601.3 375.9,601.3 376.5,601.3 377.1,601.3 377.7,601.3 378.3,601.3 378.9,601.3 379.5,601.3 380.1,601.3 380.7,601.3 381.3,601.3 381.9,601.3 382.5,601.3 383.1,601.3 383.7,601.3 384.3,601.3 384.9,601.3 385.5,601.3 386.1,601.3 386.7,601.3 387.3,601.3 387.9,601.3 388.5,601.3 389.1,601.3 389.7,601.3 390.3,601.3 390.9,601.3 391.5,601.3 392.1,601.3 392.7,601.3 393.3,601.3 393.9,601.3 394.5,601.3 395.1,601.3 395.7,601.3 396.3,601.3 396.9,601.3 397.5,601.3 398.1,601.3 398.7,601.3 399.3,601.3 399.9,601.3 400.5,601.3 401.1,601.3 401.7,601.3 402.3,601.3 402.9,601.3 403.5,601.3 404.1,601.2 404.7,601.2 405.3,601.2 405.9,601.2 406.5,601.2 407.1,601.2 407.7,601.2 408.3,601.2 408.9,601.2 409.5,601.1 410.1,601.1 410.7,601.1 411.3,601.1 411.9,601.0 412.5,601.0 413.1,601.0 413.7,600.9 414.3,600.9 414.9,600.8 415.5,600.8 416.1,600.7 416.7,600.7 417.3,600.6 417.9,600.5 418.5,600.5 419.1,600.4 419.7,600.3 420.3,600.2 420.9,600.1 421.5,600.0 422.1,599.8 422.7,599.7 423.3,599.6 423.9,599.4 424.5,599.2 425.1,599.1 425.7,598.9 426.3,598.7 426.9,598.4 427.5,598.2 428.1,598.0 428.7,597.7 429.3,597.5 429.9,597.2 430.5,596.9 431.1,596.6 431.7,596.2 432.3,595.9 432.9,595.5 433.5,595.2 434.1,594.8 434.7,594.4 435.3,593.9 435.9,593.5 436.5,593.1 437.1,592.6 437.7,592.1 438.3,591.7 438.9,591.2 439.5,590.7 440.1,590.1 440.7,589.6 441.3,589.1 441.9,588.6 442.5,588.0 443.1,587.5 443.7,586.9 444.3,586.4 444.9,585.8 445.5,585.3 446.1,584.8 446.7,584.2 447.3,583.7 447.9,583.2 448.5,582.7 449.1,582.2 449.7,581.8 450.3,581.3 450.9,580.9 451.5,580.5 452.1,580.1 452.7,579.7 453.3,579.3 453.9,579.0 454.5,578.7 455.1,578.5 455.7,578.2 456.3,578.0 456.9,577.9 457.5,577.7 458.1,577.6 458.7,577.5 459.3,577.5 459.9,577.5 460.5,577.5 461.1,577.6 461.7,577.7 462.3,577.8 462.9,578.0 463.5,578.2 464.1,578.4 464.7,578.6 465.3,578.9 465.9,579.2 466.5,579.6 467.1,579.9 467.7,580.3 468.3,580.7 468.9,581.2 469.5,581.6 470.1,582.1 470.7,582.6 471.3,583.0 471.9,583.6 472.5,584.1 473.1,584.6 473.7,585.1 474.3,585.7 474.9,586.2 475.5,586.8 476.1,587.3 476.7,587.8 477.3,588.4 477.9,588.9 478.5,589.4 479.1,590.0 479.7,590.5 480.3,591.0 480.9,591.5 481.5,592.0 482.1,592.5 482.7,592.9 483.3,593.4 483.9,593.8 484.5,594.2 485.1,594.6 485.7,595.0 486.3,595.4 486.9,595.8 487.5,596.1 488.1,596.4 488.7,596.8 489.3,597.1 489.9,597.4 490.5,597.6 491.1,597.9 491.7,598.1 492.3,598.4 492.9,598.6 493.5,598.8 494.1,599.0 494.7,599.2 495.3,599.3 495.9,599.5 496.5,599.7 497.1,599.8 497.7,599.9 498.3,600.0 498.9,600.1 499.5,600.3 500.1,600.3 500.7,600.4 501.3,600.5 501.9,600.6 502.5,600.7 503.1,600.7 503.7,600.8 504.3,600.8 504.9,600.9 505.5,600.9 506.1,601.0 506.7,601.0 507.3,601.0 507.9,601.1 508.5,601.1 509.1,601.1 509.7,601.1 510.3,601.1 510.9,601.2 511.5,601.2 512.1,601.2 512.7,601.2 513.3,601.2 513.9,601.2 514.5,601.2 515.1,601.2 515.7,601.3 516.3,601.3 516.9,601.3 517.5,601.3 518.1,601.3 518.7,601.3 519.3,601.3 519.9,601.3 520.5,601.3 521.1,601.3 521.7,601.3 522.3,601.3 522.9,601.3 523.5,601.3 524.1,601.3 524.7,601.3 525.3,601.3 525.9,601.3 526.5,601.3 527.1,601.3 527.7,601.3 528.3,601.3 528.9,601.3 529.5,601.3 530.1,601.3 530.7,601.3 531.3,601.3 531.9,601.3 532.5,601.3 533.1,601.3 533.7,601.3 534.3,601.3 534.9,601.3 535.5,601.3 536.1,601.3 536.7,601.3 537.3,601.3 537.9,601.3 538.5,601.3 539.1,601.3 539.7,601.3 540.3,601.3 540.9,601.3 541.5,601.3 542.1,601.3 542.7,601.3 543.3,601.3 543.9,601.3 544.5,601.3 545.1,601.3 545.7,601.3 546.3,601.3 546.9,601.3 547.5,601.3 548.1,601.3 548.7,601.3 549.3,601.3 549.9,601.3 550.5,601.3 551.1,601.3 551.7,601.3 552.3,601.3 552.9,601.3 553.5,601.3 554.1,601.3 554.7,601.3 555.3,601.3 555.9,601.3 556.5,601.3 557.1,601.3 557.7,601.3 558.3,601.3 558.9,601.3 559.5,601.3 560.1,601.3 560.7,601.3 561.3,601.3 561.9,601.3 562.5,601.3 563.1,601.3 563.7,601.3 564.3,601.3 564.9,601.3 565.5,601.3 566.1,601.3 566.7,601.3 567.3,601.3 567.9,601.3 568.5,601.3 569.1,601.3 569.7,601.3 570.3,601.3 570.9,601.3 571.5,601.3 572.1,601.3 572.7,601.3 573.3,601.3 573.9,601.3 574.2,601.3" fill="none" stroke="#A5A5A5" stroke-width="1.8" stroke-linejoin="round" />
<path d="M358.5,601.1 359.1,601.1 359.7,601.1 360.3,601.1 360.9,601.1 361.5,601.1 362.1,601.1 362.7,601.1 363.3,601.1 363.9,601.1 364.5,601.1 365.1,601.1 365.7,601.1 366.3,601.0 366.9,601.0 367.5,601.0 368.1,601.0 368.7,601.0 369.3,601.0 369.9,601.0 370.5,601.0 371.1,601.0 371.7,601.0 372.3,601.0 372.9,601.0 373.5,601.0 374.1,601.0 374.7,601.0 375.3,601.0 375.9,601.0 376.5,601.0 377.1,601.0 377.7,601.0 378.3,600.9 378.9,600.9 379.5,600.9 380.1,600.9 380.7,600.9 381.3,600.9 381.9,600.9 382.5,600.9 383.1,600.9 383.7,600.9 384.3,600.9 384.9,600.9 385.5,600.8 386.1,600.8 386.7,600.8 387.3,600.8 387.9,600.8 388.5,600.8 389.1,600.8 389.7,600.8 390.3,600.8 390.9,600.7 391.5,600.7 392.1,600.7 392.7,600.7 393.3,600.7 393.9,600.7 394.5,600.7 395.1,600.6 395.7,600.6 396.3,600.6 396.9,600.6 397.5,600.6 398.1,600.5 398.7,600.5 399.3,600.5 399.9,600.5 400.5,600.5 401.1,600.4 401.7,600.4 402.3,600.4 402.9,600.3 403.5,600.3 404.1,600.3 404.7,600.3 405.3,600.2 405.9,600.2 406.5,600.1 407.1,600.1 407.7,600.1 408.3,600.0 408.9,600.0 409.5,599.9 410.1,599.9 410.7,599.8 411.3,599.7 411.9,599.7 412.5,599.6 413.1,599.5 413.7,599.4 414.3,599.4 414.9,599.2 415.5,599.1 416.1,599.0 416.7,598.8 417.3,598.7 417.9,598.5 418.5,598.2 419.1,597.9 419.7,597.6 420.3,597.2 420.9,596.7 421.5,596.1 422.1,595.4 422.7,594.5 423.3,593.5 423.9,592.4 424.5,591.0 425.1,589.4 425.7,587.5 426.3,585.3 426.9,582.8 427.5,580.0 428.1,576.9 428.7,573.3 429.3,569.4 429.9,565.2 430.5,560.5 431.1,555.6 431.7,550.3 432.3,544.8 432.9,539.1 433.5,533.3 434.1,527.4 434.7,521.6 435.3,515.9 435.9,510.4 436.5,505.3 437.1,500.8 437.7,496.8 438.3,493.6 438.9,491.3 439.5,489.8 440.1,489.3 440.7,489.8 441.3,491.3 441.9,493.6 442.5,496.8 443.1,500.8 443.7,505.3 444.3,510.4 444.9,515.9 445.5,521.6 446.1,527.4 446.7,533.3 447.3,539.1 447.9,544.8 448.5,550.3 449.1,555.6 449.7,560.5 450.3,565.2 450.9,569.4 451.5,573.3 452.1,576.9 452.7,580.0 453.3,582.8 453.9,585.3 454.5,587.5 455.1,589.4 455.7,591.0 456.3,592.4 456.9,593.5 457.5,594.5 458.1,595.4 458.7,596.1 459.3,596.7 459.9,597.2 460.5,597.6 461.1,597.9 461.7,598.2 462.3,598.5 462.9,598.7 463.5,598.8 464.1,599.0 464.7,599.1 465.3,599.2 465.9,599.4 466.5,599.4 467.1,599.5 467.7,599.6 468.3,599.7 468.9,599.7 469.5,599.8 470.1,599.9 470.7,599.9 471.3,600.0 471.9,600.0 472.5,600.1 473.1,600.1 473.7,600.1 474.3,600.2 474.9,600.2 475.5,600.3 476.1,600.3 476.7,600.3 477.3,600.3 477.9,600.4 478.5,600.4 479.1,600.4 479.7,600.5 480.3,600.5 480.9,600.5 481.5,600.5 482.1,600.5 482.7,600.6 483.3,600.6 483.9,600.6 484.5,600.6 485.1,600.6 485.7,600.7 486.3,600.7 486.9,600.7 487.5,600.7 488.1,600.7 488.7,600.7 489.3,600.7 489.9,600.8 490.5,600.8 491.1,600.8 491.7,600.8 492.3,600.8 492.9,600.8 493.5,600.8 494.1,600.8 494.7,600.8 495.3,600.9 495.9,600.9 496.5,600.9 497.1,600.9 497.7,600.9 498.3,600.9 498.9,600.9 499.5,600.9 500.1,600.9 500.7,600.9 501.3,600.9 501.9,600.9 502.5,601.0 503.1,601.0 503.7,601.0 504.3,601.0 504.9,601.0 505.5,601.0 506.1,601.0 506.7,601.0 507.3,601.0 507.9,601.0 508.5,601.0 509.1,601.0 509.7,601.0 510.3,601.0 510.9,601.0 511.5,601.0 512.1,601.0 512.7,601.0 513.3,601.0 513.9,601.0 514.5,601.1 515.1,601.1 515.7,601.1 516.3,601.1 516.9,601.1 517.5,601.1 518.1,601.1 518.7,601.1 519.3,601.1 519.9,601.1 520.5,601.1 521.1,601.1 521.7,601.1 522.3,601.1 522.9,601.1 523.5,601.1 524.1,601.1 524.7,601.1 525.3,601.1 525.9,601.1 526.5,601.1 527.1,601.1 527.7,601.1 528.3,601.1 528.9,601.1 529.5,601.1 530.1,601.1 530.7,601.1 531.3,601.1 531.9,601.1 532.5,601.1 533.1,601.1 533.7,601.1 534.3,601.1 534.9,601.1 535.5,601.1 536.1,601.2 536.7,601.2 537.3,601.2 537.9,601.2 538.5,601.2 539.1,601.2 539.7,601.2 540.3,601.2 540.9,601.2 541.5,601.2 542.1,601.2 542.7,601.2 543.3,601.2 543.9,601.2 544.5,601.2 545.1,601.2 545.7,601.2 546.3,601.2 546.9,601.2 547.5,601.2 548.1,601.2 548.7,601.2 549.3,601.2 549.9,601.2 550.5,601.2 551.1,601.2 551.7,601.2 552.3,601.2 552.9,601.2 553.5,601.2 554.1,601.2 554.7,601.2 555.3,601.2 555.9,601.2 556.5,601.2 557.1,601.2 557.7,601.2 558.3,601.2 558.9,601.2 559.5,601.2 560.1,601.2 560.7,601.2 561.3,601.2 561.9,601.2 562.5,601.2 563.1,601.2 563.7,601.2 564.3,601.2 564.9,601.2 565.5,601.2 566.1,601.2 566.7,601.2 567.3,601.2 567.9,601.2 568.5,601.2 569.1,601.2 569.7,601.2 570.3,601.2 570.9,601.2 571.5,601.2 572.1,601.2 572.7,601.2 573.3,601.2 573.9,601.2 574.2,601.2" fill="none" stroke="#ED7D31" stroke-width="1.8" stroke-linejoin="round" />
<path d="M358.5,600.8 359.1,600.5 359.7,600.7 360.3,600.7 360.9,600.7 361.5,600.6 362.1,600.8 362.7,600.8 363.3,600.4 363.9,600.7 364.5,600.5 365.1,600.6 365.7,600.8 366.3,600.8 366.9,600.6 367.5,600.4 368.1,600.7 368.7,600.3 369.3,600.4 369.9,600.6 370.5,600.3 371.1,600.3 371.7,600.6 372.3,600.6 372.9,600.3 373.5,600.3 374.1,600.2 374.7,600.1 375.3,600.1 375.9,600.5 376.5,600.0 377.1,600.1 377.7,600.0 378.3,599.9 378.9,600.1 379.5,600.2 380.1,600.2 380.7,600.1 381.3,600.2 381.9,599.7 382.5,599.9 383.1,600.2 383.7,599.7 384.3,599.8 384.9,599.8 385.5,599.7 386.1,599.8 386.7,599.5 387.3,599.6 387.9,599.9 388.5,599.5 389.1,599.8 389.7,599.4 390.3,599.8 390.9,599.6 391.5,599.6 392.1,599.3 392.7,599.2 393.3,599.5 393.9,599.2 394.5,599.2 395.1,599.4 395.7,599.4 396.3,599.0 396.9,599.4 397.5,599.1 398.1,599.0 398.7,598.8 399.3,598.9 399.9,599.2 400.5,598.8 401.1,598.7 401.7,598.6 402.3,598.6 402.9,598.6 403.5,598.9 404.1,598.4 404.7,598.4 405.3,598.7 405.9,598.7 406.5,598.6 407.1,598.2 407.7,598.2 408.3,598.4 408.9,598.1 409.5,598.1 410.1,597.8 410.7,597.6 411.3,597.7 411.9,597.8 412.5,597.7 413.1,597.5 413.7,597.3 414.3,597.2 414.9,597.0 415.5,596.8 416.1,596.8 416.7,596.3 417.3,596.2 417.9,596.1 418.5,595.8 419.1,595.1 419.7,595.1 420.3,594.5 420.9,593.7 421.5,593.1 422.1,592.3 422.7,591.4 423.3,590.8 423.9,589.3 424.5,588.1 425.1,586.0 425.7,584.0 426.3,582.1 426.9,579.5 427.5,576.6 428.1,573.1 428.7,569.3 429.3,565.3 429.9,560.5 430.5,555.8 431.1,550.5 431.7,544.8 432.3,539.2 432.9,533.0 433.5,526.9 434.1,520.6 434.7,514.3 435.3,508.2 435.9,502.5 436.5,497.1 437.1,492.1 437.7,487.6 438.3,483.9 438.9,480.8 439.5,479.2 440.1,477.8 440.7,477.7 441.3,478.8 441.9,480.8 442.5,483.3 443.1,486.8 443.7,490.6 444.3,495.5 444.9,500.1 445.5,505.3 446.1,510.6 446.7,516.1 447.3,521.4 447.9,526.4 448.5,531.3 449.1,536.1 449.7,540.3 450.3,544.6 450.9,548.6 451.5,552.0 452.1,554.7 452.7,557.8 453.3,560.0 453.9,562.4 454.5,563.9 455.1,565.4 455.7,567.0 456.3,568.3 456.9,569.0 457.5,570.1 458.1,570.7 458.7,571.2 459.3,571.7 459.9,572.3 460.5,572.7 461.1,573.2 461.7,573.7 462.3,574.2 462.9,574.5 463.5,574.7 464.1,575.1 464.7,575.6 465.3,576.2 465.9,576.4 466.5,576.8 467.1,577.4 467.7,577.9 468.3,578.3 468.9,579.0 469.5,579.7 470.1,580.0 470.7,580.7 471.3,581.3 471.9,581.8 472.5,582.4 473.1,582.7 473.7,583.4 474.3,583.6 474.9,584.6 475.5,584.9 476.1,585.5 476.7,586.2 477.3,586.4 477.9,586.9 478.5,587.8 479.1,588.2 479.7,588.4 480.3,588.9 480.9,589.5 481.5,589.8 482.1,590.7 482.7,590.8 483.3,591.3 483.9,591.7 484.5,592.2 485.1,592.5 485.7,593.0 486.3,593.3 486.9,593.6 487.5,593.7 488.1,594.4 488.7,594.6 489.3,594.6 489.9,595.0 490.5,595.4 491.1,595.7 491.7,595.5 492.3,595.7 492.9,596.1 493.5,596.2 494.1,596.6 494.7,596.7 495.3,596.6 495.9,596.8 496.5,597.0 497.1,597.3 497.7,597.0 498.3,597.2 498.9,597.2 499.5,597.5 500.1,597.3 500.7,597.8 501.3,597.7 501.9,597.8 502.5,597.6 503.1,597.8 503.7,597.9 504.3,598.2 504.9,598.1 505.5,598.0 506.1,598.4 506.7,598.3 507.3,598.2 507.9,598.1 508.5,598.2 509.1,598.5 509.7,598.2 510.3,598.4 510.9,598.5 511.5,598.4 512.1,598.6 512.7,598.7 513.3,598.7 513.9,598.7 514.5,598.5 515.1,598.4 515.7,598.6 516.3,598.6 516.9,598.6 517.5,598.9 518.1,598.6 518.7,598.9 519.3,599.0 519.9,598.6 520.5,599.1 521.1,598.8 521.7,598.8 522.3,598.8 522.9,598.7 523.5,599.0 524.1,599.0 524.7,599.2 525.3,599.3 525.9,598.9 526.5,599.1 527.1,599.1 527.7,599.0 528.3,599.1 528.9,599.1 529.5,599.4 530.1,599.2 530.7,599.2 531.3,599.2 531.9,599.4 532.5,599.5 533.1,599.3 533.7,599.6 534.3,599.4 534.9,599.6 535.5,599.6 536.1,599.5 536.7,599.8 537.3,599.6 537.9,599.7 538.5,599.8 539.1,599.8 539.7,599.8 540.3,599.6 540.9,600.0 541.5,600.1 542.1,599.9 542.7,600.0 543.3,599.9 543.9,600.2 544.5,600.1 545.1,599.9 545.7,600.2 546.3,600.3 546.9,600.1 547.5,600.4 548.1,600.2 548.7,600.0 549.3,600.3 549.9,600.2 550.5,600.4 551.1,600.3 551.7,600.1 552.3,600.4 552.9,600.5 553.5,600.4 554.1,600.4 554.7,600.6 555.3,600.4 555.9,600.5 556.5,600.5 557.1,600.7 557.7,600.4 558.3,600.3 558.9,600.7 559.5,600.6 560.1,600.5 560.7,600.8 561.3,600.8 561.9,600.7 562.5,600.9 563.1,600.8 563.7,600.8 564.3,600.6 564.9,600.5 565.5,600.8 566.1,600.9 566.7,600.7 567.3,600.7 567.9,600.8 568.5,600.7 569.1,600.9 569.7,600.8 570.3,600.8 570.9,600.6 571.5,600.9 572.1,600.8 572.7,601.0 573.3,600.7 573.9,600.8 574.2,600.7" fill="none" stroke="#4472C4" stroke-width="2.1" stroke-linejoin="round" />
<path d="M358.5,600.7 359.1,600.7 359.7,600.7 360.3,600.7 360.9,600.7 361.5,600.7 362.1,600.6 362.7,600.6 363.3,600.6 363.9,600.6 364.5,600.6 365.1,600.6 365.7,600.6 366.3,600.5 366.9,600.5 367.5,600.5 368.1,600.5 368.7,600.5 369.3,600.5 369.9,600.4 370.5,600.4 371.1,600.4 371.7,600.4 372.3,600.4 372.9,600.3 373.5,600.3 374.1,600.3 374.7,600.3 375.3,600.3 375.9,600.2 376.5,600.2 377.1,600.2 377.7,600.2 378.3,600.1 378.9,600.1 379.5,600.1 380.1,600.1 380.7,600.0 381.3,600.0 381.9,600.0 382.5,600.0 383.1,599.9 383.7,599.9 384.3,599.9 384.9,599.8 385.5,599.8 386.1,599.8 386.7,599.8 387.3,599.7 387.9,599.7 388.5,599.7 389.1,599.6 389.7,599.6 390.3,599.6 390.9,599.5 391.5,599.5 392.1,599.5 392.7,599.4 393.3,599.4 393.9,599.4 394.5,599.3 395.1,599.3 395.7,599.2 396.3,599.2 396.9,599.2 397.5,599.1 398.1,599.1 398.7,599.0 399.3,599.0 399.9,599.0 400.5,598.9 401.1,598.9 401.7,598.8 402.3,598.8 402.9,598.7 403.5,598.7 404.1,598.6 404.7,598.6 405.3,598.5 405.9,598.4 406.5,598.4 407.1,598.3 407.7,598.2 408.3,598.2 408.9,598.1 409.5,598.0 410.1,597.9 410.7,597.8 411.3,597.8 411.9,597.7 412.5,597.5 413.1,597.4 413.7,597.3 414.3,597.2 414.9,597.0 415.5,596.8 416.1,596.6 416.7,596.4 417.3,596.2 417.9,595.9 418.5,595.6 419.1,595.2 419.7,594.8 420.3,594.4 420.9,593.8 421.5,593.2 422.1,592.5 422.7,591.6 423.3,590.6 423.9,589.3 424.5,587.9 425.1,586.2 425.7,584.2 426.3,581.9 426.9,579.3 427.5,576.3 428.1,573.0 428.7,569.3 429.3,565.2 429.9,560.7 430.5,555.8 431.1,550.5 431.7,545.0 432.3,539.2 432.9,533.1 433.5,526.9 434.1,520.6 434.7,514.4 435.3,508.3 435.9,502.4 436.5,496.9 437.1,491.9 437.7,487.5 438.3,483.8 438.9,480.9 439.5,478.9 440.1,477.9 440.7,477.9 441.3,478.8 441.9,480.7 442.5,483.4 443.1,486.8 443.7,490.8 444.3,495.3 444.9,500.2 445.5,505.4 446.1,510.7 446.7,516.0 447.3,521.3 447.9,526.5 448.5,531.6 449.1,536.3 449.7,540.8 450.3,545.0 450.9,548.8 451.5,552.3 452.1,555.4 452.7,558.2 453.3,560.7 453.9,562.8 454.5,564.7 455.1,566.3 455.7,567.7 456.3,568.9 456.9,569.9 457.5,570.8 458.1,571.5 458.7,572.1 459.3,572.7 459.9,573.2 460.5,573.6 461.1,574.0 461.7,574.4 462.3,574.8 462.9,575.1 463.5,575.5 464.1,575.9 464.7,576.3 465.3,576.7 465.9,577.1 466.5,577.5 467.1,578.0 467.7,578.4 468.3,578.9 468.9,579.4 469.5,579.9 470.1,580.4 470.7,581.0 471.3,581.5 471.9,582.1 472.5,582.6 473.1,583.2 473.7,583.8 474.3,584.3 474.9,584.9 475.5,585.5 476.1,586.1 476.7,586.7 477.3,587.2 477.9,587.8 478.5,588.3 479.1,588.9 479.7,589.4 480.3,590.0 480.9,590.5 481.5,591.0 482.1,591.5 482.7,592.0 483.3,592.4 483.9,592.9 484.5,593.3 485.1,593.8 485.7,594.2 486.3,594.6 486.9,595.0 487.5,595.3 488.1,595.7 488.7,596.0 489.3,596.3 489.9,596.6 490.5,596.9 491.1,597.2 491.7,597.4 492.3,597.7 492.9,597.9 493.5,598.1 494.1,598.3 494.7,598.5 495.3,598.7 495.9,598.9 496.5,599.0 497.1,599.2 497.7,599.3 498.3,599.4 498.9,599.6 499.5,599.7 500.1,599.8 500.7,599.9 501.3,600.0 501.9,600.0 502.5,600.1 503.1,600.2 503.7,600.2 504.3,600.3 504.9,600.4 505.5,600.4 506.1,600.4 506.7,600.5 507.3,600.5 507.9,600.6 508.5,600.6 509.1,600.6 509.7,600.6 510.3,600.7 510.9,600.7 511.5,600.7 512.1,600.7 512.7,600.7 513.3,600.8 513.9,600.8 514.5,600.8 515.1,600.8 515.7,600.8 516.3,600.8 516.9,600.8 517.5,600.8 518.1,600.8 518.7,600.9 519.3,600.9 519.9,600.9 520.5,600.9 521.1,600.9 521.7,600.9 522.3,600.9 522.9,600.9 523.5,600.9 524.1,600.9 524.7,600.9 525.3,600.9 525.9,600.9 526.5,600.9 527.1,600.9 527.7,600.9 528.3,600.9 528.9,600.9 529.5,600.9 530.1,600.9 530.7,600.9 531.3,600.9 531.9,600.9 532.5,600.9 533.1,600.9 533.7,600.9 534.3,600.9 534.9,600.9 535.5,600.9 536.1,601.0 536.7,601.0 537.3,601.0 537.9,601.0 538.5,601.0 539.1,601.0 539.7,601.0 540.3,601.0 540.9,601.0 541.5,601.0 542.1,601.0 542.7,601.0 543.3,601.0 543.9,601.0 544.5,601.0 545.1,601.0 545.7,601.0 546.3,601.0 546.9,601.0 547.5,601.0 548.1,601.0 548.7,601.0 549.3,601.0 549.9,601.0 550.5,601.0 551.1,601.0 551.7,601.0 552.3,601.0 552.9,601.0 553.5,601.0 554.1,601.0 554.7,601.0 555.3,601.0 555.9,601.0 556.5,601.0 557.1,601.0 557.7,601.0 558.3,601.0 558.9,601.0 559.5,601.0 560.1,601.0 560.7,601.0 561.3,601.0 561.9,601.0 562.5,601.0 563.1,601.0 563.7,601.0 564.3,601.0 564.9,601.0 565.5,601.0 566.1,601.0 566.7,601.0 567.3,601.0 567.9,601.0 568.5,601.0 569.1,601.0 569.7,601.0 570.3,601.0 570.9,601.0 571.5,601.0 572.1,601.0 572.7,601.0 573.3,601.0 573.9,601.0 574.2,601.0" fill="none" stroke="#111" stroke-width="1.5" stroke-linejoin="round" stroke-dasharray="3.5,2.9"/>
<path d="M358.5,602.2 L358.5,449.6 L574.2,449.6 L574.2,602.2" fill="none" stroke="#303030" stroke-width="1.3"/>
<rect x="480.3" y="456.50" width="87.7" height="54.30" fill="#fff" stroke="#555" stroke-width="0.9"/>
<line x1="485.80" y1="462.00" x2="502.50" y2="462.00" stroke="#4472C4" stroke-width="1.6" />
<line x1="485.80" y1="472.90" x2="502.50" y2="472.90" stroke="#FFC000" stroke-width="1.6" />
<line x1="485.80" y1="483.80" x2="502.50" y2="483.80" stroke="#ED7D31" stroke-width="1.6" />
<line x1="485.80" y1="494.70" x2="502.50" y2="494.70" stroke="#A5A5A5" stroke-width="1.6" />
<line x1="485.80" y1="505.60" x2="502.50" y2="505.60" stroke="#111" stroke-width="1.4" stroke-dasharray="4,2.55"/>
<text x="506.3" y="464.30" font-size="7.6" fill="#1a1a1a" textLength="51.0" lengthAdjust="spacingAndGlyphs">Exp. (w/o FAB)</text>
<text x="506.3" y="475.20" font-size="7.6" fill="#1a1a1a" textLength="56.5" lengthAdjust="spacingAndGlyphs">Exp. Background</text>
<text x="506.3" y="486.10" font-size="7.6" fill="#1a1a1a">sp<tspan font-size="4.6" dy="-2.4">3</tspan></text>
<text x="506.3" y="497.00" font-size="7.6" fill="#1a1a1a">sp<tspan font-size="4.6" dy="-2.4">2</tspan></text>
<text x="506.3" y="507.90" font-size="7.6" fill="#1a1a1a" textLength="40.4" lengthAdjust="spacingAndGlyphs">Fitted Curve</text>
<text x="358.50" y="622.30" font-size="11.8" text-anchor="middle" fill="#1a1a1a" textLength="19.70" lengthAdjust="spacingAndGlyphs" >298</text>
<text x="394.45" y="622.30" font-size="11.8" text-anchor="middle" fill="#1a1a1a" textLength="19.70" lengthAdjust="spacingAndGlyphs" >296</text>
<text x="430.40" y="622.30" font-size="11.8" text-anchor="middle" fill="#1a1a1a" textLength="19.70" lengthAdjust="spacingAndGlyphs" >294</text>
<text x="466.35" y="622.30" font-size="11.8" text-anchor="middle" fill="#1a1a1a" textLength="19.70" lengthAdjust="spacingAndGlyphs" >292</text>
<text x="502.30" y="622.30" font-size="11.8" text-anchor="middle" fill="#1a1a1a" textLength="19.70" lengthAdjust="spacingAndGlyphs" >290</text>
<text x="538.25" y="622.30" font-size="11.8" text-anchor="middle" fill="#1a1a1a" textLength="19.70" lengthAdjust="spacingAndGlyphs" >288</text>
<text x="574.20" y="622.30" font-size="11.8" text-anchor="middle" fill="#1a1a1a" textLength="19.70" lengthAdjust="spacingAndGlyphs" >286</text>
<text x="404.50" y="644.50" font-size="14.0" text-anchor="start" fill="#1a1a1a" textLength="130.00" lengthAdjust="spacingAndGlyphs" >Binding Energy ( eV )</text>
<text transform="translate(331.8,594.5) rotate(-90)" font-size="13.9" fill="#1a1a1a" textLength="130.1" lengthAdjust="spacingAndGlyphs">Intensity ( arb. unit )</text>
<text x="26.30" y="274.00" font-size="12" text-anchor="start" fill="#1a1a1a" textLength="13.10" lengthAdjust="spacingAndGlyphs" >(c)</text>
<text x="95.00" y="482.90" font-size="12" text-anchor="start" fill="#111" textLength="33.60" lengthAdjust="spacingAndGlyphs" >4 mm</text>
</svg>
</body></html>
